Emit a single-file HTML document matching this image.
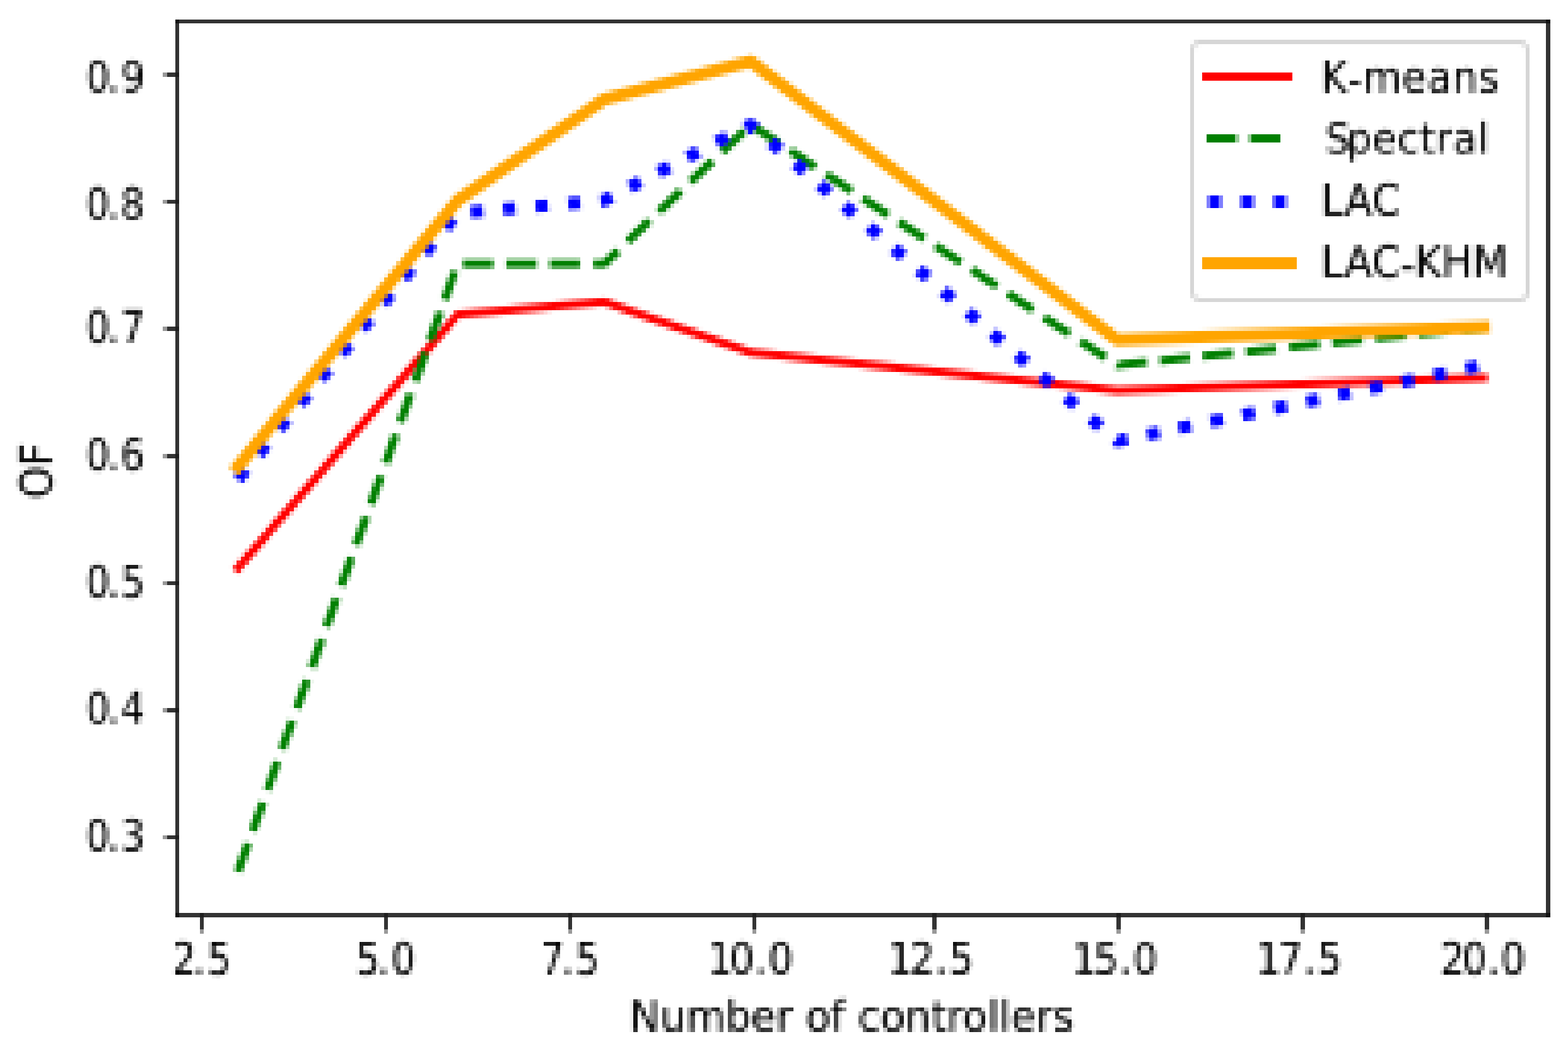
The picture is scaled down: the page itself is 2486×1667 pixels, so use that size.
<!DOCTYPE html>
<html lang="en">
<head>
<meta charset="utf-8">
<title>OF vs. number of controllers</title>
<style>
html,body{margin:0;padding:0;background:#fff;}
body{width:2486px;height:1667px;overflow:hidden;}
figure{margin:0;}
svg{display:block;}
.px{shape-rendering:crispEdges;stroke:none;}
text{font-family:"DejaVu Sans","Liberation Sans",sans-serif;font-size:65px;fill:#00f;stroke:#00f;stroke-width:0.2px;}
.scr{mix-blend-mode:screen;}
</style>
</head>
<body>
<main>
<figure>
<svg width="2486" height="1667" viewBox="0 0 2486 1667" role="img" aria-label="Line chart of OF against number of controllers for K-means, Spectral, LAC and LAC-KHM">
<defs>
<filter id="raster" filterUnits="userSpaceOnUse" x="0" y="0" width="2486" height="1667" color-interpolation-filters="sRGB">
<feColorMatrix in="SourceGraphic" type="matrix" values="0 0 0 0 0  0 0 0 0 0  0 0 0 0 0  0 0 1 0 0" result="ink"/>
<feConvolveMatrix in="ink" order="7 1" kernelMatrix=".75 1 1 1 1 1 .75" divisor="6.5" edgeMode="none" preserveAlpha="false" result="bx"/>
<feConvolveMatrix in="bx" order="1 7" kernelMatrix=".75 1 1 1 1 1 .75" divisor="6.5" edgeMode="none" preserveAlpha="false" result="b"/>
<feDisplacementMap in="b" in2="SourceGraphic" scale="16" xChannelSelector="R" yChannelSelector="G"/>
</filter>
</defs>
<rect width="2486" height="1667" fill="#fff"/>
<!-- data series, drawn in plotting order; each series is built from anti-aliased cells on the chart's native 72-dpi grid -->
<g id="series" class="px">
<g id="series-k-means" fill="#ff0000">
<path d="M953 473h6v6h-6zM875 479h78v7h-78zM959 479h20v7h-20zM803 486h72v6h-72zM979 486h19v6h-19zM725 492h78v7h-78zM998 492h19v7h-19zM719 499h6v6h-6zM1017 499h13v6h-13zM713 505h6v7h-6zM1037 505h13v7h-13zM706 512h7v6h-7zM1056 512h13v6h-13zM700 518h6v13h-6zM1076 518h13v7h-13zM1089 525h19v6h-19zM693 531h7v7h-7zM1108 531h20v7h-20zM687 538h6v6h-6zM1128 538h19v6h-19zM680 544h7v7h-7zM1147 544h20v7h-20zM674 551h6v6h-6zM1167 551h19v6h-19zM667 557h7v7h-7zM1186 557h46v7h-46zM661 564h6v13h-6zM1238 564h58v6h-58zM1296 570h65v7h-65zM654 577h7v6h-7zM1361 577h59v6h-59zM648 583h6v7h-6zM1426 583h59v7h-59zM641 590h7v6h-7zM1485 590h65v6h-65zM635 596h6v7h-6zM1550 596h58v7h-58zM2250 596h104v7h-104zM628 603h7v6h-7zM1614 603h59v6h-59zM2062 603h188v6h-188zM622 609h6v7h-6zM1673 609h65v7h-65zM1874 609h188v7h-188zM615 616h7v13h-7zM1738 616h136v6h-136zM609 629h6v6h-6zM602 635h7v7h-7zM596 642h6v6h-6zM589 648h7v7h-7zM583 655h6v6h-6zM576 661h7v7h-7zM570 668h6v13h-6zM563 681h7v6h-7zM557 687h6v7h-6zM550 694h7v6h-7zM544 700h6v7h-6zM537 707h7v6h-7zM531 713h6v14h-6zM524 727h7v6h-7zM518 733h6v7h-6zM511 740h7v6h-7zM505 746h6v7h-6zM498 753h7v6h-7zM492 759h6v7h-6zM485 766h7v13h-7zM479 779h6v6h-6zM472 785h7v7h-7zM466 792h6v6h-6zM459 798h7v7h-7zM453 805h6v6h-6zM446 811h7v7h-7zM440 818h6v13h-6zM433 831h7v6h-7zM427 837h6v7h-6zM421 844h6v6h-6zM414 850h7v7h-7zM408 857h6v6h-6zM401 863h7v13h-7zM395 876h6v7h-6zM388 883h7v6h-7zM382 889h6v7h-6zM375 896h7v6h-7z"/>
<path fill-opacity=".996" d="M1030 499h7v6h-7zM706 518h7v7h-7zM1069 518h7v7h-7zM1232 557h6v7h-6zM654 570h7v7h-7zM1420 577h6v6h-6zM1608 596h6v7h-6zM576 668h7v6h-7zM524 720h7v7h-7zM446 818h7v6h-7zM395 870h6v6h-6z"/>
<path fill-opacity=".992" d="M1232 564h6v6h-6zM1420 583h6v7h-6zM2244 596h6v7h-6zM1608 603h6v6h-6z"/>
<path fill-opacity=".988" d="M875 486h6v6h-6zM1050 505h6v7h-6zM2056 603h6v6h-6zM2250 603h7v6h-7zM1867 609h7v7h-7zM2062 609h7v7h-7zM622 616h6v6h-6zM1874 616h6v6h-6zM609 622h6v7h-6zM492 766h6v6h-6zM479 772h6v7h-6z"/>
<path fill-opacity=".984" d="M797 486h6v6h-6zM1050 512h6v6h-6z"/>
<path fill-opacity=".98" d="M953 479h6v7h-6zM725 499h7v6h-7zM693 525h7v6h-7zM563 674h7v7h-7zM433 824h7v7h-7z"/>
<path fill-opacity=".976" d="M1069 512h7v6h-7zM667 564h7v6h-7zM1296 564h7v6h-7zM1485 583h6v7h-6zM1673 603h6v6h-6zM537 713h7v7h-7zM408 863h6v7h-6z"/>
<path fill-opacity=".973" d="M1030 505h7v7h-7zM1543 596h7v7h-7zM1731 616h7v6h-7z"/>
<path fill-opacity=".969" d="M946 473h7v6h-7zM648 577h6v6h-6zM1355 577h6v6h-6zM518 727h6v6h-6zM388 876h7v7h-7z"/>
<path fill-opacity=".965" d="M713 512h6v6h-6zM583 661h6v7h-6zM453 811h6v7h-6z"/>
<path fill-opacity=".957" d="M1089 518h6v7h-6zM2237 596h7v7h-7zM2049 603h7v6h-7z"/>
<path fill-opacity=".953" d="M1011 499h6v6h-6zM2257 603h6v6h-6zM1861 609h6v7h-6zM2069 609h6v7h-6zM1880 616h7v6h-7zM602 629h7v6h-7zM472 779h7v6h-7z"/>
<path fill-opacity=".949" d="M628 609h7v7h-7zM498 759h7v7h-7z"/>
<path fill-opacity=".945" d="M1361 570h7v7h-7zM1550 590h6v6h-6z"/>
<path fill-opacity=".941" d="M803 492h7v7h-7zM1738 609h6v7h-6z"/>
<path fill-opacity=".937" d="M1108 525h7v6h-7zM687 531h6v7h-6zM1180 557h6v7h-6zM1478 590h7v6h-7zM1666 609h7v7h-7zM557 681h6v6h-6zM427 831h6v6h-6z"/>
<path fill-opacity=".933" d="M868 479h7v7h-7zM992 492h6v7h-6zM674 557h6v7h-6zM1290 570h6v7h-6zM544 707h6v6h-6zM414 857h7v6h-7z"/>
<path fill-opacity=".922" d="M2231 596h6v7h-6zM2043 603h6v6h-6zM1854 609h7v7h-7z"/>
<path fill-opacity=".918" d="M641 583h7v7h-7zM2263 603h7v6h-7zM2075 609h7v7h-7zM1887 616h6v6h-6zM511 733h7v7h-7zM382 883h6v6h-6z"/>
<path fill-opacity=".914" d="M719 505h6v7h-6zM1128 531h6v7h-6zM1160 551h7v6h-7zM1238 557h7v7h-7zM589 655h7v6h-7zM459 805h7v6h-7z"/>
<path fill-opacity=".91" d="M1426 577h7v6h-7zM1614 596h7v7h-7z"/>
<path fill-opacity=".906" d="M881 486h7v6h-7zM972 486h7v6h-7z"/>
<path fill-opacity=".902" d="M1413 583h7v7h-7zM1601 603h7v6h-7z"/>
<path fill-opacity=".898" d="M790 486h7v6h-7zM1225 564h7v6h-7zM596 635h6v7h-6zM466 785h6v7h-6z"/>
<path fill-opacity=".894" d="M959 473h7v6h-7zM635 603h6v6h-6zM505 753h6v6h-6z"/>
<path fill-opacity=".89" d="M732 499h6v6h-6z"/>
<path fill-opacity=".886" d="M1147 538h7v6h-7zM1141 544h6v7h-6zM2224 596h7v7h-7zM2036 603h7v6h-7zM1848 609h6v7h-6z"/>
<path fill-opacity=".882" d="M940 473h6v6h-6zM2270 603h6v6h-6zM2082 609h6v7h-6zM1893 616h7v6h-7zM375 902h7v7h-7z"/>
<path fill-opacity=".878" d="M680 538h7v6h-7zM1303 564h6v6h-6z"/>
<path fill-opacity=".875" d="M1491 583h7v7h-7zM1679 603h7v6h-7zM550 687h7v7h-7zM421 837h6v7h-6z"/>
<path fill-opacity=".871" d="M680 551h7v6h-7zM1725 616h6v6h-6zM550 700h7v7h-7zM421 850h6v7h-6z"/>
<path fill-opacity=".867" d="M1348 577h7v6h-7zM1537 596h6v7h-6z"/>
<path fill-opacity=".863" d="M979 479h6v7h-6z"/>
<path fill-opacity=".855" d="M810 492h6v7h-6zM1167 544h6v7h-6z"/>
<path fill-opacity=".851" d="M1121 538h7v6h-7zM635 590h6v6h-6zM2218 596h6v7h-6zM2030 603h6v6h-6zM2276 603h7v6h-7zM1842 609h6v7h-6zM505 740h6v6h-6zM375 889h7v7h-7z"/>
<path fill-opacity=".847" d="M862 479h6v7h-6zM2088 609h7v7h-7zM1900 616h6v6h-6zM466 798h6v7h-6z"/>
<path fill-opacity=".843" d="M1368 570h6v7h-6zM596 648h6v7h-6z"/>
<path fill-opacity=".839" d="M1556 590h6v6h-6zM1744 609h7v7h-7z"/>
<path fill-opacity=".835" d="M1660 609h6v7h-6z"/>
<path fill-opacity=".831" d="M1283 570h7v7h-7zM1472 590h6v6h-6z"/>
<path fill-opacity=".827" d="M998 486h6v6h-6z"/>
<path fill-opacity=".824" d="M1186 551h7v6h-7zM589 642h7v6h-7zM459 792h7v6h-7z"/>
<path fill-opacity=".82" d="M888 486h6v6h-6zM2211 596h7v7h-7zM511 746h7v7h-7zM382 896h6v6h-6z"/>
<path fill-opacity=".816" d="M1102 531h6v7h-6zM641 596h7v7h-7zM2023 603h7v6h-7zM2283 603h6v6h-6zM1835 609h7v7h-7zM2095 609h6v7h-6zM1906 616h7v6h-7z"/>
<path fill-opacity=".812" d="M784 486h6v6h-6z"/>
<path fill-opacity=".808" d="M1245 557h6v7h-6zM1433 577h6v6h-6z"/>
<path fill-opacity=".804" d="M738 499h7v6h-7zM1621 596h6v7h-6z"/>
<path fill-opacity=".8" d="M1595 603h6v6h-6z"/>
<path fill-opacity=".796" d="M933 473h7v6h-7zM674 544h6v7h-6zM1219 564h6v6h-6zM1407 583h6v7h-6zM544 694h6v6h-6z"/>
<path fill-opacity=".792" d="M1017 492h7v7h-7zM414 844h7v6h-7z"/>
<path fill-opacity=".788" d="M557 694h6v6h-6zM427 844h6v6h-6z"/>
<path fill-opacity=".784" d="M687 544h6v7h-6zM2205 596h6v7h-6z"/>
<path fill-opacity=".78" d="M1082 525h7v6h-7zM2017 603h6v6h-6zM2289 603h7v6h-7zM1829 609h6v7h-6zM2101 609h7v7h-7zM1913 616h6v6h-6z"/>
<path fill-opacity=".773" d="M1309 564h7v6h-7zM1498 583h6v7h-6z"/>
<path fill-opacity=".769" d="M816 492h7v7h-7zM1686 603h6v6h-6z"/>
<path fill-opacity=".765" d="M628 596h7v7h-7zM1530 596h7v7h-7zM1718 616h7v6h-7zM498 746h7v7h-7z"/>
<path fill-opacity=".761" d="M855 479h7v7h-7zM1342 577h6v6h-6zM369 896h6v6h-6z"/>
<path fill-opacity=".757" d="M1037 499h6v6h-6zM472 792h7v6h-7z"/>
<path fill-opacity=".753" d="M719 492h6v7h-6zM602 642h7v6h-7z"/>
<path fill-opacity=".749" d="M2198 596h7v7h-7zM2010 603h7v6h-7z"/>
<path fill-opacity=".745" d="M1063 518h6v7h-6zM2296 603h6v6h-6zM1822 609h7v7h-7zM2108 609h6v7h-6zM1919 616h7v6h-7z"/>
<path fill-opacity=".737" d="M1374 570h7v7h-7zM1562 590h7v6h-7zM1751 609h6v7h-6z"/>
<path fill-opacity=".733" d="M894 486h7v6h-7z"/>
<path fill-opacity=".729" d="M713 499h6v6h-6zM1465 590h7v6h-7zM1653 609h7v7h-7zM583 648h6v7h-6zM453 798h6v7h-6z"/>
<path fill-opacity=".725" d="M777 486h7v6h-7zM1277 570h6v7h-6z"/>
<path fill-opacity=".722" d="M1056 505h7v7h-7zM648 590h6v6h-6zM518 740h6v6h-6zM388 889h7v7h-7z"/>
<path fill-opacity=".718" d="M745 499h6v6h-6z"/>
<path fill-opacity=".714" d="M2192 596h6v7h-6zM2004 603h6v6h-6zM1816 609h6v7h-6z"/>
<path fill-opacity=".71" d="M927 473h6v6h-6zM1043 512h7v6h-7zM2302 603h7v6h-7zM2114 609h7v7h-7zM1926 616h6v6h-6z"/>
<path fill-opacity=".706" d="M1251 557h7v7h-7z"/>
<path fill-opacity=".702" d="M1439 577h7v6h-7zM1627 596h7v7h-7z"/>
<path fill-opacity=".694" d="M667 551h7v6h-7zM1400 583h7v7h-7zM1588 603h7v6h-7zM537 700h7v7h-7zM408 850h6v7h-6z"/>
<path fill-opacity=".69" d="M1212 564h7v6h-7z"/>
<path fill-opacity=".686" d="M1076 512h6v6h-6zM433 837h7v7h-7z"/>
<path fill-opacity=".682" d="M823 492h6v7h-6zM693 538h7v6h-7zM563 687h7v7h-7z"/>
<path fill-opacity=".678" d="M2185 596h7v7h-7zM1997 603h7v6h-7zM1809 609h7v7h-7z"/>
<path fill-opacity=".675" d="M849 479h6v7h-6zM1024 505h6v7h-6zM2309 603h6v6h-6zM2121 609h6v7h-6zM1932 616h7v6h-7z"/>
<path fill-opacity=".671" d="M1316 564h6v6h-6z"/>
<path fill-opacity=".667" d="M1504 583h7v7h-7zM1692 603h7v6h-7z"/>
<path fill-opacity=".663" d="M2354 596h7v7h-7zM1712 616h6v6h-6z"/>
<path fill-opacity=".659" d="M1335 577h7v6h-7zM1524 596h6v7h-6z"/>
<path fill-opacity=".655" d="M622 603h6v6h-6zM492 753h6v6h-6z"/>
<path fill-opacity=".651" d="M1095 518h7v7h-7z"/>
<path fill-opacity=".647" d="M901 486h6v6h-6zM609 635h6v7h-6zM479 785h6v7h-6z"/>
<path fill-opacity=".643" d="M2179 596h6v7h-6zM1991 603h6v6h-6zM2315 603h7v6h-7zM1803 609h6v7h-6zM2127 609h6v7h-6zM1939 616h6v6h-6z"/>
<path fill-opacity=".639" d="M771 486h6v6h-6zM1004 499h7v6h-7z"/>
<path fill-opacity=".635" d="M1193 551h6v6h-6zM1381 570h6v7h-6z"/>
<path fill-opacity=".631" d="M751 499h7v6h-7zM1569 590h6v6h-6zM1757 609h7v7h-7z"/>
<path fill-opacity=".627" d="M1647 609h6v7h-6z"/>
<path fill-opacity=".624" d="M920 473h7v6h-7zM1271 570h6v7h-6zM1459 590h6v6h-6z"/>
<path fill-opacity=".616" d="M706 505h7v7h-7zM1115 525h6v6h-6zM576 655h7v6h-7z"/>
<path fill-opacity=".612" d="M1173 557h7v7h-7zM2172 596h7v7h-7zM446 805h7v6h-7z"/>
<path fill-opacity=".608" d="M1984 603h7v6h-7zM2322 603h6v6h-6zM1796 609h7v7h-7zM2133 609h7v7h-7zM1945 616h7v6h-7zM524 733h7v7h-7zM395 883h6v6h-6z"/>
<path fill-opacity=".604" d="M985 492h7v7h-7zM654 583h7v7h-7z"/>
<path fill-opacity=".6" d="M1258 557h6v7h-6zM1446 577h6v6h-6z"/>
<path fill-opacity=".596" d="M829 492h7v7h-7zM1634 596h6v7h-6z"/>
<path fill-opacity=".592" d="M1582 603h6v6h-6z"/>
<path fill-opacity=".588" d="M842 479h7v7h-7zM1206 564h6v6h-6zM1394 583h6v7h-6z"/>
<path fill-opacity=".58" d="M1134 531h7v7h-7z"/>
<path fill-opacity=".576" d="M1154 551h6v6h-6zM2166 596h6v7h-6z"/>
<path fill-opacity=".573" d="M661 557h6v7h-6zM1978 603h6v6h-6zM2328 603h7v6h-7zM1790 609h6v7h-6zM2140 609h6v7h-6zM1952 616h6v6h-6zM531 707h6v6h-6z"/>
<path fill-opacity=".569" d="M966 486h6v6h-6zM401 857h7v6h-7z"/>
<path fill-opacity=".565" d="M1322 564h7v6h-7zM1511 583h6v7h-6zM440 831h6v6h-6z"/>
<path fill-opacity=".561" d="M907 486h7v6h-7zM700 531h6v7h-6zM1699 603h6v6h-6zM570 681h6v6h-6z"/>
<path fill-opacity=".557" d="M1517 596h7v7h-7zM1705 616h7v6h-7z"/>
<path fill-opacity=".553" d="M966 473h6v6h-6zM764 486h7v6h-7zM1329 577h6v6h-6z"/>
<path fill-opacity=".545" d="M758 499h6v6h-6zM1154 538h6v6h-6z"/>
<path fill-opacity=".541" d="M1134 544h7v7h-7zM2348 590h6v6h-6zM2159 596h7v7h-7zM1971 603h7v6h-7z"/>
<path fill-opacity=".537" d="M914 473h6v6h-6zM2335 603h6v6h-6zM1783 609h7v7h-7zM2146 609h7v7h-7zM1958 616h7v6h-7zM1770 622h7v7h-7z"/>
<path fill-opacity=".533" d="M1199 551h7v6h-7z"/>
<path fill-opacity=".529" d="M1387 570h7v7h-7zM1575 590h7v6h-7zM615 609h7v7h-7zM1764 609h6v7h-6z"/>
<path fill-opacity=".525" d="M485 759h7v7h-7z"/>
<path fill-opacity=".522" d="M1452 590h7v6h-7zM1640 609h7v7h-7zM485 779h7v6h-7z"/>
<path fill-opacity=".518" d="M985 479h7v7h-7zM1264 570h7v7h-7zM615 629h7v6h-7z"/>
<path fill-opacity=".51" d="M836 492h6v7h-6zM1173 544h7v7h-7z"/>
<path fill-opacity=".506" d="M2341 590h7v6h-7zM2153 596h6v7h-6zM1965 603h6v6h-6zM1777 609h6v7h-6z"/>
<path fill-opacity=".502" d="M836 479h6v7h-6zM1115 538h6v6h-6zM2341 603h7v6h-7zM2153 609h6v7h-6zM1965 616h6v6h-6zM1777 622h6v7h-6z"/>
<path fill-opacity=".498" d="M1264 557h7v7h-7z"/>
<path fill-opacity=".494" d="M1452 577h7v6h-7zM1640 596h7v7h-7z"/>
<path fill-opacity=".49" d="M1764 622h6v7h-6z"/>
<path fill-opacity=".486" d="M700 512h6v6h-6zM1387 583h7v7h-7zM1575 603h7v6h-7z"/>
<path fill-opacity=".482" d="M1004 486h7v6h-7zM1199 564h7v6h-7zM570 661h6v7h-6zM440 811h6v7h-6z"/>
<path fill-opacity=".478" d="M401 876h7v7h-7z"/>
<path fill-opacity=".475" d="M914 486h6v6h-6zM661 577h6v6h-6zM531 727h6v6h-6z"/>
<path fill-opacity=".471" d="M2335 590h6v6h-6zM2146 596h7v7h-7zM1958 603h7v6h-7zM1770 609h7v7h-7z"/>
<path fill-opacity=".467" d="M758 486h6v6h-6zM1095 531h7v7h-7zM2348 603h6v6h-6zM2159 609h7v7h-7zM1971 616h7v6h-7zM1783 622h7v7h-7z"/>
<path fill-opacity=".463" d="M1329 564h6v6h-6z"/>
<path fill-opacity=".459" d="M764 499h7v6h-7zM1517 583h7v7h-7zM1705 603h7v6h-7z"/>
<path fill-opacity=".455" d="M1699 616h6v6h-6z"/>
<path fill-opacity=".451" d="M907 473h7v6h-7zM1322 577h7v6h-7zM1511 596h6v7h-6z"/>
<path fill-opacity=".447" d="M1024 492h6v7h-6z"/>
<path fill-opacity=".443" d="M654 564h7v6h-7z"/>
<path fill-opacity=".439" d="M2328 590h7v6h-7zM524 713h7v7h-7zM395 863h6v7h-6z"/>
<path fill-opacity=".435" d="M2140 596h6v7h-6zM1952 603h6v6h-6zM2166 609h6v7h-6zM1978 616h6v6h-6zM1790 622h6v7h-6z"/>
<path fill-opacity=".431" d="M706 525h7v6h-7zM1076 525h6v6h-6zM576 674h7v7h-7zM446 824h7v7h-7z"/>
<path fill-opacity=".427" d="M1206 551h6v6h-6zM1394 570h6v7h-6zM369 902h6v7h-6z"/>
<path fill-opacity=".424" d="M842 492h7v7h-7zM1582 590h6v6h-6z"/>
<path fill-opacity=".42" d="M1634 609h6v7h-6z"/>
<path fill-opacity=".416" d="M829 479h7v7h-7zM1258 570h6v7h-6zM1446 590h6v6h-6z"/>
<path fill-opacity=".412" d="M1043 499h7v6h-7z"/>
<path fill-opacity=".404" d="M2322 590h6v6h-6zM2133 596h7v7h-7z"/>
<path fill-opacity=".4" d="M1945 603h7v6h-7zM2172 609h7v7h-7zM609 616h6v6h-6zM1984 616h7v6h-7zM1796 622h7v7h-7zM479 766h6v6h-6z"/>
<path fill-opacity=".396" d="M1056 518h7v7h-7z"/>
<path fill-opacity=".392" d="M1271 557h6v7h-6zM1459 577h6v6h-6zM492 772h6v7h-6z"/>
<path fill-opacity=".388" d="M920 486h7v6h-7zM1647 596h6v7h-6zM622 622h6v7h-6z"/>
<path fill-opacity=".384" d="M1569 603h6v6h-6zM1757 622h7v7h-7z"/>
<path fill-opacity=".38" d="M751 486h7v6h-7zM1193 564h6v6h-6zM1381 583h6v7h-6z"/>
<path fill-opacity=".376" d="M1063 505h6v7h-6z"/>
<path fill-opacity=".373" d="M771 499h6v6h-6z"/>
<path fill-opacity=".369" d="M2315 590h7v6h-7zM2127 596h6v7h-6z"/>
<path fill-opacity=".365" d="M901 473h6v6h-6zM1939 603h6v6h-6zM2179 609h6v7h-6zM1991 616h6v6h-6zM1803 622h6v7h-6z"/>
<path fill-opacity=".361" d="M1037 512h6v6h-6zM693 518h7v7h-7zM2354 590h7v6h-7z"/>
<path fill-opacity=".357" d="M1335 564h7v6h-7zM1524 583h6v7h-6zM563 668h7v6h-7zM433 818h7v6h-7z"/>
<path fill-opacity=".353" d="M1712 603h6v6h-6zM408 870h6v6h-6z"/>
<path fill-opacity=".349" d="M667 570h7v7h-7zM1504 596h7v7h-7zM1692 616h7v6h-7zM537 720h7v7h-7z"/>
<path fill-opacity=".345" d="M1316 577h6v6h-6z"/>
<path fill-opacity=".341" d="M1082 512h7v6h-7z"/>
<path fill-opacity=".337" d="M849 492h6v7h-6z"/>
<path fill-opacity=".333" d="M2309 590h6v6h-6zM2121 596h6v7h-6zM1932 603h7v6h-7z"/>
<path fill-opacity=".329" d="M823 479h6v7h-6zM1017 505h7v7h-7zM2185 609h7v7h-7zM1997 616h7v6h-7zM1809 622h7v7h-7z"/>
<path fill-opacity=".325" d="M1212 551h7v6h-7z"/>
<path fill-opacity=".322" d="M648 570h6v7h-6zM1400 570h7v7h-7zM1588 590h7v6h-7zM518 720h6v7h-6z"/>
<path fill-opacity=".318" d="M388 870h7v6h-7z"/>
<path fill-opacity=".314" d="M1439 590h7v6h-7zM1627 609h7v7h-7z"/>
<path fill-opacity=".31" d="M713 518h6v7h-6zM1251 570h7v7h-7zM583 668h6v6h-6zM453 818h6v6h-6z"/>
<path fill-opacity=".306" d="M1102 518h6v7h-6z"/>
<path fill-opacity=".302" d="M927 486h6v6h-6zM2354 603h7v6h-7z"/>
<path fill-opacity=".298" d="M2302 590h7v6h-7zM2114 596h7v7h-7zM1926 603h6v6h-6z"/>
<path fill-opacity=".294" d="M745 486h6v6h-6zM998 499h6v6h-6zM2192 609h6v7h-6zM2004 616h6v6h-6zM1816 622h6v7h-6z"/>
<path fill-opacity=".29" d="M1277 557h6v7h-6z"/>
<path fill-opacity=".286" d="M777 499h7v6h-7zM1465 577h7v6h-7zM1653 596h7v7h-7zM602 622h7v7h-7z"/>
<path fill-opacity=".282" d="M1751 622h6v7h-6zM472 772h7v7h-7z"/>
<path fill-opacity=".278" d="M894 473h7v6h-7zM1374 583h7v7h-7zM1562 603h7v6h-7zM498 766h7v6h-7z"/>
<path fill-opacity=".275" d="M628 616h7v6h-7z"/>
<path fill-opacity=".271" d="M1121 525h7v6h-7z"/>
<path fill-opacity=".263" d="M1167 557h6v7h-6zM2296 590h6v6h-6zM2108 596h6v7h-6zM1919 603h7v6h-7z"/>
<path fill-opacity=".259" d="M979 492h6v7h-6zM2198 609h7v7h-7zM2010 616h7v6h-7zM1822 622h7v7h-7z"/>
<path fill-opacity=".255" d="M1186 564h7v6h-7zM1342 564h6v6h-6z"/>
<path fill-opacity=".251" d="M855 492h7v7h-7zM687 525h6v6h-6zM1530 583h7v7h-7zM1718 603h7v6h-7zM557 674h6v7h-6z"/>
<path fill-opacity=".247" d="M1686 616h6v6h-6zM427 824h6v7h-6z"/>
<path fill-opacity=".243" d="M816 479h7v7h-7zM1309 577h7v6h-7zM1498 596h6v7h-6zM544 713h6v7h-6zM414 863h7v7h-7z"/>
<path fill-opacity=".239" d="M674 564h6v6h-6z"/>
<path fill-opacity=".235" d="M1141 531h6v7h-6z"/>
<path fill-opacity=".231" d="M2289 590h7v6h-7z"/>
<path fill-opacity=".227" d="M1147 551h7v6h-7zM2101 596h7v7h-7zM1913 603h6v6h-6zM2205 609h6v7h-6zM2017 616h6v6h-6zM1829 622h6v7h-6z"/>
<path fill-opacity=".224" d="M959 486h7v6h-7z"/>
<path fill-opacity=".22" d="M1219 551h6v6h-6zM1407 570h6v7h-6zM641 577h7v6h-7z"/>
<path fill-opacity=".216" d="M933 486h7v6h-7zM1595 590h6v6h-6zM511 727h7v6h-7zM382 876h6v7h-6z"/>
<path fill-opacity=".212" d="M1621 609h6v7h-6zM589 661h7v7h-7zM459 811h7v7h-7z"/>
<path fill-opacity=".208" d="M972 473h7v6h-7zM738 486h7v6h-7zM719 512h6v6h-6zM1245 570h6v7h-6zM1433 590h6v6h-6z"/>
<path fill-opacity=".2" d="M784 499h6v6h-6zM1160 538h7v6h-7z"/>
<path fill-opacity=".196" d="M2283 590h6v6h-6zM2095 596h6v7h-6z"/>
<path fill-opacity=".192" d="M888 473h6v6h-6zM1128 544h6v7h-6zM1906 603h7v6h-7zM2211 609h7v7h-7zM2023 616h7v6h-7zM1835 622h7v7h-7z"/>
<path fill-opacity=".188" d="M596 629h6v6h-6zM466 779h6v6h-6z"/>
<path fill-opacity=".184" d="M1283 557h7v7h-7zM1472 577h6v6h-6z"/>
<path fill-opacity=".18" d="M1660 596h6v7h-6zM635 609h6v7h-6zM505 759h6v7h-6z"/>
<path fill-opacity=".176" d="M1556 603h6v6h-6zM1744 622h7v7h-7z"/>
<path fill-opacity=".173" d="M992 479h6v7h-6zM1368 583h6v7h-6z"/>
<path fill-opacity=".165" d="M862 492h6v7h-6z"/>
<path fill-opacity=".161" d="M680 531h7v7h-7zM1108 538h7v6h-7zM1180 544h6v7h-6zM2276 590h7v6h-7zM2088 596h7v7h-7zM550 681h7v6h-7zM421 831h6v6h-6z"/>
<path fill-opacity=".157" d="M810 479h6v7h-6zM1900 603h6v6h-6zM2218 609h6v7h-6zM2030 616h6v6h-6zM1842 622h6v7h-6zM421 857h6v6h-6z"/>
<path fill-opacity=".153" d="M680 557h7v7h-7zM550 707h7v6h-7z"/>
<path fill-opacity=".149" d="M1348 564h7v6h-7zM1537 583h6v7h-6z"/>
<path fill-opacity=".145" d="M1725 603h6v6h-6z"/>
<path fill-opacity=".141" d="M1491 596h7v7h-7zM1679 616h7v6h-7z"/>
<path fill-opacity=".137" d="M1011 486h6v6h-6zM1303 577h6v6h-6zM635 583h6v7h-6zM505 733h6v7h-6zM375 883h7v6h-7z"/>
<path fill-opacity=".129" d="M940 486h6v6h-6zM725 505h7v7h-7zM1089 531h6v7h-6zM596 655h6v6h-6zM466 805h6v6h-6z"/>
<path fill-opacity=".125" d="M2270 590h6v6h-6zM2082 596h6v7h-6zM1893 603h7v6h-7z"/>
<path fill-opacity=".122" d="M732 486h6v6h-6zM2224 609h7v7h-7zM2036 616h7v6h-7zM1848 622h6v7h-6z"/>
<path fill-opacity=".118" d="M1225 551h7v6h-7z"/>
<path fill-opacity=".114" d="M790 499h7v6h-7zM1413 570h7v7h-7zM1601 590h7v6h-7zM589 635h7v7h-7zM459 785h7v7h-7z"/>
<path fill-opacity=".11" d="M1030 492h7v7h-7zM511 753h7v6h-7zM382 902h6v7h-6z"/>
<path fill-opacity=".106" d="M881 473h7v6h-7zM1426 590h7v6h-7zM641 603h7v6h-7zM1614 609h7v7h-7z"/>
<path fill-opacity=".102" d="M1238 570h7v7h-7z"/>
<path fill-opacity=".098" d="M1069 525h7v6h-7z"/>
<path fill-opacity=".094" d="M674 538h6v6h-6z"/>
<path fill-opacity=".09" d="M2263 590h7v6h-7zM2075 596h7v7h-7zM1887 603h6v6h-6zM544 687h6v7h-6zM414 837h7v7h-7zM427 850h6v7h-6z"/>
<path fill-opacity=".086" d="M687 551h6v6h-6zM2231 609h6v7h-6zM2043 616h6v6h-6zM1854 622h7v7h-7zM557 700h6v7h-6z"/>
<path fill-opacity=".082" d="M1050 499h6v6h-6zM1290 557h6v7h-6z"/>
<path fill-opacity=".078" d="M868 492h7v7h-7zM1478 577h7v6h-7zM1666 596h7v7h-7z"/>
<path fill-opacity=".075" d="M1050 518h6v7h-6zM628 590h7v6h-7zM1738 622h6v7h-6zM498 740h7v6h-7z"/>
<path fill-opacity=".071" d="M803 479h7v7h-7zM1361 583h7v7h-7zM1550 603h6v6h-6zM472 798h7v7h-7zM369 889h6v7h-6z"/>
<path fill-opacity=".067" d="M602 648h7v7h-7z"/>
<path fill-opacity=".063" d="M1069 505h7v7h-7z"/>
<path fill-opacity=".059" d="M713 492h6v7h-6zM583 642h6v6h-6z"/>
<path fill-opacity=".055" d="M1030 512h7v6h-7zM2257 590h6v6h-6zM2069 596h6v7h-6zM1880 603h7v6h-7zM518 746h6v7h-6zM453 792h6v6h-6zM388 896h7v6h-7z"/>
<path fill-opacity=".051" d="M648 596h6v7h-6zM2237 609h7v7h-7zM2049 616h7v6h-7zM1861 622h6v7h-6z"/>
<path fill-opacity=".047" d="M953 466h6v7h-6zM1355 564h6v6h-6z"/>
<path fill-opacity=".043" d="M946 486h7v6h-7zM667 544h7v7h-7zM1543 583h7v7h-7zM1731 603h7v6h-7zM1673 616h6v6h-6zM537 694h7v6h-7zM408 844h6v6h-6zM375 909h7v6h-7z"/>
<path fill-opacity=".039" d="M1089 512h6v6h-6zM693 544h7v7h-7zM1296 577h7v6h-7zM1485 596h6v7h-6zM563 694h7v6h-7zM433 844h7v6h-7z"/>
<path fill-opacity=".035" d="M725 486h7v6h-7zM1011 505h6v7h-6z"/>
<path fill-opacity=".031" d="M622 596h6v7h-6zM492 746h6v7h-6z"/>
<path fill-opacity=".027" d="M797 499h6v6h-6zM1108 518h7v7h-7zM609 642h6v6h-6zM479 792h6v6h-6z"/>
<path fill-opacity=".024" d="M875 473h6v6h-6zM992 499h6v6h-6zM1180 564h6v6h-6zM2250 590h7v6h-7z"/>
<path fill-opacity=".02" d="M706 499h7v6h-7zM1232 551h6v6h-6zM1420 570h6v7h-6zM654 590h7v6h-7zM1608 590h6v6h-6zM2062 596h7v7h-7zM1874 603h6v6h-6zM2244 609h6v7h-6zM2056 616h6v6h-6zM1867 622h7v7h-7zM576 648h7v7h-7zM524 740h7v6h-7zM446 798h7v7h-7zM395 889h6v7h-6z"/>
<path fill-opacity=".016" d="M1128 525h6v6h-6zM1160 557h7v7h-7zM1232 570h6v7h-6zM1420 590h6v6h-6zM1608 609h6v7h-6zM362 896h7v6h-7z"/>
<path fill-opacity=".012" d="M972 492h7v7h-7zM700 538h6v6h-6zM661 551h6v6h-6zM570 687h6v7h-6zM531 700h6v7h-6zM440 837h6v7h-6zM401 850h7v7h-7z"/>
<path fill-opacity=".008" d="M959 466h7v7h-7zM875 492h6v7h-6zM1147 531h7v7h-7zM1141 551h6v6h-6zM615 603h7v6h-7zM485 753h7v6h-7z"/>
<path fill-opacity=".004" d="M946 466h7v7h-7zM979 473h6v6h-6zM797 479h6v7h-6zM953 486h6v6h-6zM700 505h6v7h-6zM1167 538h6v6h-6zM1121 544h7v7h-7zM654 557h7v7h-7zM1296 557h7v7h-7zM1485 577h6v6h-6zM661 583h6v7h-6zM1355 583h6v7h-6zM2244 590h6v6h-6zM1673 596h6v7h-6zM1543 603h7v6h-7zM1731 622h7v7h-7zM615 635h7v7h-7zM570 655h6v6h-6zM524 707h7v6h-7zM531 733h6v7h-6zM485 785h7v7h-7zM440 805h6v6h-6zM401 883h7v6h-7z"/>
</g>
<g id="series-spectral" fill="#008000">
<path d="M1199 200h7v6h-7zM1206 206h6v7h-6zM1167 213h6v6h-6zM1212 213h13v6h-13zM1160 219h7v7h-7zM1225 219h7v7h-7zM1154 226h6v6h-6zM1147 232h7v7h-7zM1258 239h6v6h-6zM1264 245h7v7h-7zM1271 252h12v6h-12zM1121 258h7v7h-7zM1283 258h7v7h-7zM1115 265h6v6h-6zM1108 271h7v7h-7zM1102 278h6v6h-6zM1309 278h13v6h-13zM1322 284h7v7h-7zM1329 291h13v6h-13zM1342 297h6v7h-6zM1069 304h7v6h-7zM1063 310h6v7h-6zM1056 317h7v6h-7zM1374 317h7v6h-7zM1050 323h6v7h-6zM1381 323h13v7h-13zM1394 330h6v6h-6zM1400 336h7v7h-7zM1017 356h7v6h-7zM1433 356h6v6h-6zM1011 362h6v7h-6zM1439 362h13v7h-13zM1004 369h7v6h-7zM1452 369h7v6h-7zM998 375h6v7h-6zM1485 388h6v7h-6zM1491 395h7v6h-7zM972 401h7v7h-7zM1498 401h13v7h-13zM959 408h13v6h-13zM1511 408h6v6h-6zM738 414h39v7h-39zM803 414h46v7h-46zM875 414h39v7h-39zM946 414h20v7h-20zM1543 427h7v7h-7zM1550 434h6v6h-6zM713 440h6v13h-6zM1562 440h7v7h-7zM1569 447h6v6h-6zM706 453h7v20h-7zM1601 466h7v7h-7zM1608 473h13v6h-13zM1621 479h6v7h-6zM1627 486h7v6h-7zM693 499h7v6h-7zM1660 505h6v7h-6zM687 512h6v13h-6zM1666 512h13v6h-13zM1679 518h7v7h-7zM2322 518h26v7h-26zM680 525h7v13h-7zM1686 525h6v6h-6zM2250 525h46v6h-46zM2185 531h39v7h-39zM2114 538h45v6h-45zM1718 544h7v7h-7zM2049 544h39v7h-39zM1731 551h7v6h-7zM1984 551h39v6h-39zM1738 557h6v7h-6zM1919 557h33v7h-33zM1978 557h6v7h-6zM667 564h7v13h-7zM1854 564h26v6h-26zM1913 564h6v6h-6zM1796 570h20v7h-20zM1842 570h12v7h-12zM1777 577h19v6h-19zM661 583h6v13h-6zM654 596h7v7h-7zM648 629h6v6h-6zM641 635h7v13h-7zM635 655h6v13h-6zM622 694h6v13h-6zM615 707h7v13h-7zM609 727h6v6h-6zM596 759h6v20h-6zM589 779h7v19h-7zM576 824h7v7h-7zM570 831h6v19h-6zM563 850h7v13h-7zM550 889h7v13h-7zM544 902h6v20h-6zM537 922h7v6h-7zM524 961h7v13h-7zM518 974h6v19h-6zM505 1019h6v7h-6zM498 1032h7v13h-7zM492 1045h6v13h-6zM479 1084h6v13h-6zM472 1104h7v13h-7zM459 1149h7v7h-7zM453 1156h6v13h-6zM446 1175h7v13h-7zM433 1208h7v19h-7zM427 1227h6v20h-6zM408 1279h6v20h-6zM401 1299h7v19h-7zM388 1338h7v13h-7zM382 1351h6v19h-6zM375 1370h7v7h-7z"/>
<path fill-opacity=".996" d="M713 434h6v6h-6zM1556 434h6v6h-6zM1725 551h6v6h-6zM1744 557h7v7h-7zM615 720h7v7h-7zM453 1169h6v6h-6z"/>
<path fill-opacity=".992" d="M966 401h6v7h-6zM641 648h7v7h-7zM479 1097h6v7h-6z"/>
<path fill-opacity=".988" d="M1095 278h7v6h-7zM1556 440h6v7h-6zM1575 447h7v6h-7zM687 505h6v7h-6zM1725 544h6v7h-6zM1744 564h7v6h-7zM1854 570h7v7h-7zM667 577h7v6h-7zM524 954h7v7h-7zM505 1026h6v6h-6z"/>
<path fill-opacity=".984" d="M1329 284h6v7h-6zM1368 317h6v6h-6zM1024 349h6v7h-6zM1426 349h7v7h-7zM693 505h7v7h-7zM1978 551h6v6h-6zM1790 570h6v7h-6zM661 577h6v6h-6zM531 954h6v7h-6zM498 1026h7v6h-7z"/>
<path fill-opacity=".98" d="M1069 310h7v7h-7zM1517 408h7v6h-7zM635 648h6v7h-6zM472 1097h7v7h-7z"/>
<path fill-opacity=".976" d="M1173 206h7v7h-7zM1102 271h6v7h-6zM1387 330h7v6h-7zM719 434h6v6h-6z"/>
<path fill-opacity=".973" d="M1199 206h7v7h-7zM1498 395h6v6h-6zM609 720h6v7h-6zM446 1169h7v6h-7z"/>
<path fill-opacity=".969" d="M1063 317h6v6h-6zM972 395h7v6h-7zM1686 518h6v7h-6zM421 1240h6v7h-6z"/>
<path fill-opacity=".965" d="M1108 265h7v6h-7zM1095 284h7v7h-7z"/>
<path fill-opacity=".961" d="M1219 219h6v7h-6zM1076 304h6v6h-6zM2289 518h7v7h-7zM1919 564h7v6h-7zM583 792h6v6h-6zM505 1013h6v6h-6z"/>
<path fill-opacity=".957" d="M1043 330h7v6h-7zM1614 479h7v7h-7zM1666 505h7v7h-7zM1913 557h6v7h-6zM550 883h7v6h-7zM472 1117h7v6h-7zM459 1143h7v6h-7zM375 1377h7v6h-7z"/>
<path fill-opacity=".953" d="M1271 245h6v7h-6zM1459 375h6v7h-6zM1880 564h7v6h-7z"/>
<path fill-opacity=".949" d="M1115 258h6v7h-6zM1056 323h7v7h-7zM1426 356h7v6h-7zM1459 369h6v6h-6zM1770 577h7v6h-7zM661 596h6v7h-6zM498 1045h7v7h-7zM421 1247h6v6h-6zM414 1273h7v6h-7z"/>
<path fill-opacity=".945" d="M1251 239h7v6h-7zM524 974h7v6h-7z"/>
<path fill-opacity=".941" d="M687 525h6v6h-6z"/>
<path fill-opacity=".937" d="M1446 369h6v6h-6zM641 629h7v6h-7zM466 1117h6v6h-6z"/>
<path fill-opacity=".933" d="M1050 330h6v6h-6zM1439 356h7v6h-7zM713 453h6v7h-6zM550 902h7v7h-7zM479 1078h6v6h-6zM388 1351h7v6h-7z"/>
<path fill-opacity=".929" d="M1258 245h6v7h-6zM1627 479h7v7h-7zM1796 577h7v6h-7zM615 700h7v7h-7z"/>
<path fill-opacity=".925" d="M914 414h6v7h-6zM1984 557h7v7h-7zM576 831h7v6h-7zM453 1149h6v7h-6zM414 1279h7v7h-7z"/>
<path fill-opacity=".922" d="M1848 564h6v6h-6z"/>
<path fill-opacity=".918" d="M1173 213h7v6h-7zM998 369h6v6h-6zM589 772h7v7h-7zM427 1221h6v6h-6z"/>
<path fill-opacity=".914" d="M1277 258h6v7h-6zM1653 505h7v7h-7zM602 759h7v7h-7z"/>
<path fill-opacity=".91" d="M1608 466h6v7h-6zM1673 518h6v7h-6z"/>
<path fill-opacity=".906" d="M1212 206h7v7h-7zM1121 252h7v6h-7zM563 844h7v6h-7zM401 1292h7v7h-7z"/>
<path fill-opacity=".902" d="M1485 395h6v6h-6z"/>
<path fill-opacity=".898" d="M1400 330h7v6h-7zM700 466h6v7h-6z"/>
<path fill-opacity=".894" d="M1167 219h6v7h-6zM1004 362h7v7h-7zM1634 486h6v6h-6zM1861 570h6v7h-6zM537 915h7v7h-7zM375 1364h7v6h-7z"/>
<path fill-opacity=".89" d="M2049 551h7v6h-7z"/>
<path fill-opacity=".886" d="M1783 570h7v7h-7z"/>
<path fill-opacity=".882" d="M1232 219h6v7h-6zM1504 408h7v6h-7zM940 414h6v7h-6z"/>
<path fill-opacity=".878" d="M1381 317h6v6h-6zM992 375h6v7h-6z"/>
<path fill-opacity=".875" d="M1316 284h6v7h-6z"/>
<path fill-opacity=".871" d="M1160 226h7v6h-7zM1569 440h6v7h-6zM382 1370h6v7h-6z"/>
<path fill-opacity=".867" d="M1011 356h6v6h-6zM1712 544h6v7h-6zM544 922h6v6h-6z"/>
<path fill-opacity=".859" d="M1368 310h6v7h-6zM622 687h6v7h-6z"/>
<path fill-opacity=".855" d="M1335 297h7v7h-7zM2283 518h6v7h-6zM2114 544h7v7h-7zM1926 564h6v6h-6zM570 850h6v7h-6zM408 1299h6v6h-6z"/>
<path fill-opacity=".851" d="M1550 427h6v7h-6zM1595 466h6v7h-6z"/>
<path fill-opacity=".847" d="M1731 557h7v7h-7zM576 818h7v6h-7z"/>
<path fill-opacity=".843" d="M1154 232h6v7h-6zM1738 551h6v6h-6zM596 779h6v6h-6zM433 1227h7v7h-7z"/>
<path fill-opacity=".839" d="M1017 349h7v7h-7zM1906 564h7v6h-7z"/>
<path fill-opacity=".835" d="M1342 291h6v6h-6zM1543 434h7v6h-7zM2043 544h6v7h-6zM531 948h6v6h-6z"/>
<path fill-opacity=".831" d="M1024 356h6v6h-6zM570 824h6v7h-6zM408 1273h6v6h-6z"/>
<path fill-opacity=".827" d="M622 707h6v6h-6zM459 1156h7v6h-7z"/>
<path fill-opacity=".824" d="M1147 226h7v6h-7zM1991 557h6v7h-6zM1803 577h6v6h-6zM485 1078h7v6h-7z"/>
<path fill-opacity=".82" d="M706 447h7v6h-7zM2218 525h6v6h-6zM1718 538h7v6h-7zM1842 564h6v6h-6z"/>
<path fill-opacity=".816" d="M1562 447h7v6h-7zM596 753h6v6h-6zM544 896h6v6h-6zM382 1344h6v7h-6z"/>
<path fill-opacity=".812" d="M1322 278h7v6h-7zM667 557h7v7h-7zM648 635h6v7h-6zM511 987h7v6h-7zM485 1084h7v7h-7z"/>
<path fill-opacity=".808" d="M1374 323h7v7h-7z"/>
<path fill-opacity=".804" d="M1141 232h6v7h-6zM680 518h7v7h-7zM518 967h6v7h-6z"/>
<path fill-opacity=".8" d="M1511 401h6v7h-6z"/>
<path fill-opacity=".796" d="M1017 362h7v7h-7zM674 564h6v6h-6z"/>
<path fill-opacity=".792" d="M1154 219h6v7h-6zM1517 414h7v7h-7zM1712 538h6v6h-6zM1906 557h7v7h-7zM654 590h7v6h-7z"/>
<path fill-opacity=".788" d="M2341 512h7v6h-7zM1867 570h7v7h-7zM492 1039h6v6h-6z"/>
<path fill-opacity=".784" d="M1290 258h6v7h-6zM2153 531h6v7h-6zM2056 551h6v6h-6z"/>
<path fill-opacity=".78" d="M1777 570h6v7h-6z"/>
<path fill-opacity=".776" d="M1193 200h6v6h-6zM1147 239h7v6h-7zM1394 336h6v7h-6z"/>
<path fill-opacity=".773" d="M1206 213h6v6h-6zM1491 388h7v7h-7zM466 1110h6v7h-6z"/>
<path fill-opacity=".769" d="M628 661h7v7h-7z"/>
<path fill-opacity=".765" d="M1679 512h7v6h-7z"/>
<path fill-opacity=".761" d="M1011 369h6v6h-6zM395 1312h6v6h-6z"/>
<path fill-opacity=".757" d="M1160 213h7v6h-7zM1601 473h7v6h-7z"/>
<path fill-opacity=".753" d="M1283 252h7v6h-7zM2276 518h7v7h-7zM2121 544h6v7h-6zM1932 564h7v6h-7zM427 1247h6v6h-6z"/>
<path fill-opacity=".741" d="M1225 226h7v6h-7zM615 727h7v6h-7zM453 1175h6v7h-6z"/>
<path fill-opacity=".733" d="M1660 499h6v6h-6z"/>
<path fill-opacity=".729" d="M1621 486h6v6h-6zM2179 531h6v7h-6z"/>
<path fill-opacity=".725" d="M1264 239h7v6h-7zM1004 375h7v7h-7zM641 655h7v6h-7zM479 1104h6v6h-6z"/>
<path fill-opacity=".722" d="M777 414h7v7h-7zM1809 577h7v6h-7zM440 1208h6v6h-6z"/>
<path fill-opacity=".718" d="M1167 206h6v7h-6zM1433 362h6v7h-6zM2211 525h7v6h-7zM2224 531h7v7h-7zM2185 538h7v6h-7zM2043 551h6v6h-6zM1997 557h7v7h-7z"/>
<path fill-opacity=".714" d="M1452 362h7v7h-7zM687 499h6v6h-6zM524 948h7v6h-7z"/>
<path fill-opacity=".71" d="M667 583h7v7h-7zM505 1032h6v7h-6z"/>
<path fill-opacity=".702" d="M2348 518h6v7h-6zM661 570h6v7h-6z"/>
<path fill-opacity=".698" d="M693 492h7v7h-7zM531 961h6v6h-6zM498 1019h7v7h-7z"/>
<path fill-opacity=".694" d="M1043 323h7v7h-7zM693 512h7v6h-7z"/>
<path fill-opacity=".69" d="M1692 525h7v6h-7z"/>
<path fill-opacity=".686" d="M1452 375h7v7h-7zM1874 570h6v7h-6zM635 642h6v6h-6z"/>
<path fill-opacity=".682" d="M1433 349h6v7h-6zM732 414h6v7h-6zM719 440h6v7h-6zM2335 512h6v6h-6zM2062 551h7v6h-7zM648 622h6v7h-6zM472 1091h7v6h-7z"/>
<path fill-opacity=".678" d="M2146 531h7v7h-7zM2250 531h7v7h-7zM557 889h6v7h-6z"/>
<path fill-opacity=".675" d="M1264 252h7v6h-7zM1537 427h6v7h-6zM602 753h7v6h-7z"/>
<path fill-opacity=".671" d="M1621 473h6v6h-6zM609 713h6v7h-6zM446 1162h7v7h-7z"/>
<path fill-opacity=".667" d="M1128 258h6v7h-6z"/>
<path fill-opacity=".663" d="M738 421h39v6h-39zM803 421h46v6h-46zM875 421h39v6h-39zM946 421h7v6h-7zM1660 512h6v6h-6z"/>
<path fill-opacity=".659" d="M1225 213h7v6h-7zM1121 265h7v6h-7zM953 421h6v6h-6zM583 785h6v7h-6z"/>
<path fill-opacity=".655" d="M421 1234h6v6h-6z"/>
<path fill-opacity=".651" d="M1050 317h6v6h-6z"/>
<path fill-opacity=".647" d="M2270 518h6v7h-6zM2082 538h6v6h-6zM2127 544h6v7h-6zM1939 564h6v6h-6z"/>
<path fill-opacity=".643" d="M998 382h6v6h-6z"/>
<path fill-opacity=".639" d="M395 1305h6v7h-6z"/>
<path fill-opacity=".635" d="M1601 460h7v6h-7zM557 883h6v6h-6z"/>
<path fill-opacity=".631" d="M1283 265h7v6h-7z"/>
<path fill-opacity=".627" d="M1679 525h7v6h-7z"/>
<path fill-opacity=".624" d="M1206 200h6v6h-6zM2315 518h7v7h-7zM498 1052h7v6h-7z"/>
<path fill-opacity=".62" d="M1309 271h7v7h-7zM713 427h6v7h-6z"/>
<path fill-opacity=".616" d="M1115 271h6v7h-6zM1491 401h7v7h-7zM2004 557h6v7h-6z"/>
<path fill-opacity=".612" d="M1394 323h6v7h-6zM914 421h6v6h-6zM2205 525h6v6h-6zM2192 538h6v6h-6zM524 980h7v7h-7z"/>
<path fill-opacity=".608" d="M1056 310h7v7h-7zM687 531h6v7h-6zM2088 544h7v7h-7z"/>
<path fill-opacity=".604" d="M557 857h6v6h-6z"/>
<path fill-opacity=".596" d="M440 1182h6v6h-6zM388 1357h7v7h-7z"/>
<path fill-opacity=".592" d="M713 460h6v6h-6zM550 909h7v6h-7z"/>
<path fill-opacity=".588" d="M2017 544h6v7h-6z"/>
<path fill-opacity=".584" d="M1348 297h7v7h-7zM1511 414h6v7h-6zM940 421h6v6h-6zM615 694h7v6h-7z"/>
<path fill-opacity=".58" d="M1374 310h7v7h-7zM2328 512h7v6h-7zM1880 570h7v7h-7zM576 837h7v7h-7zM453 1143h6v6h-6zM414 1286h7v6h-7z"/>
<path fill-opacity=".576" d="M2140 531h6v7h-6zM2257 531h6v7h-6zM2069 551h6v6h-6z"/>
<path fill-opacity=".573" d="M1322 291h7v6h-7zM641 622h7v7h-7z"/>
<path fill-opacity=".569" d="M1562 434h7v6h-7zM589 766h7v6h-7zM427 1214h6v7h-6zM440 1214h6v7h-6z"/>
<path fill-opacity=".565" d="M1108 278h7v6h-7zM602 766h7v6h-7z"/>
<path fill-opacity=".561" d="M1718 551h7v6h-7z"/>
<path fill-opacity=".557" d="M1063 304h6v6h-6zM706 473h7v6h-7zM2224 525h7v6h-7z"/>
<path fill-opacity=".553" d="M563 837h7v7h-7zM401 1286h7v6h-7z"/>
<path fill-opacity=".549" d="M628 694h7v6h-7z"/>
<path fill-opacity=".545" d="M2263 518h7v7h-7zM2133 544h7v7h-7zM1945 564h7v6h-7zM395 1338h6v6h-6z"/>
<path fill-opacity=".541" d="M700 460h6v6h-6zM1653 499h7v6h-7zM2322 525h6v6h-6zM2075 538h7v6h-7z"/>
<path fill-opacity=".537" d="M537 909h7v6h-7zM375 1357h7v7h-7z"/>
<path fill-opacity=".529" d="M1738 564h6v6h-6z"/>
<path fill-opacity=".525" d="M979 401h6v7h-6zM1575 453h7v7h-7zM674 531h6v7h-6zM1731 544h7v7h-7zM511 980h7v7h-7z"/>
<path fill-opacity=".522" d="M719 427h6v7h-6zM2348 512h6v6h-6z"/>
<path fill-opacity=".518" d="M1751 557h6v7h-6z"/>
<path fill-opacity=".514" d="M1102 284h6v7h-6zM1550 440h6v7h-6z"/>
<path fill-opacity=".51" d="M1335 284h7v7h-7zM1543 421h7v6h-7zM2198 525h7v6h-7zM2179 538h6v6h-6zM2198 538h7v6h-7zM674 557h6v7h-6zM2010 557h7v7h-7zM382 1377h6v6h-6z"/>
<path fill-opacity=".506" d="M953 408h6v6h-6zM2010 544h7v7h-7z"/>
<path fill-opacity=".502" d="M1952 557h6v7h-6zM511 1013h7v6h-7z"/>
<path fill-opacity=".498" d="M1069 297h7v7h-7z"/>
<path fill-opacity=".494" d="M408 1305h6v7h-6z"/>
<path fill-opacity=".49" d="M1342 304h6v6h-6zM972 408h7v6h-7zM570 857h6v6h-6z"/>
<path fill-opacity=".482" d="M1316 271h6v7h-6zM868 414h7v7h-7zM1569 453h6v7h-6z"/>
<path fill-opacity=".478" d="M777 421h7v6h-7zM596 785h6v7h-6zM433 1234h7v6h-7z"/>
<path fill-opacity=".475" d="M1381 330h6v6h-6zM2322 512h6v6h-6zM2075 551h7v6h-7z"/>
<path fill-opacity=".471" d="M2133 531h7v7h-7zM2263 531h7v7h-7zM1945 551h7v6h-7z"/>
<path fill-opacity=".467" d="M1504 395h7v6h-7zM635 668h6v6h-6zM570 818h6v6h-6zM459 1162h7v7h-7z"/>
<path fill-opacity=".463" d="M1193 206h6v7h-6zM622 713h6v7h-6z"/>
<path fill-opacity=".459" d="M1692 518h7v7h-7z"/>
<path fill-opacity=".455" d="M706 440h7v7h-7zM680 538h7v6h-7z"/>
<path fill-opacity=".451" d="M732 421h6v6h-6zM544 889h6v7h-6zM382 1338h6v6h-6z"/>
<path fill-opacity=".447" d="M1232 226h6v6h-6zM648 642h6v6h-6zM485 1091h7v6h-7z"/>
<path fill-opacity=".439" d="M966 414h6v7h-6zM680 512h7v6h-7zM2257 518h6v7h-6zM2328 525h7v6h-7zM2069 538h6v6h-6zM2140 544h6v7h-6zM518 961h6v6h-6z"/>
<path fill-opacity=".435" d="M674 570h6v7h-6zM511 1019h7v7h-7z"/>
<path fill-opacity=".431" d="M1212 219h7v7h-7z"/>
<path fill-opacity=".427" d="M1751 564h6v6h-6zM1770 570h7v7h-7zM654 583h7v7h-7zM628 687h7v7h-7z"/>
<path fill-opacity=".424" d="M1478 388h7v7h-7zM1673 505h6v7h-6zM492 1032h6v7h-6z"/>
<path fill-opacity=".42" d="M1608 479h6v7h-6z"/>
<path fill-opacity=".416" d="M700 499h6v6h-6z"/>
<path fill-opacity=".412" d="M1277 245h6v7h-6z"/>
<path fill-opacity=".408" d="M2192 525h6v6h-6zM2017 557h6v7h-6zM628 655h7v6h-7zM485 1052h7v6h-7zM466 1104h6v6h-6z"/>
<path fill-opacity=".404" d="M2205 538h6v6h-6z"/>
<path fill-opacity=".4" d="M2004 544h6v7h-6z"/>
<path fill-opacity=".396" d="M1816 570h6v7h-6zM661 603h6v6h-6zM440 1175h6v7h-6z"/>
<path fill-opacity=".392" d="M1835 570h7v7h-7zM369 1377h6v6h-6z"/>
<path fill-opacity=".384" d="M1627 492h7v7h-7zM602 727h7v6h-7z"/>
<path fill-opacity=".38" d="M1258 232h6v7h-6zM959 401h7v7h-7zM453 1182h6v6h-6z"/>
<path fill-opacity=".376" d="M2088 538h7v6h-7zM1880 557h7v7h-7z"/>
<path fill-opacity=".373" d="M1439 369h7v6h-7zM589 798h7v7h-7z"/>
<path fill-opacity=".369" d="M1446 356h6v6h-6zM2127 531h6v7h-6zM2270 531h6v7h-6zM1939 551h6v6h-6zM2082 551h6v6h-6z"/>
<path fill-opacity=".361" d="M1251 245h7v7h-7zM641 661h7v7h-7zM479 1110h6v7h-6z"/>
<path fill-opacity=".357" d="M1251 232h7v7h-7zM1634 479h6v7h-6z"/>
<path fill-opacity=".353" d="M1971 551h7v6h-7zM1835 564h7v6h-7zM466 1143h6v6h-6z"/>
<path fill-opacity=".349" d="M1089 278h6v6h-6zM1485 382h6v6h-6zM505 1039h6v6h-6z"/>
<path fill-opacity=".345" d="M667 590h7v6h-7z"/>
<path fill-opacity=".341" d="M738 408h39v6h-39zM803 408h46v6h-46zM875 408h39v6h-39zM946 408h7v6h-7zM661 564h6v6h-6z"/>
<path fill-opacity=".337" d="M966 395h6v6h-6zM687 492h6v7h-6zM2250 518h7v7h-7zM2146 544h7v7h-7zM498 1013h7v6h-7z"/>
<path fill-opacity=".333" d="M2315 525h7v6h-7zM2335 525h6v6h-6zM2062 538h7v6h-7zM1874 557h6v7h-6zM1770 583h7v7h-7zM531 967h6v7h-6z"/>
<path fill-opacity=".329" d="M1271 258h6v7h-6zM693 518h7v7h-7z"/>
<path fill-opacity=".325" d="M1407 336h6v7h-6zM959 421h7v6h-7zM1614 466h7v7h-7z"/>
<path fill-opacity=".322" d="M1076 310h6v7h-6zM1420 356h6v6h-6zM849 414h6v7h-6zM868 421h7v6h-7zM635 635h6v7h-6zM583 818h6v6h-6zM472 1084h7v7h-7zM395 1344h6v7h-6z"/>
<path fill-opacity=".318" d="M1095 271h7v7h-7zM979 395h6v6h-6zM914 408h6v6h-6zM719 447h6v6h-6zM1666 518h7v7h-7zM557 896h6v6h-6z"/>
<path fill-opacity=".314" d="M1219 206h6v7h-6zM1076 297h6v7h-6z"/>
<path fill-opacity=".31" d="M1816 577h6v6h-6z"/>
<path fill-opacity=".306" d="M1400 343h7v6h-7zM609 707h6v6h-6zM583 824h6v7h-6zM563 863h7v7h-7zM446 1156h7v6h-7z"/>
<path fill-opacity=".302" d="M940 408h6v6h-6zM2185 525h7v6h-7zM2211 538h7v6h-7zM518 993h6v7h-6z"/>
<path fill-opacity=".298" d="M1478 395h7v6h-7zM1997 544h7v7h-7z"/>
<path fill-opacity=".294" d="M1809 564h7v6h-7zM609 733h6v7h-6zM583 779h6v6h-6z"/>
<path fill-opacity=".29" d="M1128 252h6v6h-6zM1465 369h7v6h-7zM421 1227h6v7h-6z"/>
<path fill-opacity=".286" d="M1024 343h6v6h-6zM1595 460h6v6h-6zM1686 531h6v7h-6zM1971 557h7v7h-7z"/>
<path fill-opacity=".282" d="M1199 193h7v7h-7zM1069 317h7v6h-7zM1361 317h7v6h-7zM1634 492h6v7h-6zM2108 538h6v6h-6z"/>
<path fill-opacity=".278" d="M1407 330h6v6h-6zM654 603h7v6h-7zM557 850h6v7h-6z"/>
<path fill-opacity=".275" d="M1102 265h6v6h-6zM1030 349h7v7h-7zM1498 408h6v6h-6zM395 1299h6v6h-6z"/>
<path fill-opacity=".267" d="M1180 206h6v7h-6zM1309 284h7v7h-7zM1387 317h7v6h-7zM700 473h6v6h-6zM2315 512h7v6h-7zM2296 525h6v6h-6zM1952 564h6v6h-6z"/>
<path fill-opacity=".263" d="M1575 440h7v7h-7zM2121 531h6v7h-6zM2276 531h7v7h-7zM1932 551h7v6h-7zM369 1370h6v7h-6z"/>
<path fill-opacity=".259" d="M1141 239h6v6h-6zM700 492h6v7h-6z"/>
<path fill-opacity=".251" d="M544 928h6v7h-6z"/>
<path fill-opacity=".247" d="M1043 336h7v7h-7zM777 408h7v6h-7zM615 733h7v7h-7zM524 987h7v6h-7z"/>
<path fill-opacity=".243" d="M1063 323h6v7h-6z"/>
<path fill-opacity=".239" d="M1108 258h7v7h-7zM1089 284h6v7h-6zM1329 297h6v7h-6z"/>
<path fill-opacity=".235" d="M732 408h6v6h-6zM1777 583h6v7h-6zM414 1247h7v6h-7zM388 1364h7v6h-7z"/>
<path fill-opacity=".231" d="M992 382h6v6h-6zM1524 408h6v6h-6zM1556 427h6v7h-6zM2341 525h7v6h-7zM2056 538h6v6h-6zM2153 544h6v7h-6zM1867 557h7v7h-7zM550 915h7v7h-7z"/>
<path fill-opacity=".227" d="M713 466h6v7h-6zM1952 551h6v6h-6zM1725 557h6v7h-6z"/>
<path fill-opacity=".224" d="M1744 551h7v6h-7z"/>
<path fill-opacity=".22" d="M1173 200h7v6h-7zM615 687h7v7h-7z"/>
<path fill-opacity=".216" d="M1348 291h7v6h-7zM849 421h6v6h-6zM1537 434h6v6h-6zM576 844h7v6h-7zM414 1292h7v7h-7z"/>
<path fill-opacity=".212" d="M531 922h6v6h-6zM472 1123h7v7h-7z"/>
<path fill-opacity=".208" d="M1056 330h7v6h-7z"/>
<path fill-opacity=".204" d="M1115 252h6v6h-6zM1290 265h6v6h-6zM687 538h6v6h-6zM589 759h7v7h-7zM427 1208h6v6h-6zM440 1221h6v6h-6z"/>
<path fill-opacity=".2" d="M1725 538h6v6h-6zM1842 577h6v6h-6zM602 772h7v7h-7z"/>
<path fill-opacity=".196" d="M2218 538h6v6h-6zM537 948h7v6h-7z"/>
<path fill-opacity=".192" d="M1556 447h6v6h-6zM1991 544h6v7h-6zM2088 551h7v6h-7zM1803 564h6v6h-6zM563 831h7v6h-7z"/>
<path fill-opacity=".188" d="M1180 213h6v6h-6zM1329 278h6v6h-6zM992 369h6v6h-6zM466 1149h6v7h-6zM421 1273h6v6h-6zM401 1279h7v7h-7z"/>
<path fill-opacity=".184" d="M1303 278h6v6h-6zM1368 323h6v7h-6zM1420 349h6v7h-6zM628 700h7v7h-7z"/>
<path fill-opacity=".18" d="M700 453h6v7h-6zM654 622h7v7h-7z"/>
<path fill-opacity=".176" d="M1037 330h6v6h-6zM1050 336h6v7h-6zM1517 401h7v7h-7zM2244 525h6v6h-6zM537 902h7v7h-7zM375 1351h7v6h-7z"/>
<path fill-opacity=".173" d="M1744 570h7v7h-7zM654 629h7v6h-7z"/>
<path fill-opacity=".169" d="M2108 544h6v7h-6z"/>
<path fill-opacity=".165" d="M1426 343h7v6h-7zM868 408h7v6h-7zM2296 518h6v7h-6zM674 525h6v6h-6zM2179 525h6v6h-6zM511 974h7v6h-7z"/>
<path fill-opacity=".161" d="M1387 336h7v7h-7zM2114 531h7v7h-7zM2283 531h6v7h-6zM2159 538h7v6h-7zM1926 551h6v6h-6zM388 1331h7v7h-7z"/>
<path fill-opacity=".157" d="M1193 193h6v7h-6zM1173 219h7v7h-7zM998 362h6v7h-6zM1498 388h6v7h-6zM446 1188h7v7h-7zM408 1266h6v7h-6z"/>
<path fill-opacity=".153" d="M1199 213h7v6h-7zM648 596h6v7h-6zM433 1201h7v7h-7z"/>
<path fill-opacity=".149" d="M1686 512h6v6h-6zM485 1045h7v7h-7z"/>
<path fill-opacity=".145" d="M1595 473h6v6h-6zM492 1058h6v7h-6z"/>
<path fill-opacity=".141" d="M1290 252h6v6h-6zM498 1058h7v7h-7z"/>
<path fill-opacity=".133" d="M1219 226h6v6h-6zM1783 583h7v7h-7zM537 928h7v7h-7zM408 1312h6v6h-6zM401 1318h7v7h-7z"/>
<path fill-opacity=".129" d="M1167 226h6v6h-6zM1004 356h7v6h-7zM1459 382h6v6h-6zM427 1253h6v7h-6z"/>
<path fill-opacity=".125" d="M1095 291h7v6h-7zM1582 447h6v6h-6zM1614 486h7v6h-7zM1666 499h7v6h-7zM2049 538h7v6h-7zM1705 544h7v7h-7zM1861 557h6v7h-6zM583 798h6v7h-6z"/>
<path fill-opacity=".122" d="M1271 239h6v6h-6zM596 792h6v6h-6zM433 1240h7v7h-7z"/>
<path fill-opacity=".118" d="M1426 362h7v7h-7zM1465 375h7v7h-7zM1816 564h6v6h-6zM1906 570h7v7h-7zM1764 577h6v6h-6z"/>
<path fill-opacity=".114" d="M1459 362h6v7h-6zM1764 583h6v7h-6zM628 668h7v6h-7z"/>
<path fill-opacity=".11" d="M849 408h6v6h-6zM2348 525h6v6h-6zM622 720h6v7h-6zM570 863h6v7h-6zM459 1169h7v6h-7z"/>
<path fill-opacity=".106" d="M1160 232h7v7h-7z"/>
<path fill-opacity=".102" d="M1011 349h6v7h-6zM706 434h7v6h-7zM1692 531h7v7h-7zM1712 531h6v7h-6zM674 538h6v6h-6zM544 883h6v6h-6z"/>
<path fill-opacity=".098" d="M1030 356h7v6h-7zM1446 375h6v7h-6zM1537 421h6v6h-6zM1848 577h6v6h-6zM648 648h6v7h-6zM479 1071h6v7h-6zM485 1097h7v7h-7z"/>
<path fill-opacity=".094" d="M1439 349h7v7h-7zM972 388h7v7h-7z"/>
<path fill-opacity=".09" d="M1141 226h6v6h-6zM1258 252h6v6h-6zM1627 473h7v6h-7zM680 505h7v7h-7zM1984 544h7v7h-7zM1796 564h7v6h-7zM1835 577h7v6h-7zM518 954h6v7h-6z"/>
<path fill-opacity=".086" d="M1082 304h7v6h-7zM1653 512h7v6h-7zM674 577h6v6h-6zM511 1026h7v6h-7z"/>
<path fill-opacity=".082" d="M1232 213h6v6h-6zM1154 239h6v6h-6zM1245 239h6v6h-6zM1017 343h7v6h-7zM2224 538h7v6h-7zM654 577h7v6h-7zM609 753h6v6h-6zM492 1026h6v6h-6zM453 1136h6v7h-6z"/>
<path fill-opacity=".078" d="M797 414h6v7h-6zM725 427h7v7h-7zM700 505h6v7h-6zM537 954h7v7h-7z"/>
<path fill-opacity=".075" d="M1277 265h6v6h-6zM1024 362h6v7h-6zM628 648h7v7h-7zM382 1331h6v7h-6z"/>
<path fill-opacity=".071" d="M1147 219h7v7h-7zM1608 460h6v6h-6zM1673 525h6v6h-6zM466 1097h6v7h-6z"/>
<path fill-opacity=".067" d="M1212 200h7v6h-7zM1485 401h6v7h-6zM725 434h7v6h-7zM2244 518h6v7h-6zM459 1117h7v6h-7z"/>
<path fill-opacity=".063" d="M1400 323h7v7h-7zM2244 531h6v7h-6zM602 720h7v7h-7zM492 1078h6v6h-6zM440 1169h6v6h-6zM382 1383h6v7h-6z"/>
<path fill-opacity=".059" d="M2159 531h7v7h-7zM1913 570h6v7h-6z"/>
<path fill-opacity=".055" d="M1154 213h6v6h-6zM1017 369h7v6h-7zM797 421h6v6h-6zM2289 531h7v7h-7zM1919 551h7v6h-7zM2023 551h7v6h-7zM414 1240h7v7h-7z"/>
<path fill-opacity=".051" d="M1348 304h7v6h-7zM1504 414h7v7h-7zM1647 505h6v7h-6zM524 941h7v7h-7zM505 1006h6v7h-6z"/>
<path fill-opacity=".047" d="M1316 291h6v6h-6zM1381 310h6v7h-6zM1640 486h7v6h-7zM453 1188h6v7h-6z"/>
<path fill-opacity=".043" d="M1368 304h6v6h-6zM1361 310h7v7h-7zM1569 434h6v6h-6zM1712 551h6v6h-6zM2023 557h7v7h-7zM641 668h7v6h-7zM479 1117h6v6h-6zM459 1136h7v7h-7zM375 1383h7v7h-7z"/>
<path fill-opacity=".039" d="M1160 206h7v7h-7zM1121 245h7v7h-7zM1011 375h6v7h-6zM2159 544h7v7h-7zM667 596h7v7h-7zM576 792h7v6h-7zM505 1045h6v7h-6zM421 1253h6v7h-6zM414 1266h7v7h-7z"/>
<path fill-opacity=".035" d="M1335 304h7v6h-7zM1550 421h6v6h-6zM661 557h6v7h-6zM550 876h7v7h-7z"/>
<path fill-opacity=".031" d="M1037 323h6v7h-6zM693 525h7v6h-7zM2108 531h6v7h-6zM1738 544h6v7h-6zM1731 564h7v6h-7zM1978 564h6v6h-6zM1790 583h6v7h-6zM635 629h6v6h-6zM531 974h6v6h-6zM466 1123h6v7h-6z"/>
<path fill-opacity=".027" d="M1238 219h7v7h-7zM1342 284h6v7h-6zM1004 382h7v6h-7zM797 408h6v6h-6zM1517 421h7v6h-7zM1543 440h7v7h-7zM719 453h6v7h-6zM2043 538h6v6h-6zM1854 557h7v7h-7zM557 902h6v7h-6zM511 993h7v7h-7zM472 1078h7v6h-7zM395 1351h6v6h-6z"/>
<path fill-opacity=".024" d="M1167 200h6v6h-6zM985 375h7v7h-7zM1718 531h7v7h-7zM1971 564h7v6h-7zM609 700h6v7h-6zM583 831h6v6h-6zM557 863h6v7h-6zM498 1006h7v7h-7zM446 1149h7v7h-7zM421 1279h6v7h-6z"/>
<path fill-opacity=".02" d="M1128 265h6v6h-6zM1322 271h7v7h-7zM1043 317h7v6h-7zM1374 330h7v6h-7zM1562 453h7v7h-7zM1653 492h7v7h-7zM602 733h7v7h-7zM583 772h6v7h-6zM570 811h6v7h-6zM421 1221h6v6h-6z"/>
<path fill-opacity=".016" d="M1511 395h6v6h-6zM1524 414h6v7h-6zM1705 538h7v6h-7zM1887 570h6v7h-6zM648 603h6v6h-6zM609 759h6v7h-6zM557 844h6v6h-6zM395 1292h6v7h-6z"/>
<path fill-opacity=".012" d="M1186 200h7v13h-7zM1206 219h6v7h-6zM1121 271h7v7h-7zM1050 310h6v7h-6zM1394 343h6v6h-6zM1491 382h7v6h-7zM693 466h7v7h-7zM680 557h7v7h-7zM1854 577h7v6h-7zM596 746h6v7h-6zM531 915h6v7h-6zM369 1364h6v6h-6z"/>
<path fill-opacity=".008" d="M1134 232h7v7h-7zM1232 232h6v7h-6zM1283 245h7v7h-7zM1115 278h6v6h-6zM1478 382h7v6h-7zM1588 466h7v7h-7zM693 473h7v6h-7zM1601 479h7v7h-7zM1679 505h7v7h-7zM1699 518h6v7h-6zM1978 544h6v7h-6zM1790 564h6v6h-6zM1751 570h6v7h-6zM524 993h7v7h-7z"/>
<path fill-opacity=".004" d="M1225 232h7v7h-7zM1264 232h7v7h-7zM1147 245h7v7h-7zM1245 245h6v7h-6zM1296 258h7v7h-7zM1309 265h7v6h-7zM1108 284h7v7h-7zM1063 297h6v7h-6zM1056 304h7v6h-7zM1433 343h6v6h-6zM1452 356h7v6h-7zM1433 369h6v6h-6zM1452 382h7v6h-7zM979 408h6v6h-6zM713 473h6v6h-6zM1640 479h7v7h-7zM1621 492h6v7h-6zM1660 492h6v7h-6zM2289 512h13v6h-13zM1699 525h6v6h-6zM2296 531h6v7h-6zM1913 551h6v6h-6zM2043 557h6v7h-6zM1919 570h7v7h-7zM641 616h7v6h-7zM615 681h13v6h-13zM628 707h7v6h-7zM589 753h7v6h-7zM602 779h7v6h-7zM576 811h7v7h-7zM563 824h7v7h-7zM576 850h7v7h-7zM563 883h7v6h-7zM550 922h7v6h-7zM531 941h6v7h-6zM466 1156h6v6h-6zM427 1201h6v7h-6zM440 1227h6v7h-6zM401 1273h7v6h-7zM414 1299h7v6h-7zM388 1312h7v6h-7zM388 1370h7v7h-7z"/>
</g>
<g id="series-lac" fill="#0000ff">
<path d="M1186 193h13v7h-13zM1186 200h7v6h-7zM1141 213h6v6h-6zM1141 219h13v7h-13zM1225 226h13v6h-13zM1225 232h7v7h-7zM1089 239h13v6h-13zM1095 245h7v7h-7zM1264 258h7v13h-7zM1043 265h13v6h-13zM1050 271h6v7h-6zM1004 284h7v7h-7zM998 291h19v6h-19zM1303 291h6v6h-6zM1303 297h13v7h-13zM953 310h13v13h-13zM901 317h13v6h-13zM803 323h13v13h-13zM855 323h13v7h-13zM907 323h13v7h-13zM1342 323h6v7h-6zM751 330h13v13h-13zM855 330h7v6h-7zM1342 330h13v6h-13zM706 349h13v13h-13zM1381 362h13v7h-13zM1381 369h6v6h-6zM674 388h13v13h-13zM1420 395h13v6h-13zM1420 401h6v7h-6zM641 427h13v13h-13zM1459 427h6v7h-6zM1459 434h13v6h-13zM1498 460h6v6h-6zM609 466h6v7h-6zM1498 466h13v7h-13zM609 473h13v6h-13zM1537 492h6v7h-6zM1537 499h13v6h-13zM576 505h7v7h-7zM576 512h13v6h-13zM1575 531h13v7h-13zM1575 538h7v6h-7zM544 544h6v7h-6zM537 551h20v6h-20zM1614 564h13v6h-13zM1614 570h7v7h-7zM2328 577h13v13h-13zM511 583h7v7h-7zM2283 583h6v7h-6zM505 590h19v6h-19zM2276 590h13v6h-13zM511 596h7v7h-7zM1653 596h13v13h-13zM2224 596h13v13h-13zM2276 596h7v7h-7zM2172 609h13v7h-13zM2127 616h6v6h-6zM2179 616h13v6h-13zM2127 622h13v7h-13zM472 629h20v6h-20zM1692 629h7v6h-7zM2075 629h13v13h-13zM479 635h6v7h-6zM1692 635h13v7h-13zM2023 642h13v13h-13zM1971 648h13v13h-13zM1919 661h13v7h-13zM440 668h13v6h-13zM1731 668h13v6h-13zM1880 668h7v6h-7zM1926 668h13v6h-13zM446 674h7v7h-7zM1874 674h13v7h-13zM1822 681h13v13h-13zM1777 694h6v6h-6zM1770 700h13v7h-13zM408 707h13v6h-13zM414 713h7v7h-7zM382 746h6v7h-6zM375 753h13v6h-13z"/>
<path fill-opacity=".996" d="M1102 245h6v7h-6zM1271 265h6v6h-6zM1465 427h7v7h-7zM1874 681h6v6h-6z"/>
<path fill-opacity=".992" d="M1180 193h6v7h-6zM1335 330h7v6h-7zM1342 336h6v7h-6zM544 557h6v7h-6zM479 622h6v7h-6zM1731 661h7v7h-7zM453 668h6v6h-6zM375 746h7v7h-7z"/>
<path fill-opacity=".988" d="M570 512h6v6h-6zM1621 570h6v7h-6zM1699 629h6v6h-6zM1874 668h6v6h-6z"/>
<path fill-opacity=".984" d="M1381 356h6v6h-6zM2133 616h7v6h-7z"/>
<path fill-opacity=".98" d="M1296 297h7v7h-7zM862 317h6v6h-6zM2283 596h6v7h-6z"/>
<path fill-opacity=".976" d="M1056 265h7v6h-7z"/>
<path fill-opacity=".973" d="M1050 258h6v7h-6zM855 317h7v6h-7zM1426 401h7v7h-7zM2030 635h6v7h-6zM1932 661h7v7h-7z"/>
<path fill-opacity=".969" d="M1141 226h6v6h-6zM1271 258h6v7h-6zM901 323h6v7h-6zM615 466h7v7h-7zM408 713h6v7h-6z"/>
<path fill-opacity=".965" d="M1186 206h7v7h-7zM914 317h6v6h-6zM862 330h6v6h-6zM1530 499h7v6h-7zM1575 525h7v6h-7zM2127 629h6v6h-6z"/>
<path fill-opacity=".957" d="M966 317h6v6h-6zM1537 505h6v7h-6z"/>
<path fill-opacity=".953" d="M1504 460h7v6h-7z"/>
<path fill-opacity=".949" d="M1134 219h7v7h-7zM1232 232h6v7h-6zM849 323h6v7h-6z"/>
<path fill-opacity=".945" d="M1491 466h7v7h-7zM1770 694h7v6h-7z"/>
<path fill-opacity=".941" d="M1303 304h6v6h-6zM1374 362h7v7h-7zM446 661h7v7h-7z"/>
<path fill-opacity=".937" d="M576 518h7v7h-7zM2172 616h7v6h-7zM421 707h6v6h-6z"/>
<path fill-opacity=".933" d="M602 473h7v6h-7zM1738 661h6v7h-6z"/>
<path fill-opacity=".929" d="M797 323h6v7h-6zM1582 538h6v6h-6z"/>
<path fill-opacity=".925" d="M2185 609h7v7h-7z"/>
<path fill-opacity=".922" d="M1225 219h7v7h-7zM1258 265h6v6h-6zM1777 687h6v7h-6z"/>
<path fill-opacity=".918" d="M1102 239h6v6h-6zM1420 388h6v7h-6z"/>
<path fill-opacity=".914" d="M1569 531h6v7h-6zM1725 668h6v6h-6z"/>
<path fill-opacity=".91" d="M1731 674h7v7h-7z"/>
<path fill-opacity=".902" d="M998 284h6v7h-6zM1309 291h7v6h-7zM1984 655h7v6h-7z"/>
<path fill-opacity=".898" d="M1004 297h7v7h-7zM1387 369h7v6h-7z"/>
<path fill-opacity=".894" d="M583 505h6v7h-6z"/>
<path fill-opacity=".89" d="M1219 226h6v6h-6zM1614 557h7v7h-7zM1971 661h7v7h-7zM440 674h6v7h-6z"/>
<path fill-opacity=".886" d="M849 317h6v6h-6z"/>
<path fill-opacity=".882" d="M1089 245h6v7h-6zM2121 616h6v6h-6zM1686 635h6v7h-6z"/>
<path fill-opacity=".878" d="M1498 473h6v6h-6zM1919 668h7v6h-7z"/>
<path fill-opacity=".875" d="M1543 492h7v7h-7z"/>
<path fill-opacity=".871" d="M1738 674h6v7h-6zM1764 700h6v7h-6z"/>
<path fill-opacity=".863" d="M1193 200h6v6h-6zM849 330h6v6h-6zM706 343h7v6h-7z"/>
<path fill-opacity=".859" d="M1452 434h7v6h-7zM2276 583h7v7h-7zM2224 609h7v7h-7z"/>
<path fill-opacity=".851" d="M1264 271h7v7h-7zM2121 622h6v7h-6zM414 700h7v7h-7z"/>
<path fill-opacity=".847" d="M1413 395h7v6h-7zM382 759h6v7h-6z"/>
<path fill-opacity=".843" d="M797 330h6v6h-6zM674 382h6v6h-6zM609 479h6v7h-6zM1880 681h7v6h-7zM388 746h7v7h-7z"/>
<path fill-opacity=".839" d="M1147 213h7v6h-7zM635 434h6v6h-6zM2237 603h7v6h-7z"/>
<path fill-opacity=".831" d="M1543 505h7v7h-7z"/>
<path fill-opacity=".827" d="M1219 232h6v7h-6zM959 304h7v6h-7zM2322 577h6v6h-6z"/>
<path fill-opacity=".824" d="M1783 700h7v7h-7z"/>
<path fill-opacity=".82" d="M745 330h6v6h-6z"/>
<path fill-opacity=".808" d="M1608 564h6v6h-6zM1692 642h7v6h-7z"/>
<path fill-opacity=".8" d="M1134 213h7v6h-7zM966 310h6v7h-6z"/>
<path fill-opacity=".796" d="M1348 323h7v7h-7z"/>
<path fill-opacity=".792" d="M641 421h7v6h-7z"/>
<path fill-opacity=".788" d="M1056 271h7v7h-7zM719 349h6v7h-6zM1867 674h7v7h-7z"/>
<path fill-opacity=".784" d="M1043 271h7v7h-7zM1348 336h7v7h-7zM550 544h7v7h-7zM2023 635h7v7h-7zM1867 668h7v6h-7z"/>
<path fill-opacity=".78" d="M1647 603h6v6h-6z"/>
<path fill-opacity=".776" d="M1264 252h7v6h-7zM1459 421h6v6h-6zM472 635h7v7h-7z"/>
<path fill-opacity=".773" d="M1258 258h6v7h-6zM388 753h7v6h-7z"/>
<path fill-opacity=".769" d="M1459 440h6v7h-6zM2133 629h7v6h-7z"/>
<path fill-opacity=".765" d="M1653 590h7v6h-7zM2069 629h6v6h-6z"/>
<path fill-opacity=".757" d="M1582 525h6v6h-6zM1744 668h7v6h-7zM414 720h7v7h-7z"/>
<path fill-opacity=".753" d="M2179 603h6v6h-6z"/>
<path fill-opacity=".749" d="M421 713h6v7h-6z"/>
<path fill-opacity=".745" d="M953 323h6v7h-6zM700 349h6v7h-6zM1699 642h6v6h-6z"/>
<path fill-opacity=".741" d="M1186 187h7v6h-7zM1413 401h7v7h-7z"/>
<path fill-opacity=".737" d="M803 336h7v7h-7zM1978 661h6v7h-6z"/>
<path fill-opacity=".733" d="M745 336h6v7h-6z"/>
<path fill-opacity=".722" d="M667 388h7v7h-7zM453 674h6v7h-6z"/>
<path fill-opacity=".718" d="M1452 427h7v7h-7zM2335 570h6v7h-6zM382 740h6v6h-6z"/>
<path fill-opacity=".71" d="M1225 239h7v6h-7zM713 343h6v6h-6zM641 440h7v7h-7zM2036 648h7v7h-7z"/>
<path fill-opacity=".706" d="M1588 531h7v7h-7zM1822 694h7v6h-7z"/>
<path fill-opacity=".702" d="M1095 232h7v7h-7zM667 395h7v6h-7zM609 460h6v6h-6z"/>
<path fill-opacity=".698" d="M485 635h7v7h-7zM1816 681h6v6h-6z"/>
<path fill-opacity=".694" d="M635 427h6v7h-6zM1984 648h7v7h-7z"/>
<path fill-opacity=".69" d="M1504 473h7v6h-7z"/>
<path fill-opacity=".682" d="M1095 252h7v6h-7zM1011 284h6v7h-6z"/>
<path fill-opacity=".678" d="M758 323h6v7h-6zM1926 655h13v6h-13z"/>
<path fill-opacity=".675" d="M1627 564h7v6h-7z"/>
<path fill-opacity=".671" d="M1550 499h6v6h-6zM1653 609h7v7h-7zM1783 694h7v6h-7z"/>
<path fill-opacity=".667" d="M998 297h6v7h-6zM602 466h7v7h-7zM518 596h6v7h-6zM2185 603h7v6h-7z"/>
<path fill-opacity=".663" d="M1180 200h6v6h-6zM907 310h7v7h-7zM687 388h6v7h-6zM1647 596h6v7h-6zM2231 609h6v7h-6z"/>
<path fill-opacity=".659" d="M914 310h6v7h-6zM1387 356h7v6h-7z"/>
<path fill-opacity=".647" d="M810 336h6v7h-6zM2082 622h6v7h-6z"/>
<path fill-opacity=".643" d="M2121 629h6v6h-6z"/>
<path fill-opacity=".639" d="M570 505h6v7h-6zM550 557h7v7h-7z"/>
<path fill-opacity=".635" d="M1608 570h6v7h-6zM446 681h7v6h-7z"/>
<path fill-opacity=".631" d="M2237 596h7v7h-7zM2075 642h7v6h-7z"/>
<path fill-opacity=".627" d="M1309 304h7v6h-7zM518 583h6v7h-6zM1705 635h7v7h-7z"/>
<path fill-opacity=".62" d="M797 336h6v7h-6zM505 596h6v7h-6z"/>
<path fill-opacity=".616" d="M1420 408h6v6h-6zM2322 583h6v7h-6z"/>
<path fill-opacity=".612" d="M1296 291h7v6h-7z"/>
<path fill-opacity=".608" d="M537 544h7v7h-7zM1621 557h6v7h-6z"/>
<path fill-opacity=".604" d="M1394 362h6v7h-6zM583 518h6v7h-6zM2036 642h7v6h-7z"/>
<path fill-opacity=".6" d="M2289 596h7v7h-7z"/>
<path fill-opacity=".592" d="M576 499h7v6h-7z"/>
<path fill-opacity=".588" d="M751 323h7v7h-7z"/>
<path fill-opacity=".584" d="M1374 369h7v6h-7zM1660 609h6v7h-6z"/>
<path fill-opacity=".58" d="M1355 330h6v6h-6zM1498 453h6v7h-6zM1867 681h7v6h-7zM1835 687h7v7h-7z"/>
<path fill-opacity=".576" d="M1303 284h6v7h-6zM901 310h6v7h-6zM505 583h6v7h-6z"/>
<path fill-opacity=".573" d="M615 479h7v7h-7zM1829 674h6v7h-6z"/>
<path fill-opacity=".565" d="M1056 258h7v7h-7zM1666 596h7v7h-7zM1692 622h7v7h-7z"/>
<path fill-opacity=".561" d="M1043 258h7v7h-7zM2328 590h7v6h-7z"/>
<path fill-opacity=".557" d="M1511 466h6v7h-6zM2069 635h6v7h-6z"/>
<path fill-opacity=".553" d="M1433 395h6v6h-6z"/>
<path fill-opacity=".545" d="M1147 226h7v6h-7zM1491 460h7v6h-7zM2172 603h7v6h-7zM472 622h7v7h-7z"/>
<path fill-opacity=".541" d="M648 440h6v7h-6zM2289 590h7v6h-7z"/>
<path fill-opacity=".537" d="M674 401h6v7h-6z"/>
<path fill-opacity=".533" d="M680 382h7v6h-7z"/>
<path fill-opacity=".529" d="M700 356h6v6h-6zM2270 590h6v6h-6zM1984 661h7v7h-7z"/>
<path fill-opacity=".525" d="M959 323h7v7h-7zM1770 687h7v7h-7z"/>
<path fill-opacity=".518" d="M2088 635h7v7h-7z"/>
<path fill-opacity=".514" d="M1465 440h7v7h-7zM2328 570h7v7h-7zM440 661h6v7h-6z"/>
<path fill-opacity=".51" d="M680 401h7v7h-7zM479 642h6v6h-6z"/>
<path fill-opacity=".506" d="M1134 226h7v6h-7zM654 427h7v7h-7z"/>
<path fill-opacity=".498" d="M1829 694h6v6h-6z"/>
<path fill-opacity=".494" d="M1199 193h7v7h-7zM1614 577h7v6h-7z"/>
<path fill-opacity=".49" d="M1816 687h6v7h-6z"/>
<path fill-opacity=".486" d="M1426 388h7v7h-7z"/>
<path fill-opacity=".482" d="M408 700h6v7h-6z"/>
<path fill-opacity=".478" d="M1316 297h6v7h-6z"/>
<path fill-opacity=".475" d="M544 538h6v6h-6zM1686 629h6v6h-6zM369 753h6v6h-6z"/>
<path fill-opacity=".471" d="M2270 583h6v7h-6zM1919 655h7v6h-7z"/>
<path fill-opacity=".467" d="M2017 642h6v6h-6z"/>
<path fill-opacity=".463" d="M1193 187h6v6h-6zM1783 687h7v7h-7z"/>
<path fill-opacity=".459" d="M713 362h6v7h-6zM1569 538h6v6h-6z"/>
<path fill-opacity=".455" d="M1004 278h7v6h-7zM2341 583h7v7h-7z"/>
<path fill-opacity=".447" d="M1271 271h6v7h-6zM745 323h6v7h-6zM2237 609h7v7h-7zM485 622h7v7h-7zM375 740h7v6h-7z"/>
<path fill-opacity=".443" d="M1102 232h6v7h-6zM1666 603h7v6h-7z"/>
<path fill-opacity=".439" d="M2218 596h6v7h-6zM2075 622h7v7h-7z"/>
<path fill-opacity=".435" d="M1238 226h7v6h-7zM1381 375h6v7h-6zM1472 427h6v7h-6zM537 557h7v7h-7zM1660 590h6v6h-6z"/>
<path fill-opacity=".427" d="M1180 187h6v6h-6zM1335 323h7v7h-7zM589 512h7v6h-7zM557 551h6v6h-6z"/>
<path fill-opacity=".424" d="M751 343h7v6h-7zM2082 642h6v6h-6z"/>
<path fill-opacity=".412" d="M1011 297h6v7h-6z"/>
<path fill-opacity=".408" d="M1335 336h7v7h-7zM2231 590h6v6h-6z"/>
<path fill-opacity=".404" d="M622 473h6v6h-6z"/>
<path fill-opacity=".4" d="M1919 674h7v7h-7z"/>
<path fill-opacity=".396" d="M901 330h6v6h-6zM1621 577h6v6h-6zM1705 629h7v6h-7zM2036 635h7v7h-7z"/>
<path fill-opacity=".392" d="M524 590h7v6h-7zM2172 622h7v7h-7zM1926 674h6v7h-6z"/>
<path fill-opacity=".384" d="M1089 252h6v6h-6zM2017 635h6v7h-6z"/>
<path fill-opacity=".38" d="M1342 317h6v6h-6zM1537 486h6v6h-6z"/>
<path fill-opacity=".376" d="M1472 434h6v6h-6z"/>
<path fill-opacity=".373" d="M654 434h7v6h-7zM511 603h7v6h-7zM1835 681h7v6h-7z"/>
<path fill-opacity=".369" d="M1731 655h7v6h-7z"/>
<path fill-opacity=".365" d="M1154 219h6v7h-6zM1232 219h6v7h-6zM953 304h6v6h-6zM810 317h6v6h-6zM1965 648h6v7h-6zM1822 674h7v7h-7z"/>
<path fill-opacity=".361" d="M706 362h7v7h-7zM1530 492h7v7h-7z"/>
<path fill-opacity=".357" d="M648 421h6v6h-6z"/>
<path fill-opacity=".353" d="M907 330h7v6h-7z"/>
<path fill-opacity=".349" d="M2335 590h6v6h-6zM466 629h6v6h-6z"/>
<path fill-opacity=".345" d="M622 466h6v7h-6zM511 577h7v6h-7zM433 668h7v6h-7zM375 759h7v7h-7z"/>
<path fill-opacity=".341" d="M687 395h6v6h-6z"/>
<path fill-opacity=".337" d="M758 343h6v6h-6zM1770 707h7v6h-7z"/>
<path fill-opacity=".333" d="M745 343h6v6h-6zM1426 408h7v6h-7zM2289 583h7v7h-7zM1978 642h6v6h-6z"/>
<path fill-opacity=".329" d="M1277 258h6v7h-6zM1575 544h7v7h-7zM492 629h6v6h-6zM401 713h7v7h-7z"/>
<path fill-opacity=".325" d="M498 590h7v6h-7z"/>
<path fill-opacity=".322" d="M2270 596h6v7h-6zM2179 622h6v7h-6z"/>
<path fill-opacity=".318" d="M1141 206h6v7h-6zM1108 245h7v7h-7zM1277 265h6v6h-6zM1465 421h7v6h-7zM401 707h7v6h-7z"/>
<path fill-opacity=".314" d="M719 356h6v6h-6zM1887 681h6v6h-6z"/>
<path fill-opacity=".31" d="M2088 629h7v6h-7z"/>
<path fill-opacity=".306" d="M1050 278h6v6h-6zM2322 590h6v6h-6z"/>
<path fill-opacity=".302" d="M1725 661h6v7h-6z"/>
<path fill-opacity=".298" d="M1037 265h6v6h-6zM1530 505h7v7h-7z"/>
<path fill-opacity=".294" d="M2322 570h6v7h-6z"/>
<path fill-opacity=".29" d="M992 284h6v7h-6zM369 746h6v7h-6z"/>
<path fill-opacity=".286" d="M1082 239h7v6h-7zM1511 460h6v6h-6zM2069 642h6v6h-6zM2023 655h7v6h-7z"/>
<path fill-opacity=".282" d="M966 304h6v6h-6zM764 336h7v7h-7zM1887 674h6v7h-6z"/>
<path fill-opacity=".278" d="M803 317h7v6h-7zM453 661h6v7h-6z"/>
<path fill-opacity=".275" d="M1232 239h6v6h-6zM1627 570h7v7h-7zM1699 622h6v7h-6z"/>
<path fill-opacity=".271" d="M1147 206h7v7h-7zM1342 343h6v6h-6zM570 518h6v7h-6z"/>
<path fill-opacity=".267" d="M914 330h6v6h-6zM531 551h6v6h-6z"/>
<path fill-opacity=".263" d="M1374 356h7v6h-7zM1984 642h7v6h-7z"/>
<path fill-opacity=".259" d="M2237 590h7v6h-7zM2017 648h6v7h-6z"/>
<path fill-opacity=".255" d="M1296 304h7v6h-7z"/>
<path fill-opacity=".251" d="M2133 609h7v7h-7zM1816 694h6v6h-6z"/>
<path fill-opacity=".247" d="M2341 577h7v6h-7zM459 668h7v6h-7z"/>
<path fill-opacity=".243" d="M1744 661h7v7h-7z"/>
<path fill-opacity=".239" d="M1582 544h6v7h-6zM544 564h6v6h-6zM2140 629h6v6h-6z"/>
<path fill-opacity=".231" d="M2218 603h6v6h-6z"/>
<path fill-opacity=".227" d="M1835 694h7v6h-7z"/>
<path fill-opacity=".224" d="M1271 252h6v6h-6zM1043 278h7v6h-7zM1433 401h6v7h-6z"/>
<path fill-opacity=".22" d="M2140 622h6v7h-6z"/>
<path fill-opacity=".216" d="M1575 518h7v7h-7zM479 616h6v6h-6z"/>
<path fill-opacity=".212" d="M1569 525h6v6h-6zM2276 603h7v6h-7zM2069 622h6v7h-6z"/>
<path fill-opacity=".208" d="M615 460h7v6h-7zM1880 661h7v7h-7zM1764 707h6v6h-6z"/>
<path fill-opacity=".204" d="M1381 349h6v7h-6zM1725 674h6v7h-6zM408 720h6v7h-6z"/>
<path fill-opacity=".2" d="M1017 291h7v6h-7zM589 505h7v7h-7zM2224 590h7v6h-7z"/>
<path fill-opacity=".196" d="M1316 291h6v6h-6zM764 330h7v6h-7zM563 512h7v6h-7zM1537 512h6v6h-6zM433 674h7v7h-7z"/>
<path fill-opacity=".192" d="M1387 375h7v7h-7zM1939 668h6v6h-6z"/>
<path fill-opacity=".188" d="M1089 232h6v7h-6zM992 291h6v6h-6zM797 317h6v6h-6zM1504 453h7v7h-7z"/>
<path fill-opacity=".184" d="M1932 674h7v7h-7z"/>
<path fill-opacity=".18" d="M1219 219h6v7h-6z"/>
<path fill-opacity=".176" d="M1193 206h6v7h-6zM1238 232h7v7h-7zM1102 252h6v6h-6zM1063 271h6v7h-6zM1290 297h6v7h-6zM427 707h6v6h-6z"/>
<path fill-opacity=".173" d="M816 330h7v6h-7z"/>
<path fill-opacity=".169" d="M1011 278h6v6h-6zM1491 473h7v6h-7zM1965 655h6v6h-6zM1764 694h6v6h-6z"/>
<path fill-opacity=".165" d="M1128 213h6v6h-6zM1251 265h7v6h-7zM2088 642h7v6h-7z"/>
<path fill-opacity=".161" d="M946 310h7v7h-7zM972 317h7v6h-7zM1329 330h6v6h-6zM1550 492h6v7h-6z"/>
<path fill-opacity=".153" d="M1173 193h7v7h-7zM1738 655h6v6h-6zM1738 681h6v6h-6zM1777 707h6v6h-6z"/>
<path fill-opacity=".149" d="M421 700h6v7h-6z"/>
<path fill-opacity=".145" d="M816 336h7v7h-7zM602 479h7v7h-7zM1588 538h7v6h-7zM2166 609h6v7h-6z"/>
<path fill-opacity=".141" d="M1258 271h6v7h-6zM1303 310h6v7h-6zM1816 674h6v7h-6z"/>
<path fill-opacity=".137" d="M1180 206h6v7h-6zM868 330h7v6h-7zM1413 388h7v7h-7zM596 473h6v6h-6zM1835 674h7v7h-7z"/>
<path fill-opacity=".133" d="M1368 362h6v7h-6zM576 525h7v6h-7z"/>
<path fill-opacity=".129" d="M2192 616h6v6h-6z"/>
<path fill-opacity=".125" d="M1971 642h7v6h-7z"/>
<path fill-opacity=".122" d="M1543 512h7v6h-7zM1731 681h7v6h-7z"/>
<path fill-opacity=".118" d="M2166 603h6v6h-6zM446 655h7v6h-7z"/>
<path fill-opacity=".114" d="M1212 232h7v7h-7zM1063 265h6v6h-6zM1309 284h7v7h-7z"/>
<path fill-opacity=".11" d="M1050 252h6v6h-6zM1394 369h6v6h-6zM2185 622h7v7h-7zM395 746h6v7h-6z"/>
<path fill-opacity=".106" d="M1485 466h6v7h-6zM2341 590h7v6h-7z"/>
<path fill-opacity=".102" d="M1212 226h7v6h-7zM1141 232h6v7h-6zM706 336h7v7h-7zM849 336h6v7h-6zM1446 434h6v6h-6zM1608 557h6v7h-6zM1686 642h6v6h-6z"/>
<path fill-opacity=".098" d="M764 343h7v6h-7zM583 499h6v6h-6zM2088 622h7v7h-7z"/>
<path fill-opacity=".094" d="M1355 323h6v7h-6zM557 544h6v7h-6zM2127 609h6v7h-6zM440 681h6v6h-6z"/>
<path fill-opacity=".09" d="M1037 258h6v7h-6zM1498 479h6v7h-6zM1543 486h7v6h-7zM1524 499h6v6h-6zM466 635h6v7h-6zM1867 687h7v7h-7zM388 759h7v7h-7z"/>
<path fill-opacity=".086" d="M998 304h6v6h-6zM764 323h7v7h-7zM816 323h7v7h-7zM1348 343h7v6h-7zM628 434h7v6h-7zM1614 551h7v6h-7zM1744 674h7v7h-7z"/>
<path fill-opacity=".082" d="M966 323h6v7h-6zM2030 655h6v6h-6zM1913 661h6v7h-6zM1887 668h6v6h-6z"/>
<path fill-opacity=".078" d="M1199 200h7v6h-7zM1154 226h6v6h-6zM1056 252h7v6h-7zM1258 252h6v6h-6zM1452 440h7v7h-7zM1562 531h7v7h-7z"/>
<path fill-opacity=".075" d="M1128 219h6v7h-6zM946 317h7v6h-7zM700 343h6v6h-6zM1913 655h6v6h-6zM421 720h6v7h-6z"/>
<path fill-opacity=".071" d="M1407 395h6v6h-6zM1588 525h7v6h-7zM2121 635h6v7h-6z"/>
<path fill-opacity=".067" d="M868 323h7v7h-7zM1420 382h6v6h-6zM2283 577h6v6h-6z"/>
<path fill-opacity=".063" d="M894 310h7v7h-7zM667 382h7v6h-7zM1407 401h6v7h-6zM2270 603h6v6h-6zM1699 648h6v7h-6zM453 681h6v6h-6z"/>
<path fill-opacity=".059" d="M1219 239h6v6h-6zM635 440h6v7h-6zM1550 505h6v7h-6zM388 740h7v6h-7z"/>
<path fill-opacity=".055" d="M1134 232h7v7h-7zM719 343h6v6h-6zM1452 421h7v6h-7zM609 486h6v6h-6zM1640 603h7v6h-7zM1874 687h6v7h-6z"/>
<path fill-opacity=".051" d="M1225 213h7v6h-7zM862 310h6v7h-6zM894 317h7v6h-7zM635 421h6v6h-6zM2341 570h7v7h-7zM485 642h7v6h-7zM414 694h7v6h-7z"/>
<path fill-opacity=".047" d="M1108 239h7v6h-7zM1264 278h7v6h-7zM946 304h7v6h-7zM920 323h7v7h-7zM674 375h6v7h-6zM1601 564h7v6h-7zM1679 635h7v7h-7zM1692 648h7v7h-7zM2017 655h6v6h-6z"/>
<path fill-opacity=".043" d="M1348 317h7v6h-7zM855 336h7v7h-7zM661 395h6v6h-6zM602 460h7v6h-7zM1504 479h7v7h-7z"/>
<path fill-opacity=".039" d="M998 278h6v6h-6zM2289 577h7v6h-7zM518 603h6v6h-6zM2218 609h6v7h-6zM1718 668h7v6h-7z"/>
<path fill-opacity=".035" d="M1004 304h7v6h-7zM1355 336h6v7h-6zM1647 609h6v7h-6zM2036 629h7v6h-7zM1874 661h6v7h-6z"/>
<path fill-opacity=".031" d="M1251 258h7v7h-7zM1394 356h6v6h-6zM570 499h6v6h-6zM550 538h7v6h-7zM550 564h7v6h-7zM1647 590h6v6h-6zM2283 603h6v6h-6zM2114 616h7v6h-7zM2140 616h6v6h-6zM1757 700h7v7h-7z"/>
<path fill-opacity=".027" d="M1173 187h7v6h-7zM1082 245h7v7h-7zM1459 447h6v6h-6zM1582 518h6v7h-6zM1601 570h7v7h-7zM524 583h7v7h-7zM498 596h7v7h-7zM472 642h7v6h-7zM395 753h6v6h-6z"/>
<path fill-opacity=".024" d="M1017 297h7v7h-7zM1309 310h7v7h-7zM842 317h7v6h-7zM920 330h7v6h-7zM1413 408h7v6h-7zM583 525h6v6h-6zM537 538h7v6h-7zM2218 590h6v6h-6zM2030 629h6v6h-6zM1705 642h7v6h-7zM1939 661h6v7h-6z"/>
<path fill-opacity=".02" d="M1296 284h7v7h-7zM693 349h7v7h-7zM1627 557h7v7h-7zM505 577h6v6h-6zM1991 661h6v7h-6zM1783 681h7v6h-7zM427 713h6v7h-6zM382 766h6v6h-6z"/>
<path fill-opacity=".016" d="M1368 369h6v6h-6zM661 388h6v7h-6zM1446 427h6v7h-6zM615 486h7v6h-7zM2127 635h6v7h-6zM459 674h7v7h-7zM1939 674h6v7h-6z"/>
<path fill-opacity=".012" d="M1154 213h6v6h-6zM816 317h7v6h-7zM713 336h6v7h-6zM687 382h6v6h-6zM667 401h7v7h-7zM641 447h13v6h-13zM1511 473h6v6h-6zM1653 583h7v7h-7zM472 616h7v6h-7zM1660 616h6v6h-6zM1965 661h6v7h-6zM382 733h6v7h-6z"/>
<path fill-opacity=".008" d="M1199 187h7v6h-7zM959 297h7v7h-7zM946 323h7v7h-7zM725 349h7v7h-7zM1387 349h7v7h-7zM693 356h7v6h-7zM641 414h7v7h-7zM628 427h7v7h-7zM1491 453h7v7h-7zM524 596h7v7h-7zM1640 596h7v7h-7zM1653 616h7v6h-7zM492 635h6v7h-6zM440 655h6v6h-6zM1764 687h6v7h-6zM1783 707h7v6h-7z"/>
<path fill-opacity=".004" d="M1134 206h7v7h-7zM1102 226h6v6h-6zM1225 245h7v7h-7zM1264 245h7v7h-7zM1089 258h6v7h-6zM1037 271h6v7h-6zM1056 278h7v6h-7zM1271 278h6v6h-6zM1290 291h6v6h-6zM966 297h6v7h-6zM1316 304h6v6h-6zM855 310h7v7h-7zM972 310h7v7h-7zM868 317h7v6h-7zM920 317h7v6h-7zM894 323h7v7h-7zM1374 375h7v7h-7zM1433 388h6v7h-6zM680 408h7v6h-7zM1459 414h6v7h-6zM1465 447h7v6h-7zM596 466h6v7h-6zM563 505h7v7h-7zM589 518h7v7h-7zM1562 538h7v6h-7zM531 544h6v7h-6zM1621 551h6v6h-6zM531 557h6v7h-6zM557 557h6v7h-6zM518 577h6v6h-6zM1608 577h6v6h-6zM505 603h6v6h-6zM1666 609h7v7h-7zM2192 609h6v7h-6zM2244 609h6v7h-6zM2166 616h6v6h-6zM492 622h6v7h-6zM1686 622h6v7h-6zM2192 622h6v7h-6zM1712 635h6v7h-6zM1965 642h6v6h-6zM1751 668h6v6h-6zM1861 668h6v6h-6zM1971 668h7v6h-7zM1777 681h6v6h-6zM408 694h6v6h-6zM414 727h7v6h-7zM375 733h7v7h-7z"/>
</g>
<g id="series-lac-khm" fill="#ffa500">
<path d="M1186 89h7v7h-7zM1160 96h39v6h-39zM1134 102h52v7h-52zM1193 102h19v7h-19zM1108 109h52v6h-52zM1199 109h20v6h-20zM1082 115h52v7h-52zM1206 115h19v7h-19zM1056 122h52v6h-52zM1219 122h19v6h-19zM1037 128h45v7h-45zM1225 128h20v7h-20zM1011 135h45v6h-45zM1232 135h19v6h-19zM985 141h45v7h-45zM1245 141h19v7h-19zM959 148h52v6h-52zM1251 148h20v6h-20zM946 154h39v7h-39zM1258 154h19v7h-19zM940 161h19v6h-19zM1271 161h19v6h-19zM927 167h19v7h-19zM1277 167h19v7h-19zM920 174h20v6h-20zM1283 174h20v6h-20zM907 180h26v7h-26zM1296 180h20v7h-20zM901 187h19v6h-19zM1303 187h19v6h-19zM894 193h20v7h-20zM1309 193h20v7h-20zM881 200h20v6h-20zM1322 200h13v6h-13zM875 206h19v7h-19zM1329 206h19v7h-19zM862 213h19v6h-19zM1335 213h20v6h-20zM855 219h20v7h-20zM1348 219h13v7h-13zM842 226h20v6h-20zM1355 226h19v6h-19zM836 232h19v7h-19zM1361 232h20v7h-20zM823 239h26v6h-26zM1368 239h19v6h-19zM816 245h20v7h-20zM1381 245h19v7h-19zM810 252h19v6h-19zM1387 252h20v6h-20zM797 258h19v7h-19zM1394 258h19v7h-19zM790 265h20v6h-20zM1407 265h19v6h-19zM777 271h20v7h-20zM1413 271h20v7h-20zM771 278h19v6h-19zM1420 278h19v6h-19zM758 284h19v7h-19zM1433 284h19v7h-19zM751 291h20v6h-20zM1439 291h20v6h-20zM738 297h26v7h-26zM1446 297h19v7h-19zM732 304h19v6h-19zM1459 304h19v6h-19zM725 310h20v7h-20zM1465 310h20v7h-20zM719 317h13v6h-13zM1472 317h19v6h-19zM713 323h12v7h-12zM1485 323h19v7h-19zM706 330h13v6h-13zM1491 330h20v6h-20zM700 336h13v7h-13zM1498 336h19v7h-19zM693 343h20v6h-20zM1511 343h13v6h-13zM687 349h19v7h-19zM1517 349h20v7h-20zM687 356h13v6h-13zM1524 356h19v6h-19zM680 362h13v7h-13zM1537 362h13v7h-13zM674 369h13v6h-13zM1543 369h19v6h-19zM667 375h13v7h-13zM1550 375h19v7h-19zM661 382h19v6h-19zM1556 382h19v6h-19zM661 388h13v7h-13zM1569 388h19v7h-19zM654 395h13v6h-13zM1575 395h20v6h-20zM648 401h13v7h-13zM1582 401h19v7h-19zM641 408h13v6h-13zM1595 408h19v6h-19zM635 414h13v7h-13zM1601 414h20v7h-20zM628 421h20v6h-20zM1608 421h19v6h-19zM628 427h13v7h-13zM1621 427h19v7h-19zM622 434h13v6h-13zM1627 434h20v6h-20zM615 440h13v7h-13zM1634 440h19v7h-19zM609 447h13v6h-13zM1647 447h19v6h-19zM602 453h20v7h-20zM1653 453h20v7h-20zM596 460h19v6h-19zM1660 460h19v6h-19zM596 466h13v7h-13zM1673 466h19v7h-19zM589 473h13v6h-13zM1679 473h20v6h-20zM583 479h13v7h-13zM1686 479h19v7h-19zM576 486h13v6h-13zM1699 486h13v6h-13zM570 492h19v7h-19zM1705 492h20v7h-20zM563 499h20v6h-20zM1712 499h19v6h-19zM563 505h13v7h-13zM1718 505h20v7h-20zM557 512h13v6h-13zM1731 512h20v6h-20zM2276 512h85v6h-85zM550 518h13v7h-13zM1738 518h19v7h-19zM2088 518h273v7h-273zM544 525h13v6h-13zM1744 525h20v6h-20zM1900 525h376v6h-376zM537 531h20v7h-20zM1757 531h331v7h-331zM531 538h19v6h-19zM1764 538h136v6h-136zM531 544h13v7h-13zM524 551h13v6h-13zM518 557h13v7h-13zM511 564h13v6h-13zM505 570h19v7h-19zM498 577h20v6h-20zM498 583h13v7h-13zM492 590h13v6h-13zM485 596h13v7h-13zM479 603h13v6h-13zM472 609h20v7h-20zM472 616h13v6h-13zM466 622h13v7h-13zM459 629h13v6h-13zM453 635h13v7h-13zM446 642h20v6h-20zM440 648h19v7h-19zM440 655h13v6h-13zM433 661h13v7h-13zM427 668h13v6h-13zM421 674h12v7h-12zM414 681h19v6h-19zM408 687h19v7h-19zM408 694h13v6h-13zM401 700h13v7h-13zM395 707h13v6h-13zM388 713h13v7h-13zM382 720h19v7h-19zM375 727h20v6h-20zM375 733h13v7h-13zM369 740h13v6h-13z"/>
<path fill-opacity=".996" d="M1030 128h7v7h-7zM946 167h7v7h-7zM1335 200h7v6h-7zM1342 219h6v7h-6zM803 252h7v6h-7zM719 310h6v7h-6zM1524 343h6v6h-6zM1530 362h7v7h-7zM654 388h7v7h-7zM648 414h6v7h-6zM1712 486h6v6h-6zM1900 538h6v6h-6zM492 603h6v6h-6z"/>
<path fill-opacity=".992" d="M888 193h6v7h-6zM1361 219h7v7h-7zM862 226h6v6h-6zM1504 343h7v6h-7zM680 375h7v7h-7zM622 427h6v7h-6zM1692 486h7v6h-7zM2276 525h7v6h-7zM2088 531h7v7h-7zM466 616h6v6h-6z"/>
<path fill-opacity=".988" d="M1199 96h7v6h-7zM1004 135h7v6h-7zM1030 141h7v7h-7zM1316 200h6v6h-6zM1550 362h6v7h-6zM1738 505h6v7h-6zM524 564h7v6h-7zM433 655h7v6h-7z"/>
<path fill-opacity=".984" d="M1387 239h7v6h-7zM777 284h7v7h-7zM1478 323h7v7h-7zM713 336h6v7h-6zM589 466h7v7h-7zM1666 466h7v7h-7zM2270 512h6v6h-6zM2082 518h6v7h-6zM557 525h6v6h-6zM1893 525h7v6h-7z"/>
<path fill-opacity=".98" d="M1180 89h6v7h-6zM1290 180h6v7h-6zM784 265h6v6h-6zM1575 382h7v6h-7zM401 694h7v6h-7zM401 713h7v7h-7z"/>
<path fill-opacity=".976" d="M1225 115h7v7h-7zM1640 447h7v6h-7zM557 505h6v7h-6zM1764 525h6v6h-6z"/>
<path fill-opacity=".973" d="M1186 102h7v7h-7zM1056 135h7v6h-7zM979 141h6v7h-6zM868 206h7v7h-7zM881 213h7v6h-7zM1413 258h7v7h-7zM1452 304h7v6h-7zM713 317h6v6h-6zM1601 401h7v7h-7zM589 486h7v6h-7zM369 733h6v7h-6z"/>
<path fill-opacity=".969" d="M1251 135h7v6h-7zM1264 161h7v6h-7zM524 544h7v7h-7zM433 674h7v7h-7z"/>
<path fill-opacity=".965" d="M1154 96h6v6h-6zM797 271h6v7h-6zM1439 278h7v6h-7zM680 356h7v6h-7zM1614 427h7v7h-7zM622 447h6v6h-6z"/>
<path fill-opacity=".961" d="M1426 284h7v7h-7zM1627 421h7v6h-7zM1906 538h7v6h-7zM466 635h6v7h-6z"/>
<path fill-opacity=".957" d="M1238 141h7v7h-7zM764 278h7v6h-7zM2283 525h6v6h-6zM2095 531h6v7h-6zM492 583h6v7h-6z"/>
<path fill-opacity=".953" d="M1082 128h7v7h-7zM1277 154h6v7h-6zM648 395h6v6h-6zM654 408h7v6h-7zM1588 408h7v6h-7z"/>
<path fill-opacity=".949" d="M901 200h6v6h-6zM1400 265h7v6h-7zM1465 297h7v7h-7zM2263 512h7v6h-7zM2075 518h7v7h-7zM1887 525h6v6h-6zM498 596h7v7h-7z"/>
<path fill-opacity=".945" d="M1212 122h7v6h-7zM849 219h6v7h-6zM1653 440h7v7h-7zM1751 531h6v7h-6zM459 622h7v7h-7z"/>
<path fill-opacity=".941" d="M1128 102h6v7h-6zM1303 174h6v6h-6zM687 369h6v6h-6zM615 434h7v6h-7z"/>
<path fill-opacity=".937" d="M816 258h7v7h-7zM1491 317h7v6h-7zM1562 388h7v7h-7zM531 557h6v7h-6z"/>
<path fill-opacity=".933" d="M933 161h7v6h-7zM1374 245h7v7h-7zM427 661h6v7h-6z"/>
<path fill-opacity=".929" d="M953 148h6v6h-6zM719 330h6v6h-6zM1679 460h7v6h-7zM583 473h6v6h-6zM1725 512h6v6h-6z"/>
<path fill-opacity=".925" d="M1108 122h7v6h-7zM1329 193h6v7h-6zM745 291h6v6h-6zM563 518h7v7h-7zM2101 531h7v7h-7zM1913 538h6v6h-6z"/>
<path fill-opacity=".922" d="M732 317h6v6h-6zM1517 336h7v7h-7zM1537 369h6v6h-6zM2289 525h7v6h-7zM395 700h6v7h-6z"/>
<path fill-opacity=".918" d="M920 187h7v6h-7zM1348 226h7v6h-7zM408 707h6v6h-6z"/>
<path fill-opacity=".914" d="M1102 109h6v6h-6zM829 232h7v7h-7zM1705 479h7v7h-7zM550 512h7v6h-7zM2257 512h6v6h-6zM2069 518h6v7h-6zM1880 525h7v6h-7z"/>
<path fill-opacity=".91" d="M1355 213h6v6h-6zM596 479h6v7h-6zM1699 492h6v7h-6z"/>
<path fill-opacity=".906" d="M706 323h7v7h-7zM1511 349h6v7h-6z"/>
<path fill-opacity=".902" d="M836 245h6v7h-6zM1543 356h7v6h-7zM440 668h6v6h-6zM375 746h7v7h-7z"/>
<path fill-opacity=".898" d="M1134 115h7v7h-7zM959 161h7v6h-7zM914 174h6v6h-6zM1322 206h7v7h-7zM518 551h6v6h-6z"/>
<path fill-opacity=".894" d="M1193 89h6v7h-6zM628 440h7v7h-7zM1673 473h6v6h-6zM1731 499h7v6h-7z"/>
<path fill-opacity=".89" d="M725 304h7v6h-7zM674 362h6v7h-6zM2296 525h6v6h-6zM2108 531h6v7h-6zM1919 538h7v6h-7z"/>
<path fill-opacity=".886" d="M1381 232h6v7h-6zM751 304h7v6h-7zM1485 330h6v6h-6zM472 629h7v6h-7z"/>
<path fill-opacity=".882" d="M1076 115h6v7h-6zM1569 375h6v7h-6zM485 590h7v6h-7z"/>
<path fill-opacity=".878" d="M940 174h6v6h-6zM1296 187h7v6h-7zM661 401h6v7h-6zM2250 512h7v6h-7zM2062 518h7v7h-7zM1874 525h6v6h-6z"/>
<path fill-opacity=".875" d="M1219 109h6v6h-6zM810 245h6v7h-6zM641 401h7v7h-7zM1757 518h7v7h-7z"/>
<path fill-opacity=".871" d="M1647 453h6v7h-6z"/>
<path fill-opacity=".867" d="M1407 252h6v6h-6zM505 590h6v6h-6z"/>
<path fill-opacity=".863" d="M1160 109h7v6h-7zM1459 310h6v7h-6zM453 629h6v6h-6z"/>
<path fill-opacity=".859" d="M855 232h7v7h-7zM693 362h7v7h-7zM1595 395h6v6h-6z"/>
<path fill-opacity=".855" d="M1271 167h6v7h-6zM894 187h7v6h-7zM609 440h6v7h-6zM2302 525h7v6h-7zM2114 531h7v7h-7zM1926 538h6v6h-6z"/>
<path fill-opacity=".851" d="M1245 128h6v7h-6zM537 551h7v6h-7z"/>
<path fill-opacity=".847" d="M1050 122h6v6h-6zM985 154h7v7h-7zM1621 434h6v6h-6zM421 668h6v6h-6z"/>
<path fill-opacity=".843" d="M1433 271h6v7h-6zM2244 512h6v6h-6zM2056 518h6v7h-6zM1867 525h7v6h-7z"/>
<path fill-opacity=".839" d="M771 291h6v6h-6zM1433 291h6v6h-6zM725 323h7v7h-7zM382 740h6v6h-6z"/>
<path fill-opacity=".835" d="M1621 414h6v7h-6zM576 479h7v7h-7z"/>
<path fill-opacity=".831" d="M1245 148h6v6h-6z"/>
<path fill-opacity=".827" d="M1271 148h6v6h-6zM790 258h7v7h-7zM570 512h6v6h-6z"/>
<path fill-opacity=".824" d="M1595 414h6v7h-6zM388 707h7v6h-7z"/>
<path fill-opacity=".82" d="M1459 291h6v6h-6zM2309 525h6v6h-6zM2121 531h6v7h-6zM1932 538h7v6h-7zM414 700h7v7h-7z"/>
<path fill-opacity=".816" d="M1407 271h6v7h-6zM544 518h6v7h-6z"/>
<path fill-opacity=".812" d="M1024 128h6v7h-6zM1011 148h6v6h-6zM875 219h6v7h-6zM1647 434h6v6h-6zM2237 512h7v6h-7zM2049 518h7v7h-7z"/>
<path fill-opacity=".808" d="M1219 128h6v7h-6zM602 473h7v6h-7zM1861 525h6v6h-6zM1757 538h7v6h-7z"/>
<path fill-opacity=".804" d="M1296 167h7v7h-7zM875 200h6v6h-6zM700 330h6v6h-6z"/>
<path fill-opacity=".8" d="M1569 395h6v6h-6z"/>
<path fill-opacity=".796" d="M446 661h7v7h-7z"/>
<path fill-opacity=".792" d="M1381 252h6v6h-6zM1485 310h6v7h-6zM511 557h7v7h-7z"/>
<path fill-opacity=".788" d="M790 278h7v6h-7zM635 434h6v6h-6zM1939 538h6v6h-6z"/>
<path fill-opacity=".784" d="M1673 453h6v7h-6zM2315 525h7v6h-7zM2127 531h6v7h-6z"/>
<path fill-opacity=".78" d="M1193 109h6v6h-6zM667 369h7v6h-7zM1731 518h7v7h-7z"/>
<path fill-opacity=".776" d="M998 135h6v6h-6zM1037 141h6v7h-6zM1322 187h7v6h-7zM2231 512h6v6h-6zM2043 518h6v7h-6zM1854 525h7v6h-7zM479 622h6v7h-6z"/>
<path fill-opacity=".773" d="M771 271h6v7h-6zM1543 375h7v7h-7z"/>
<path fill-opacity=".769" d="M479 596h6v7h-6z"/>
<path fill-opacity=".765" d="M1511 330h6v6h-6z"/>
<path fill-opacity=".761" d="M1173 89h7v7h-7zM1355 232h6v7h-6zM667 395h7v6h-7z"/>
<path fill-opacity=".757" d="M635 408h6v6h-6zM1699 473h6v6h-6z"/>
<path fill-opacity=".753" d="M894 206h7v7h-7zM1705 499h7v6h-7zM1945 538h7v6h-7z"/>
<path fill-opacity=".749" d="M855 213h7v6h-7zM2322 525h6v6h-6zM2133 531h7v7h-7zM511 583h7v7h-7z"/>
<path fill-opacity=".745" d="M1348 206h7v7h-7zM446 635h7v7h-7z"/>
<path fill-opacity=".741" d="M1063 135h6v6h-6zM972 141h7v7h-7zM1517 356h7v6h-7zM2224 512h7v6h-7zM2036 518h7v7h-7zM1848 525h6v6h-6z"/>
<path fill-opacity=".737" d="M1537 349h6v7h-6zM700 356h6v6h-6z"/>
<path fill-opacity=".733" d="M1329 213h6v6h-6zM602 447h7v6h-7z"/>
<path fill-opacity=".725" d="M1147 96h7v6h-7zM810 265h6v6h-6zM1725 492h6v7h-6zM544 544h6v7h-6z"/>
<path fill-opacity=".722" d="M940 154h6v7h-6zM1679 479h7v7h-7zM414 674h7v7h-7z"/>
<path fill-opacity=".718" d="M2140 531h6v7h-6zM1952 538h6v6h-6z"/>
<path fill-opacity=".714" d="M1374 226h7v6h-7zM2328 525h7v6h-7zM388 733h7v7h-7z"/>
<path fill-opacity=".71" d="M751 284h7v7h-7zM1491 336h7v7h-7z"/>
<path fill-opacity=".706" d="M1089 128h6v7h-6zM570 486h6v6h-6zM2218 512h6v6h-6zM2030 518h6v7h-6zM1842 525h6v6h-6z"/>
<path fill-opacity=".702" d="M1303 193h6v7h-6zM1562 369h7v6h-7z"/>
<path fill-opacity=".698" d="M576 505h7v7h-7z"/>
<path fill-opacity=".694" d="M1212 102h7v7h-7zM1751 512h6v6h-6zM382 713h6v7h-6z"/>
<path fill-opacity=".69" d="M1121 102h7v7h-7zM914 193h6v7h-6zM1653 460h7v6h-7z"/>
<path fill-opacity=".686" d="M421 694h6v6h-6z"/>
<path fill-opacity=".682" d="M836 226h6v6h-6zM1400 245h7v7h-7zM2335 525h6v6h-6zM2146 531h7v7h-7zM1958 538h7v6h-7z"/>
<path fill-opacity=".678" d="M1465 317h7v6h-7zM537 525h7v6h-7zM1770 544h7v7h-7z"/>
<path fill-opacity=".671" d="M1115 122h6v6h-6zM1588 388h7v7h-7zM609 466h6v7h-6zM2211 512h7v6h-7zM2023 518h7v7h-7zM1835 525h7v6h-7z"/>
<path fill-opacity=".667" d="M1277 174h6v6h-6zM693 336h7v7h-7z"/>
<path fill-opacity=".663" d="M829 252h7v6h-7z"/>
<path fill-opacity=".659" d="M1238 122h7v6h-7z"/>
<path fill-opacity=".655" d="M1095 109h7v6h-7zM920 167h7v7h-7zM1627 440h7v7h-7zM453 655h6v6h-6z"/>
<path fill-opacity=".651" d="M505 564h6v6h-6z"/>
<path fill-opacity=".647" d="M1426 265h7v6h-7zM2341 525h7v6h-7zM2153 531h6v7h-6zM1965 538h6v6h-6zM1777 544h6v7h-6z"/>
<path fill-opacity=".643" d="M732 297h6v7h-6zM1439 297h7v7h-7zM641 427h7v7h-7z"/>
<path fill-opacity=".635" d="M1141 115h6v7h-6zM661 375h6v7h-6zM1614 408h7v6h-7zM2205 512h6v6h-6zM2017 518h6v7h-6zM1829 525h6v6h-6z"/>
<path fill-opacity=".631" d="M1251 154h7v7h-7zM745 310h6v7h-6z"/>
<path fill-opacity=".627" d="M485 616h7v6h-7z"/>
<path fill-opacity=".624" d="M1264 141h7v7h-7zM966 161h6v6h-6z"/>
<path fill-opacity=".62" d="M1069 115h7v7h-7zM1601 421h7v6h-7zM472 603h7v6h-7z"/>
<path fill-opacity=".616" d="M933 180h7v7h-7zM816 239h7v6h-7zM1783 544h7v7h-7z"/>
<path fill-opacity=".612" d="M1452 284h7v7h-7zM674 388h6v7h-6zM2348 525h6v6h-6zM2159 531h7v7h-7zM1971 538h7v6h-7z"/>
<path fill-opacity=".608" d="M1413 278h7v6h-7zM628 414h7v7h-7z"/>
<path fill-opacity=".604" d="M2198 512h7v6h-7zM2010 518h7v7h-7z"/>
<path fill-opacity=".6" d="M1167 109h6v6h-6zM1640 427h7v7h-7zM1822 525h7v6h-7z"/>
<path fill-opacity=".596" d="M518 577h6v6h-6z"/>
<path fill-opacity=".592" d="M1225 135h7v6h-7z"/>
<path fill-opacity=".588" d="M992 154h6v7h-6zM1290 161h6v6h-6zM849 239h6v6h-6zM440 642h6v6h-6z"/>
<path fill-opacity=".584" d="M1043 122h7v6h-7zM901 180h6v7h-6z"/>
<path fill-opacity=".58" d="M706 349h7v7h-7zM1575 401h7v7h-7zM1790 544h6v7h-6z"/>
<path fill-opacity=".576" d="M1478 304h7v6h-7zM2354 525h7v6h-7zM2166 531h6v7h-6zM1978 538h6v6h-6z"/>
<path fill-opacity=".573" d="M596 453h6v7h-6z"/>
<path fill-opacity=".569" d="M1387 258h7v7h-7zM2192 512h6v6h-6zM2004 518h6v7h-6zM1816 525h6v6h-6z"/>
<path fill-opacity=".565" d="M1666 447h7v6h-7zM550 538h7v6h-7z"/>
<path fill-opacity=".561" d="M764 297h7v7h-7z"/>
<path fill-opacity=".557" d="M1199 115h7v7h-7zM1738 525h6v6h-6zM408 681h6v6h-6z"/>
<path fill-opacity=".553" d="M1017 148h7v6h-7zM1316 180h6v7h-6z"/>
<path fill-opacity=".549" d="M1017 128h7v7h-7zM395 727h6v6h-6z"/>
<path fill-opacity=".545" d="M953 167h6v7h-6zM797 252h6v6h-6zM1550 382h6v6h-6zM1984 538h7v6h-7zM1796 544h7v7h-7z"/>
<path fill-opacity=".541" d="M563 492h7v7h-7zM2172 531h7v7h-7z"/>
<path fill-opacity=".537" d="M1504 323h7v7h-7z"/>
<path fill-opacity=".533" d="M1361 239h7v6h-7zM583 499h6v6h-6zM2185 512h7v6h-7zM1997 518h7v7h-7zM1809 525h7v6h-7z"/>
<path fill-opacity=".525" d="M1692 466h7v7h-7zM375 720h7v7h-7z"/>
<path fill-opacity=".522" d="M1712 505h6v7h-6z"/>
<path fill-opacity=".518" d="M1043 141h7v7h-7zM868 226h7v6h-7zM427 687h6v7h-6z"/>
<path fill-opacity=".514" d="M992 135h6v6h-6zM881 193h7v7h-7zM1342 200h6v6h-6z"/>
<path fill-opacity=".51" d="M1524 362h6v7h-6zM531 531h6v7h-6zM2179 531h6v7h-6zM1991 538h6v6h-6zM1803 544h6v7h-6z"/>
<path fill-opacity=".502" d="M1167 89h6v7h-6zM1530 343h7v6h-7zM615 460h7v6h-7z"/>
<path fill-opacity=".498" d="M1335 219h7v7h-7zM2179 512h6v6h-6zM1991 518h6v7h-6zM1803 525h6v6h-6z"/>
<path fill-opacity=".494" d="M687 343h6v6h-6z"/>
<path fill-opacity=".49" d="M784 284h6v7h-6zM1718 486h7v6h-7z"/>
<path fill-opacity=".486" d="M1686 486h6v6h-6zM459 648h7v7h-7z"/>
<path fill-opacity=".482" d="M1069 135h7v6h-7z"/>
<path fill-opacity=".478" d="M966 141h6v7h-6zM1368 219h6v7h-6zM1770 525h7v6h-7zM498 570h7v7h-7zM362 740h7v6h-7z"/>
<path fill-opacity=".475" d="M777 265h7v6h-7zM1498 343h6v6h-6zM2185 531h7v7h-7zM1997 538h7v6h-7zM1809 544h7v7h-7z"/>
<path fill-opacity=".471" d="M648 421h6v6h-6z"/>
<path fill-opacity=".467" d="M1141 96h6v6h-6zM1556 362h6v7h-6z"/>
<path fill-opacity=".463" d="M654 382h7v6h-7zM2172 512h7v6h-7zM1984 518h7v7h-7zM1796 525h7v6h-7zM1764 544h6v7h-6z"/>
<path fill-opacity=".459" d="M1309 200h7v6h-7z"/>
<path fill-opacity=".455" d="M1206 96h6v6h-6zM1744 505h7v7h-7zM492 609h6v7h-6z"/>
<path fill-opacity=".447" d="M1095 128h7v7h-7zM888 213h6v6h-6zM1660 466h6v7h-6zM466 609h6v7h-6z"/>
<path fill-opacity=".443" d="M862 206h6v7h-6zM1394 239h6v6h-6z"/>
<path fill-opacity=".439" d="M680 382h7v6h-7zM2192 531h6v7h-6zM2004 538h6v6h-6zM1816 544h6v7h-6z"/>
<path fill-opacity=".435" d="M1472 323h6v7h-6z"/>
<path fill-opacity=".431" d="M1115 102h6v7h-6zM1582 382h6v6h-6zM622 421h6v6h-6zM2354 505h7v7h-7zM2166 512h6v6h-6z"/>
<path fill-opacity=".427" d="M1978 518h6v7h-6zM1790 525h6v6h-6z"/>
<path fill-opacity=".424" d="M1283 180h7v7h-7zM524 570h7v7h-7z"/>
<path fill-opacity=".42" d="M1232 115h6v7h-6zM803 271h7v7h-7z"/>
<path fill-opacity=".416" d="M433 648h7v7h-7z"/>
<path fill-opacity=".412" d="M1121 122h7v6h-7zM946 148h7v6h-7zM1634 447h6v6h-6z"/>
<path fill-opacity=".408" d="M1420 258h6v7h-6zM713 343h6v6h-6zM1822 544h7v7h-7z"/>
<path fill-opacity=".404" d="M589 460h7v6h-7zM2198 531h7v7h-7zM2010 538h7v6h-7z"/>
<path fill-opacity=".4" d="M758 278h6v6h-6zM1446 304h6v6h-6z"/>
<path fill-opacity=".396" d="M1089 109h6v6h-6zM1608 401h6v7h-6zM2348 505h6v7h-6zM2159 512h7v6h-7zM1971 518h7v7h-7zM1783 525h7v6h-7z"/>
<path fill-opacity=".392" d="M557 531h6v7h-6z"/>
<path fill-opacity=".388" d="M1258 161h6v6h-6zM401 687h7v7h-7z"/>
<path fill-opacity=".38" d="M1258 135h6v6h-6zM1608 427h6v7h-6z"/>
<path fill-opacity=".376" d="M1147 115h7v7h-7zM907 200h7v6h-7zM401 720h7v7h-7zM369 746h6v7h-6z"/>
<path fill-opacity=".373" d="M842 219h7v7h-7zM1446 278h6v6h-6zM557 499h6v6h-6zM1829 544h6v7h-6z"/>
<path fill-opacity=".369" d="M1420 284h6v7h-6zM2205 531h6v7h-6zM2017 538h6v6h-6z"/>
<path fill-opacity=".365" d="M972 161h7v6h-7zM589 492h7v7h-7z"/>
<path fill-opacity=".361" d="M1063 115h6v7h-6zM1634 421h6v6h-6zM2341 505h7v7h-7zM2153 512h6v6h-6zM1965 518h6v7h-6zM1777 525h6v6h-6z"/>
<path fill-opacity=".357" d="M369 727h6v6h-6z"/>
<path fill-opacity=".353" d="M1232 141h6v7h-6zM713 310h6v7h-6z"/>
<path fill-opacity=".349" d="M823 258h6v7h-6zM433 681h7v6h-7z"/>
<path fill-opacity=".345" d="M1283 154h7v7h-7zM927 161h6v6h-6z"/>
<path fill-opacity=".341" d="M1173 109h7v6h-7zM1582 408h6v6h-6zM524 538h7v6h-7z"/>
<path fill-opacity=".337" d="M2023 538h7v6h-7zM1835 544h7v7h-7z"/>
<path fill-opacity=".333" d="M1472 297h6v7h-6zM622 453h6v7h-6zM2211 531h7v7h-7z"/>
<path fill-opacity=".329" d="M1394 265h6v6h-6zM738 291h7v6h-7zM680 349h7v7h-7z"/>
<path fill-opacity=".325" d="M1037 122h6v6h-6zM998 154h6v7h-6zM1660 440h6v7h-6zM2335 505h6v7h-6zM2146 512h7v6h-7zM1958 518h7v7h-7z"/>
<path fill-opacity=".322" d="M738 317h7v6h-7zM466 642h6v6h-6z"/>
<path fill-opacity=".318" d="M1206 122h6v6h-6zM1744 531h7v7h-7zM492 577h6v6h-6z"/>
<path fill-opacity=".314" d="M1309 174h7v6h-7z"/>
<path fill-opacity=".31" d="M927 187h6v6h-6zM1556 388h6v7h-6z"/>
<path fill-opacity=".306" d="M823 232h6v7h-6zM654 414h7v7h-7z"/>
<path fill-opacity=".302" d="M1498 317h6v6h-6zM648 388h6v7h-6zM2218 531h6v7h-6zM2030 538h6v6h-6zM1842 544h6v7h-6z"/>
<path fill-opacity=".298" d="M1368 245h6v7h-6z"/>
<path fill-opacity=".294" d="M1024 148h6v6h-6zM1686 460h6v6h-6zM498 603h7v6h-7z"/>
<path fill-opacity=".29" d="M1011 128h6v7h-6zM2328 505h7v7h-7zM2140 512h6v6h-6zM1952 518h6v7h-6zM459 616h7v6h-7z"/>
<path fill-opacity=".286" d="M1718 512h7v6h-7z"/>
<path fill-opacity=".282" d="M1335 193h7v7h-7zM842 245h7v7h-7zM687 375h6v7h-6z"/>
<path fill-opacity=".278" d="M907 174h7v6h-7zM1530 369h7v6h-7z"/>
<path fill-opacity=".275" d="M615 427h7v7h-7z"/>
<path fill-opacity=".271" d="M1524 336h6v7h-6zM531 564h6v6h-6z"/>
<path fill-opacity=".267" d="M1342 226h6v6h-6zM719 304h6v6h-6zM2224 531h7v7h-7zM2036 538h7v6h-7zM1848 544h6v7h-6z"/>
<path fill-opacity=".263" d="M1712 479h6v7h-6zM427 655h6v6h-6z"/>
<path fill-opacity=".259" d="M1050 141h6v7h-6zM1692 492h7v7h-7z"/>
<path fill-opacity=".255" d="M985 135h7v6h-7zM758 304h6v6h-6zM719 336h6v7h-6zM2322 505h6v7h-6zM2133 512h7v6h-7zM1945 518h7v7h-7z"/>
<path fill-opacity=".251" d="M1361 213h7v6h-7zM583 466h6v7h-6z"/>
<path fill-opacity=".247" d="M946 174h7v6h-7zM1504 349h7v7h-7z"/>
<path fill-opacity=".243" d="M1160 89h7v7h-7zM803 245h7v7h-7zM1550 356h6v6h-6zM563 525h7v6h-7z"/>
<path fill-opacity=".239" d="M395 694h6v6h-6z"/>
<path fill-opacity=".235" d="M1199 89h7v7h-7zM1316 206h6v7h-6z"/>
<path fill-opacity=".231" d="M1666 473h7v6h-7zM1738 499h6v6h-6zM2231 531h6v7h-6zM2043 538h6v6h-6zM1854 544h7v7h-7zM408 713h6v7h-6z"/>
<path fill-opacity=".227" d="M550 505h7v7h-7z"/>
<path fill-opacity=".224" d="M1076 135h6v6h-6zM862 232h6v7h-6zM1387 232h7v7h-7zM2315 505h7v7h-7zM2127 512h6v6h-6z"/>
<path fill-opacity=".22" d="M959 141h7v7h-7zM888 187h6v6h-6zM1478 330h7v6h-7zM596 486h6v6h-6zM1939 518h6v7h-6z"/>
<path fill-opacity=".216" d="M706 317h7v6h-7zM1575 375h7v7h-7zM362 733h7v7h-7z"/>
<path fill-opacity=".212" d="M440 674h6v7h-6z"/>
<path fill-opacity=".208" d="M1186 83h7v6h-7zM1134 96h7v6h-7zM1290 187h6v6h-6z"/>
<path fill-opacity=".204" d="M1225 109h7v6h-7zM1764 518h6v7h-6zM518 544h6v7h-6z"/>
<path fill-opacity=".2" d="M777 291h7v6h-7zM628 447h7v6h-7zM1640 453h7v7h-7zM1861 544h6v7h-6z"/>
<path fill-opacity=".196" d="M1413 252h7v6h-7zM2237 531h7v7h-7zM2049 538h7v6h-7z"/>
<path fill-opacity=".192" d="M1452 310h7v7h-7zM674 356h6v6h-6z"/>
<path fill-opacity=".188" d="M1102 128h6v7h-6zM784 258h6v7h-6zM1601 395h7v6h-7zM2309 505h6v7h-6zM2121 512h6v6h-6zM1932 518h7v7h-7zM472 635h7v7h-7z"/>
<path fill-opacity=".184" d="M1264 167h7v7h-7zM485 583h7v7h-7z"/>
<path fill-opacity=".18" d="M1251 128h7v7h-7z"/>
<path fill-opacity=".176" d="M661 408h6v6h-6zM1614 434h7v6h-7z"/>
<path fill-opacity=".173" d="M1108 102h7v7h-7zM881 219h7v7h-7zM1439 271h7v7h-7zM641 395h7v6h-7zM2361 518h6v7h-6z"/>
<path fill-opacity=".169" d="M1426 291h7v6h-7zM505 596h6v7h-6z"/>
<path fill-opacity=".165" d="M868 200h7v6h-7zM1627 414h7v7h-7zM1867 544h7v7h-7zM453 622h6v7h-6z"/>
<path fill-opacity=".161" d="M1238 148h7v6h-7zM2244 531h6v7h-6zM2056 538h6v6h-6z"/>
<path fill-opacity=".157" d="M1277 148h6v6h-6zM693 369h7v6h-7z"/>
<path fill-opacity=".153" d="M1128 122h6v6h-6zM1588 414h7v7h-7zM609 434h6v6h-6zM2302 505h7v7h-7zM2114 512h7v6h-7zM1926 518h6v7h-6z"/>
<path fill-opacity=".149" d="M797 278h6v6h-6zM1465 291h7v6h-7zM537 557h7v7h-7z"/>
<path fill-opacity=".145" d="M1400 271h7v7h-7zM421 661h6v7h-6z"/>
<path fill-opacity=".141" d="M725 330h7v6h-7zM1653 434h7v6h-7zM382 746h6v7h-6z"/>
<path fill-opacity=".137" d="M1082 109h7v6h-7zM1212 128h7v7h-7zM764 271h7v7h-7zM2361 512h6v6h-6zM1751 538h6v6h-6z"/>
<path fill-opacity=".133" d="M1303 167h6v7h-6zM576 473h7v6h-7z"/>
<path fill-opacity=".129" d="M1562 395h7v6h-7zM570 518h6v7h-6zM2062 538h7v6h-7zM1874 544h6v7h-6z"/>
<path fill-opacity=".125" d="M901 206h6v7h-6zM1374 252h7v6h-7zM1491 310h7v7h-7zM2250 531h7v7h-7zM388 700h7v7h-7z"/>
<path fill-opacity=".122" d="M1154 115h6v7h-6zM849 213h6v6h-6zM414 707h7v6h-7z"/>
<path fill-opacity=".118" d="M1186 109h7v6h-7zM1679 453h7v7h-7zM2296 505h6v7h-6zM544 512h6v6h-6zM2108 512h6v6h-6zM1725 518h6v7h-6zM1919 518h7v7h-7z"/>
<path fill-opacity=".114" d="M1329 187h6v6h-6zM602 479h7v7h-7z"/>
<path fill-opacity=".11" d="M700 323h6v7h-6zM1537 375h6v7h-6zM2361 525h6v6h-6z"/>
<path fill-opacity=".106" d="M1056 115h7v7h-7zM933 154h7v7h-7zM979 161h6v6h-6zM816 265h7v6h-7zM1517 330h7v6h-7zM446 668h7v6h-7z"/>
<path fill-opacity=".102" d="M1348 232h7v7h-7zM1705 473h7v6h-7zM511 551h7v6h-7z"/>
<path fill-opacity=".098" d="M745 284h6v7h-6zM635 440h6v7h-6zM1699 499h6v6h-6z"/>
<path fill-opacity=".094" d="M1355 206h6v7h-6zM732 323h6v7h-6zM667 362h7v7h-7zM2257 531h6v7h-6zM2069 538h6v6h-6zM1880 544h7v7h-7z"/>
<path fill-opacity=".09" d="M1180 109h6v6h-6zM1543 349h7v7h-7zM1511 356h6v6h-6zM479 629h6v6h-6z"/>
<path fill-opacity=".086" d="M920 193h7v7h-7zM1322 213h7v6h-7zM479 590h6v6h-6z"/>
<path fill-opacity=".082" d="M829 226h7v6h-7zM635 401h6v7h-6zM667 401h7v7h-7zM1673 479h6v7h-6zM1731 492h7v7h-7zM2289 505h7v7h-7zM2101 512h7v6h-7zM1913 518h6v7h-6z"/>
<path fill-opacity=".078" d="M1004 154h7v7h-7z"/>
<path fill-opacity=".075" d="M1030 122h7v6h-7zM1381 226h6v6h-6zM836 252h6v6h-6zM1485 336h6v7h-6zM511 590h7v6h-7zM446 629h7v6h-7z"/>
<path fill-opacity=".071" d="M914 167h6v7h-6zM1296 193h7v7h-7zM700 362h6v7h-6zM1569 369h6v6h-6z"/>
<path fill-opacity=".067" d="M1219 102h6v7h-6zM602 440h7v7h-7zM1647 460h6v6h-6zM1757 512h7v6h-7z"/>
<path fill-opacity=".063" d="M1407 245h6v7h-6zM725 297h7v7h-7zM544 551h6v6h-6zM414 668h7v6h-7z"/>
<path fill-opacity=".059" d="M751 310h7v7h-7zM1459 317h6v6h-6zM1595 388h6v7h-6zM2263 531h7v7h-7zM2075 538h7v6h-7zM1887 544h6v7h-6zM388 740h7v6h-7z"/>
<path fill-opacity=".055" d="M1271 174h6v6h-6zM940 180h6v7h-6zM810 239h6v6h-6zM570 479h6v7h-6z"/>
<path fill-opacity=".051" d="M1245 122h6v6h-6zM1004 128h7v7h-7zM1030 148h7v6h-7zM1621 440h6v7h-6zM2361 505h6v7h-6zM576 512h7v6h-7zM382 707h6v6h-6z"/>
<path fill-opacity=".047" d="M1433 265h6v6h-6zM1433 297h6v7h-6zM2283 505h6v7h-6zM2095 512h6v6h-6zM537 518h7v7h-7zM1906 518h7v7h-7zM421 700h6v7h-6z"/>
<path fill-opacity=".043" d="M1180 83h6v6h-6zM1193 83h6v6h-6zM1245 154h6v7h-6zM894 180h7v7h-7zM855 239h7v6h-7zM1621 408h6v6h-6zM609 473h6v6h-6z"/>
<path fill-opacity=".039" d="M1271 141h6v7h-6zM693 330h7v6h-7zM1595 421h6v6h-6zM375 753h7v6h-7z"/>
<path fill-opacity=".035" d="M1407 278h6v6h-6zM1459 284h6v7h-6zM771 297h6v7h-6zM505 557h6v7h-6zM453 661h6v7h-6z"/>
<path fill-opacity=".031" d="M979 135h6v6h-6zM1219 135h6v6h-6zM1056 141h7v7h-7zM1296 161h7v6h-7zM959 167h7v7h-7zM790 252h7v6h-7zM661 369h6v6h-6zM1647 427h6v7h-6zM641 434h7v6h-7zM1757 544h7v7h-7z"/>
<path fill-opacity=".027" d="M1154 89h6v7h-6zM1485 304h6v6h-6zM1569 401h6v7h-6zM472 596h7v7h-7zM485 622h7v7h-7z"/>
<path fill-opacity=".024" d="M1193 115h6v7h-6zM875 193h6v7h-6zM875 226h6v6h-6zM1381 258h6v7h-6zM674 395h6v6h-6zM628 408h7v6h-7zM1673 447h6v6h-6zM1731 525h7v6h-7zM2270 531h6v7h-6zM2082 538h6v6h-6zM1893 544h7v7h-7z"/>
<path fill-opacity=".02" d="M1082 135h7v6h-7zM1322 180h7v7h-7zM1511 323h6v7h-6zM706 356h7v6h-7zM1543 382h7v6h-7zM518 583h6v7h-6zM440 635h6v7h-6z"/>
<path fill-opacity=".016" d="M953 141h6v7h-6zM1355 239h6v6h-6zM790 284h7v7h-7zM596 447h6v6h-6zM1699 466h6v7h-6zM1705 505h7v7h-7zM2276 505h7v7h-7zM2088 512h7v6h-7zM550 544h7v7h-7zM408 674h6v7h-6z"/>
<path fill-opacity=".012" d="M1128 96h6v6h-6zM1348 200h7v6h-7zM1329 219h6v7h-6zM771 265h6v6h-6zM1537 343h6v6h-6zM1517 362h7v7h-7zM563 486h7v6h-7zM583 505h6v7h-6zM1900 518h6v7h-6zM395 733h6v7h-6z"/>
<path fill-opacity=".008" d="M1108 128h7v7h-7zM1303 200h6v6h-6zM855 206h7v7h-7zM894 213h7v6h-7zM1374 219h7v7h-7zM1491 343h7v6h-7zM1562 362h7v7h-7zM615 466h7v7h-7zM1679 486h7v6h-7zM1725 486h6v6h-6zM531 525h6v6h-6zM427 694h6v6h-6zM375 713h7v7h-7z"/>
<path fill-opacity=".004" d="M1212 96h7v6h-7zM1102 102h6v7h-6zM1076 109h6v6h-6zM1238 115h7v7h-7zM1134 122h7v6h-7zM940 148h6v6h-6zM1251 161h7v6h-7zM1277 180h6v7h-6zM914 200h6v6h-6zM836 219h6v7h-6zM1400 239h7v6h-7zM1426 258h7v7h-7zM810 271h6v7h-6zM751 278h7v6h-7zM1439 304h7v6h-7zM1465 323h7v7h-7zM687 336h6v7h-6zM654 375h7v7h-7zM1588 382h7v6h-7zM680 388h7v7h-7zM1614 401h7v7h-7zM622 414h6v7h-6zM648 427h6v7h-6zM1627 447h7v6h-7zM1653 466h7v7h-7zM1751 505h6v7h-6zM2276 531h7v7h-7zM2088 538h7v6h-7zM1900 544h6v7h-6zM498 564h7v6h-7zM524 577h7v6h-7zM466 603h6v6h-6zM492 616h6v6h-6zM459 655h7v6h-7z"/>
</g>
</g>
<!-- axes frame and tick marks -->
<g id="axes" class="px">
<g fill="#000000">
<path fill-opacity=".922" d="M278 31h6v6h-6zM2451 31h7v6h-7zM278 1448h6v7h-6zM2451 1448h7v7h-7z"/>
<path fill-opacity=".878" d="M278 115h6v7h-6zM278 317h6v6h-6zM278 518h6v7h-6zM278 720h6v7h-6zM278 922h6v6h-6zM278 1123h6v7h-6zM278 1325h6v6h-6zM317 1448h6v7h-6zM609 1448h6v7h-6zM901 1448h6v7h-6zM1193 1448h6v7h-6zM1478 1448h7v7h-7zM1770 1448h7v7h-7zM2062 1448h7v7h-7zM2354 1448h7v7h-7z"/>
<path fill-opacity=".8" d="M284 31h2167v6h-2167zM278 37h6v78h-6zM2451 37h7v1411h-7zM265 115h13v7h-13zM278 122h6v195h-6zM265 317h13v6h-13zM278 323h6v195h-6zM265 518h13v7h-13zM278 525h6v195h-6zM265 720h13v7h-13zM278 727h6v195h-6zM265 922h13v6h-13zM278 928h6v195h-6zM265 1123h13v7h-13zM278 1130h6v195h-6zM265 1325h13v6h-13zM278 1331h6v117h-6zM284 1448h33v7h-33zM323 1448h286v7h-286zM615 1448h286v7h-286zM907 1448h286v7h-286zM1199 1448h279v7h-279zM1485 1448h285v7h-285zM1777 1448h285v7h-285zM2069 1448h285v7h-285zM2361 1448h90v7h-90zM317 1455h6v19h-6zM609 1455h6v19h-6zM901 1455h6v19h-6zM1193 1455h6v19h-6zM1478 1455h7v19h-7zM1770 1455h7v19h-7zM2062 1455h7v19h-7zM2354 1455h7v19h-7z"/>
<path fill-opacity=".4" d="M258 115h7v7h-7zM258 317h7v6h-7zM258 518h7v7h-7zM258 720h7v7h-7zM258 922h7v6h-7zM258 1123h7v7h-7zM258 1325h7v6h-7zM317 1474h6v7h-6zM609 1474h6v7h-6zM901 1474h6v7h-6zM1193 1474h6v7h-6zM1478 1474h7v7h-7zM1770 1474h7v7h-7zM2062 1474h7v7h-7zM2354 1474h7v7h-7z"/>
</g>
</g>
<!-- legend box and line samples -->
<g id="legend" class="px">
<g fill="#d0d0d0">
<path fill-opacity=".878" d="M1906 63h500v7h-500zM1887 83h6v377h-6zM2419 83h6v377h-6zM1906 473h500v6h-500z"/>
<path fill-opacity=".871" d="M1900 63h6v7h-6zM2406 63h6v7h-6zM1887 76h6v7h-6zM2419 76h6v7h-6zM1887 460h6v6h-6zM2419 460h6v6h-6zM1900 473h6v6h-6zM2406 473h6v6h-6z"/>
<path fill-opacity=".698" d="M1893 63h7v7h-7zM2412 63h7v7h-7zM1887 70h6v6h-6zM2419 70h6v6h-6zM1887 466h6v7h-6zM2419 466h6v7h-6zM1893 473h7v6h-7zM2412 473h7v6h-7z"/>
</g>
<g fill="#ffffff">
<path fill-opacity=".8" d="M1906 70h500v6h-500zM1900 76h512v7h-512zM1893 83h526v32h-526zM1893 115h13v13h-13zM2049 115h370v13h-370zM1893 128h526v85h-526zM1893 213h20v13h-20zM1965 213h13v13h-13zM2030 213h389v13h-389zM1893 226h526v84h-526zM1893 310h20v20h-20zM1939 310h26v20h-26zM1991 310h26v20h-26zM2043 310h376v20h-376zM1893 330h526v78h-526zM1893 408h13v19h-13zM2056 408h363v19h-363zM1893 427h526v33h-526zM1900 460h512v6h-512zM1906 466h500v7h-500z"/>
</g>
<g fill="#fdfdfd">
<path fill-opacity=".804" d="M1900 70h6v6h-6zM2406 70h6v6h-6zM1893 76h7v7h-7zM2412 76h7v7h-7zM1893 460h7v6h-7zM2412 460h7v6h-7zM1900 466h6v7h-6zM2406 466h6v7h-6z"/>
</g>
<g fill="#cccccc">
<path fill-opacity=".086" d="M1887 63h6v7h-6zM2419 63h6v7h-6zM1887 473h6v6h-6zM2419 473h6v6h-6z"/>
</g>
<g fill="#e8e8e8">
<path fill-opacity=".863" d="M2412 70h7v6h-7zM1893 466h7v7h-7zM2412 466h7v7h-7z"/>
<path fill-opacity=".859" d="M1893 70h7v6h-7z"/>
</g>
<g fill="#0000ff">
<path d="M1919 310h13v20h-13zM1971 310h13v20h-13zM2023 310h13v20h-13z"/>
</g>
<g fill="#008000">
<path d="M1913 213h45v13h-45zM1984 213h46v13h-46z"/>
</g>
<g fill="#8bc58b">
<path fill-opacity=".878" d="M1958 213h7v13h-7zM1978 213h6v13h-6z"/>
</g>
<g fill="#7171ff">
<path fill-opacity=".902" d="M1913 310h6v20h-6zM1932 310h7v20h-7z"/>
</g>
<g fill="#ff0000">
<path d="M1906 115h143v13h-143z"/>
</g>
<g fill="#6464ff">
<path fill-opacity=".91" d="M1965 310h6v20h-6z"/>
</g>
<g fill="#7e7eff">
<path fill-opacity=".89" d="M1984 310h7v20h-7z"/>
</g>
<g fill="#5858ff">
<path fill-opacity=".922" d="M2017 310h6v20h-6z"/>
</g>
<g fill="#8b8bff">
<path fill-opacity=".878" d="M2036 310h7v20h-7z"/>
</g>
<g fill="#ffa500">
<path d="M1906 408h150v19h-150z"/>
</g>
</g>
<!-- tick labels, axis titles and legend entries: real text in DejaVu Sans -->
<g filter="url(#raster)">
<!-- sampling grid: for every pixel column (red channel) and row (green channel) the offset to the centre of its 72-dpi cell -->
<g class="px">
<path fill="rgb(80,0,0)" d="M11 0h1v1667h-1zM24 0h1v1667h-1zM37 0h1v1667h-1zM50 0h1v1667h-1zM63 0h1v1667h-1zM76 0h1v1667h-1zM89 0h1v1667h-1zM102 0h1v1667h-1zM115 0h1v1667h-1zM128 0h1v1667h-1zM141 0h1v1667h-1zM160 0h1v1667h-1zM173 0h1v1667h-1zM186 0h1v1667h-1zM199 0h1v1667h-1zM212 0h1v1667h-1zM225 0h1v1667h-1zM238 0h1v1667h-1zM251 0h1v1667h-1zM264 0h1v1667h-1zM277 0h1v1667h-1zM290 0h1v1667h-1zM303 0h1v1667h-1zM316 0h1v1667h-1zM329 0h1v1667h-1zM342 0h1v1667h-1zM355 0h1v1667h-1zM368 0h1v1667h-1zM381 0h1v1667h-1zM394 0h1v1667h-1zM407 0h1v1667h-1zM420 0h1v1667h-1zM439 0h1v1667h-1zM452 0h1v1667h-1zM465 0h1v1667h-1zM478 0h1v1667h-1zM491 0h1v1667h-1zM504 0h1v1667h-1zM517 0h1v1667h-1zM530 0h1v1667h-1zM543 0h1v1667h-1zM556 0h1v1667h-1zM569 0h1v1667h-1zM582 0h1v1667h-1zM595 0h1v1667h-1zM608 0h1v1667h-1zM621 0h1v1667h-1zM634 0h1v1667h-1zM647 0h1v1667h-1zM660 0h1v1667h-1zM673 0h1v1667h-1zM686 0h1v1667h-1zM699 0h1v1667h-1zM712 0h1v1667h-1zM731 0h1v1667h-1zM744 0h1v1667h-1zM757 0h1v1667h-1zM770 0h1v1667h-1zM783 0h1v1667h-1zM796 0h1v1667h-1zM809 0h1v1667h-1zM822 0h1v1667h-1zM835 0h1v1667h-1zM848 0h1v1667h-1zM861 0h1v1667h-1zM874 0h1v1667h-1zM887 0h1v1667h-1zM900 0h1v1667h-1zM913 0h1v1667h-1zM926 0h1v1667h-1zM939 0h1v1667h-1zM952 0h1v1667h-1zM965 0h1v1667h-1zM978 0h1v1667h-1zM991 0h1v1667h-1zM1010 0h1v1667h-1zM1023 0h1v1667h-1zM1036 0h1v1667h-1zM1049 0h1v1667h-1zM1062 0h1v1667h-1zM1075 0h1v1667h-1zM1088 0h1v1667h-1zM1101 0h1v1667h-1zM1114 0h1v1667h-1zM1127 0h1v1667h-1zM1140 0h1v1667h-1zM1153 0h1v1667h-1zM1166 0h1v1667h-1zM1179 0h1v1667h-1zM1192 0h1v1667h-1zM1205 0h1v1667h-1zM1218 0h1v1667h-1zM1231 0h1v1667h-1zM1244 0h1v1667h-1zM1257 0h1v1667h-1zM1270 0h1v1667h-1zM1289 0h1v1667h-1zM1302 0h1v1667h-1zM1315 0h1v1667h-1zM1328 0h1v1667h-1zM1341 0h1v1667h-1zM1354 0h1v1667h-1zM1367 0h1v1667h-1zM1380 0h1v1667h-1zM1393 0h1v1667h-1zM1406 0h1v1667h-1zM1419 0h1v1667h-1zM1432 0h1v1667h-1zM1445 0h1v1667h-1zM1458 0h1v1667h-1zM1471 0h1v1667h-1zM1484 0h1v1667h-1zM1497 0h1v1667h-1zM1510 0h1v1667h-1zM1523 0h1v1667h-1zM1536 0h1v1667h-1zM1549 0h1v1667h-1zM1568 0h1v1667h-1zM1581 0h1v1667h-1zM1594 0h1v1667h-1zM1607 0h1v1667h-1zM1620 0h1v1667h-1zM1633 0h1v1667h-1zM1646 0h1v1667h-1zM1659 0h1v1667h-1zM1672 0h1v1667h-1zM1685 0h1v1667h-1zM1698 0h1v1667h-1zM1711 0h1v1667h-1zM1724 0h1v1667h-1zM1737 0h1v1667h-1zM1750 0h1v1667h-1zM1763 0h1v1667h-1zM1776 0h1v1667h-1zM1789 0h1v1667h-1zM1802 0h1v1667h-1zM1815 0h1v1667h-1zM1828 0h1v1667h-1zM1841 0h1v1667h-1zM1860 0h1v1667h-1zM1873 0h1v1667h-1zM1886 0h1v1667h-1zM1899 0h1v1667h-1zM1912 0h1v1667h-1zM1925 0h1v1667h-1zM1938 0h1v1667h-1zM1951 0h1v1667h-1zM1964 0h1v1667h-1zM1977 0h1v1667h-1zM1990 0h1v1667h-1zM2003 0h1v1667h-1zM2016 0h1v1667h-1zM2029 0h1v1667h-1zM2042 0h1v1667h-1zM2055 0h1v1667h-1zM2068 0h1v1667h-1zM2081 0h1v1667h-1zM2094 0h1v1667h-1zM2107 0h1v1667h-1zM2120 0h1v1667h-1zM2139 0h1v1667h-1zM2152 0h1v1667h-1zM2165 0h1v1667h-1zM2178 0h1v1667h-1zM2191 0h1v1667h-1zM2204 0h1v1667h-1zM2217 0h1v1667h-1zM2230 0h1v1667h-1zM2243 0h1v1667h-1zM2256 0h1v1667h-1zM2269 0h1v1667h-1zM2282 0h1v1667h-1zM2295 0h1v1667h-1zM2308 0h1v1667h-1zM2321 0h1v1667h-1zM2334 0h1v1667h-1zM2347 0h1v1667h-1zM2360 0h1v1667h-1zM2373 0h1v1667h-1zM2386 0h1v1667h-1zM2399 0h1v1667h-1zM2418 0h1v1667h-1zM2431 0h1v1667h-1zM2444 0h1v1667h-1zM2457 0h1v1667h-1zM2470 0h1v1667h-1zM2483 0h1v1667h-1z"/>
<path fill="rgb(96,0,0)" d="M4 0h1v1667h-1zM10 0h1v1667h-1zM17 0h1v1667h-1zM23 0h1v1667h-1zM30 0h1v1667h-1zM36 0h1v1667h-1zM43 0h1v1667h-1zM49 0h1v1667h-1zM56 0h1v1667h-1zM62 0h1v1667h-1zM69 0h1v1667h-1zM75 0h1v1667h-1zM82 0h1v1667h-1zM88 0h1v1667h-1zM95 0h1v1667h-1zM101 0h1v1667h-1zM108 0h1v1667h-1zM114 0h1v1667h-1zM121 0h1v1667h-1zM127 0h1v1667h-1zM134 0h1v1667h-1zM140 0h1v1667h-1zM147 0h1v1667h-1zM153 0h1v1667h-1zM159 0h1v1667h-1zM166 0h1v1667h-1zM172 0h1v1667h-1zM179 0h1v1667h-1zM185 0h1v1667h-1zM192 0h1v1667h-1zM198 0h1v1667h-1zM205 0h1v1667h-1zM211 0h1v1667h-1zM218 0h1v1667h-1zM224 0h1v1667h-1zM231 0h1v1667h-1zM237 0h1v1667h-1zM244 0h1v1667h-1zM250 0h1v1667h-1zM257 0h1v1667h-1zM263 0h1v1667h-1zM270 0h1v1667h-1zM276 0h1v1667h-1zM283 0h1v1667h-1zM289 0h1v1667h-1zM296 0h1v1667h-1zM302 0h1v1667h-1zM309 0h1v1667h-1zM315 0h1v1667h-1zM322 0h1v1667h-1zM328 0h1v1667h-1zM335 0h1v1667h-1zM341 0h1v1667h-1zM348 0h1v1667h-1zM354 0h1v1667h-1zM361 0h1v1667h-1zM367 0h1v1667h-1zM374 0h1v1667h-1zM380 0h1v1667h-1zM387 0h1v1667h-1zM393 0h1v1667h-1zM400 0h1v1667h-1zM406 0h1v1667h-1zM413 0h1v1667h-1zM419 0h1v1667h-1zM426 0h1v1667h-1zM432 0h1v1667h-1zM438 0h1v1667h-1zM445 0h1v1667h-1zM451 0h1v1667h-1zM458 0h1v1667h-1zM464 0h1v1667h-1zM471 0h1v1667h-1zM477 0h1v1667h-1zM484 0h1v1667h-1zM490 0h1v1667h-1zM497 0h1v1667h-1zM503 0h1v1667h-1zM510 0h1v1667h-1zM516 0h1v1667h-1zM523 0h1v1667h-1zM529 0h1v1667h-1zM536 0h1v1667h-1zM542 0h1v1667h-1zM549 0h1v1667h-1zM555 0h1v1667h-1zM562 0h1v1667h-1zM568 0h1v1667h-1zM575 0h1v1667h-1zM581 0h1v1667h-1zM588 0h1v1667h-1zM594 0h1v1667h-1zM601 0h1v1667h-1zM607 0h1v1667h-1zM614 0h1v1667h-1zM620 0h1v1667h-1zM627 0h1v1667h-1zM633 0h1v1667h-1zM640 0h1v1667h-1zM646 0h1v1667h-1zM653 0h1v1667h-1zM659 0h1v1667h-1zM666 0h1v1667h-1zM672 0h1v1667h-1zM679 0h1v1667h-1zM685 0h1v1667h-1zM692 0h1v1667h-1zM698 0h1v1667h-1zM705 0h1v1667h-1zM711 0h1v1667h-1zM718 0h1v1667h-1zM724 0h1v1667h-1zM730 0h1v1667h-1zM737 0h1v1667h-1zM743 0h1v1667h-1zM750 0h1v1667h-1zM756 0h1v1667h-1zM763 0h1v1667h-1zM769 0h1v1667h-1zM776 0h1v1667h-1zM782 0h1v1667h-1zM789 0h1v1667h-1zM795 0h1v1667h-1zM802 0h1v1667h-1zM808 0h1v1667h-1zM815 0h1v1667h-1zM821 0h1v1667h-1zM828 0h1v1667h-1zM834 0h1v1667h-1zM841 0h1v1667h-1zM847 0h1v1667h-1zM854 0h1v1667h-1zM860 0h1v1667h-1zM867 0h1v1667h-1zM873 0h1v1667h-1zM880 0h1v1667h-1zM886 0h1v1667h-1zM893 0h1v1667h-1zM899 0h1v1667h-1zM906 0h1v1667h-1zM912 0h1v1667h-1zM919 0h1v1667h-1zM925 0h1v1667h-1zM932 0h1v1667h-1zM938 0h1v1667h-1zM945 0h1v1667h-1zM951 0h1v1667h-1zM958 0h1v1667h-1zM964 0h1v1667h-1zM971 0h1v1667h-1zM977 0h1v1667h-1zM984 0h1v1667h-1zM990 0h1v1667h-1zM997 0h1v1667h-1zM1003 0h1v1667h-1zM1009 0h1v1667h-1zM1016 0h1v1667h-1zM1022 0h1v1667h-1zM1029 0h1v1667h-1zM1035 0h1v1667h-1zM1042 0h1v1667h-1zM1048 0h1v1667h-1zM1055 0h1v1667h-1zM1061 0h1v1667h-1zM1068 0h1v1667h-1zM1074 0h1v1667h-1zM1081 0h1v1667h-1zM1087 0h1v1667h-1zM1094 0h1v1667h-1zM1100 0h1v1667h-1zM1107 0h1v1667h-1zM1113 0h1v1667h-1zM1120 0h1v1667h-1zM1126 0h1v1667h-1zM1133 0h1v1667h-1zM1139 0h1v1667h-1zM1146 0h1v1667h-1zM1152 0h1v1667h-1zM1159 0h1v1667h-1zM1165 0h1v1667h-1zM1172 0h1v1667h-1zM1178 0h1v1667h-1zM1185 0h1v1667h-1zM1191 0h1v1667h-1zM1198 0h1v1667h-1zM1204 0h1v1667h-1zM1211 0h1v1667h-1zM1217 0h1v1667h-1zM1224 0h1v1667h-1zM1230 0h1v1667h-1zM1237 0h1v1667h-1zM1243 0h1v1667h-1zM1250 0h1v1667h-1zM1256 0h1v1667h-1zM1263 0h1v1667h-1zM1269 0h1v1667h-1zM1276 0h1v1667h-1zM1282 0h1v1667h-1zM1288 0h1v1667h-1zM1295 0h1v1667h-1zM1301 0h1v1667h-1zM1308 0h1v1667h-1zM1314 0h1v1667h-1zM1321 0h1v1667h-1zM1327 0h1v1667h-1zM1334 0h1v1667h-1zM1340 0h1v1667h-1zM1347 0h1v1667h-1zM1353 0h1v1667h-1zM1360 0h1v1667h-1zM1366 0h1v1667h-1zM1373 0h1v1667h-1zM1379 0h1v1667h-1zM1386 0h1v1667h-1zM1392 0h1v1667h-1zM1399 0h1v1667h-1zM1405 0h1v1667h-1zM1412 0h1v1667h-1zM1418 0h1v1667h-1zM1425 0h1v1667h-1zM1431 0h1v1667h-1zM1438 0h1v1667h-1zM1444 0h1v1667h-1zM1451 0h1v1667h-1zM1457 0h1v1667h-1zM1464 0h1v1667h-1zM1470 0h1v1667h-1zM1477 0h1v1667h-1zM1483 0h1v1667h-1zM1490 0h1v1667h-1zM1496 0h1v1667h-1zM1503 0h1v1667h-1zM1509 0h1v1667h-1zM1516 0h1v1667h-1zM1522 0h1v1667h-1zM1529 0h1v1667h-1zM1535 0h1v1667h-1zM1542 0h1v1667h-1zM1548 0h1v1667h-1zM1555 0h1v1667h-1zM1561 0h1v1667h-1zM1567 0h1v1667h-1zM1574 0h1v1667h-1zM1580 0h1v1667h-1zM1587 0h1v1667h-1zM1593 0h1v1667h-1zM1600 0h1v1667h-1zM1606 0h1v1667h-1zM1613 0h1v1667h-1zM1619 0h1v1667h-1zM1626 0h1v1667h-1zM1632 0h1v1667h-1zM1639 0h1v1667h-1zM1645 0h1v1667h-1zM1652 0h1v1667h-1zM1658 0h1v1667h-1zM1665 0h1v1667h-1zM1671 0h1v1667h-1zM1678 0h1v1667h-1zM1684 0h1v1667h-1zM1691 0h1v1667h-1zM1697 0h1v1667h-1zM1704 0h1v1667h-1zM1710 0h1v1667h-1zM1717 0h1v1667h-1zM1723 0h1v1667h-1zM1730 0h1v1667h-1zM1736 0h1v1667h-1zM1743 0h1v1667h-1zM1749 0h1v1667h-1zM1756 0h1v1667h-1zM1762 0h1v1667h-1zM1769 0h1v1667h-1zM1775 0h1v1667h-1zM1782 0h1v1667h-1zM1788 0h1v1667h-1zM1795 0h1v1667h-1zM1801 0h1v1667h-1zM1808 0h1v1667h-1zM1814 0h1v1667h-1zM1821 0h1v1667h-1zM1827 0h1v1667h-1zM1834 0h1v1667h-1zM1840 0h1v1667h-1zM1847 0h1v1667h-1zM1853 0h1v1667h-1zM1859 0h1v1667h-1zM1866 0h1v1667h-1zM1872 0h1v1667h-1zM1879 0h1v1667h-1zM1885 0h1v1667h-1zM1892 0h1v1667h-1zM1898 0h1v1667h-1zM1905 0h1v1667h-1zM1911 0h1v1667h-1zM1918 0h1v1667h-1zM1924 0h1v1667h-1zM1931 0h1v1667h-1zM1937 0h1v1667h-1zM1944 0h1v1667h-1zM1950 0h1v1667h-1zM1957 0h1v1667h-1zM1963 0h1v1667h-1zM1970 0h1v1667h-1zM1976 0h1v1667h-1zM1983 0h1v1667h-1zM1989 0h1v1667h-1zM1996 0h1v1667h-1zM2002 0h1v1667h-1zM2009 0h1v1667h-1zM2015 0h1v1667h-1zM2022 0h1v1667h-1zM2028 0h1v1667h-1zM2035 0h1v1667h-1zM2041 0h1v1667h-1zM2048 0h1v1667h-1zM2054 0h1v1667h-1zM2061 0h1v1667h-1zM2067 0h1v1667h-1zM2074 0h1v1667h-1zM2080 0h1v1667h-1zM2087 0h1v1667h-1zM2093 0h1v1667h-1zM2100 0h1v1667h-1zM2106 0h1v1667h-1zM2113 0h1v1667h-1zM2119 0h1v1667h-1zM2126 0h1v1667h-1zM2132 0h1v1667h-1zM2138 0h1v1667h-1zM2145 0h1v1667h-1zM2151 0h1v1667h-1zM2158 0h1v1667h-1zM2164 0h1v1667h-1zM2171 0h1v1667h-1zM2177 0h1v1667h-1zM2184 0h1v1667h-1zM2190 0h1v1667h-1zM2197 0h1v1667h-1zM2203 0h1v1667h-1zM2210 0h1v1667h-1zM2216 0h1v1667h-1zM2223 0h1v1667h-1zM2229 0h1v1667h-1zM2236 0h1v1667h-1zM2242 0h1v1667h-1zM2249 0h1v1667h-1zM2255 0h1v1667h-1zM2262 0h1v1667h-1zM2268 0h1v1667h-1zM2275 0h1v1667h-1zM2281 0h1v1667h-1zM2288 0h1v1667h-1zM2294 0h1v1667h-1zM2301 0h1v1667h-1zM2307 0h1v1667h-1zM2314 0h1v1667h-1zM2320 0h1v1667h-1zM2327 0h1v1667h-1zM2333 0h1v1667h-1zM2340 0h1v1667h-1zM2346 0h1v1667h-1zM2353 0h1v1667h-1zM2359 0h1v1667h-1zM2366 0h1v1667h-1zM2372 0h1v1667h-1zM2379 0h1v1667h-1zM2385 0h1v1667h-1zM2392 0h1v1667h-1zM2398 0h1v1667h-1zM2405 0h1v1667h-1zM2411 0h1v1667h-1zM2417 0h1v1667h-1zM2424 0h1v1667h-1zM2430 0h1v1667h-1zM2437 0h1v1667h-1zM2443 0h1v1667h-1zM2450 0h1v1667h-1zM2456 0h1v1667h-1zM2463 0h1v1667h-1zM2469 0h1v1667h-1zM2476 0h1v1667h-1zM2482 0h1v1667h-1z"/>
<path fill="rgb(112,0,0)" d="M3 0h1v1667h-1zM9 0h1v1667h-1zM16 0h1v1667h-1zM22 0h1v1667h-1zM29 0h1v1667h-1zM35 0h1v1667h-1zM42 0h1v1667h-1zM48 0h1v1667h-1zM55 0h1v1667h-1zM61 0h1v1667h-1zM68 0h1v1667h-1zM74 0h1v1667h-1zM81 0h1v1667h-1zM87 0h1v1667h-1zM94 0h1v1667h-1zM100 0h1v1667h-1zM107 0h1v1667h-1zM113 0h1v1667h-1zM120 0h1v1667h-1zM126 0h1v1667h-1zM133 0h1v1667h-1zM139 0h1v1667h-1zM146 0h1v1667h-1zM152 0h1v1667h-1zM158 0h1v1667h-1zM165 0h1v1667h-1zM171 0h1v1667h-1zM178 0h1v1667h-1zM184 0h1v1667h-1zM191 0h1v1667h-1zM197 0h1v1667h-1zM204 0h1v1667h-1zM210 0h1v1667h-1zM217 0h1v1667h-1zM223 0h1v1667h-1zM230 0h1v1667h-1zM236 0h1v1667h-1zM243 0h1v1667h-1zM249 0h1v1667h-1zM256 0h1v1667h-1zM262 0h1v1667h-1zM269 0h1v1667h-1zM275 0h1v1667h-1zM282 0h1v1667h-1zM288 0h1v1667h-1zM295 0h1v1667h-1zM301 0h1v1667h-1zM308 0h1v1667h-1zM314 0h1v1667h-1zM321 0h1v1667h-1zM327 0h1v1667h-1zM334 0h1v1667h-1zM340 0h1v1667h-1zM347 0h1v1667h-1zM353 0h1v1667h-1zM360 0h1v1667h-1zM366 0h1v1667h-1zM373 0h1v1667h-1zM379 0h1v1667h-1zM386 0h1v1667h-1zM392 0h1v1667h-1zM399 0h1v1667h-1zM405 0h1v1667h-1zM412 0h1v1667h-1zM418 0h1v1667h-1zM425 0h1v1667h-1zM431 0h1v1667h-1zM437 0h1v1667h-1zM444 0h1v1667h-1zM450 0h1v1667h-1zM457 0h1v1667h-1zM463 0h1v1667h-1zM470 0h1v1667h-1zM476 0h1v1667h-1zM483 0h1v1667h-1zM489 0h1v1667h-1zM496 0h1v1667h-1zM502 0h1v1667h-1zM509 0h1v1667h-1zM515 0h1v1667h-1zM522 0h1v1667h-1zM528 0h1v1667h-1zM535 0h1v1667h-1zM541 0h1v1667h-1zM548 0h1v1667h-1zM554 0h1v1667h-1zM561 0h1v1667h-1zM567 0h1v1667h-1zM574 0h1v1667h-1zM580 0h1v1667h-1zM587 0h1v1667h-1zM593 0h1v1667h-1zM600 0h1v1667h-1zM606 0h1v1667h-1zM613 0h1v1667h-1zM619 0h1v1667h-1zM626 0h1v1667h-1zM632 0h1v1667h-1zM639 0h1v1667h-1zM645 0h1v1667h-1zM652 0h1v1667h-1zM658 0h1v1667h-1zM665 0h1v1667h-1zM671 0h1v1667h-1zM678 0h1v1667h-1zM684 0h1v1667h-1zM691 0h1v1667h-1zM697 0h1v1667h-1zM704 0h1v1667h-1zM710 0h1v1667h-1zM717 0h1v1667h-1zM723 0h1v1667h-1zM729 0h1v1667h-1zM736 0h1v1667h-1zM742 0h1v1667h-1zM749 0h1v1667h-1zM755 0h1v1667h-1zM762 0h1v1667h-1zM768 0h1v1667h-1zM775 0h1v1667h-1zM781 0h1v1667h-1zM788 0h1v1667h-1zM794 0h1v1667h-1zM801 0h1v1667h-1zM807 0h1v1667h-1zM814 0h1v1667h-1zM820 0h1v1667h-1zM827 0h1v1667h-1zM833 0h1v1667h-1zM840 0h1v1667h-1zM846 0h1v1667h-1zM853 0h1v1667h-1zM859 0h1v1667h-1zM866 0h1v1667h-1zM872 0h1v1667h-1zM879 0h1v1667h-1zM885 0h1v1667h-1zM892 0h1v1667h-1zM898 0h1v1667h-1zM905 0h1v1667h-1zM911 0h1v1667h-1zM918 0h1v1667h-1zM924 0h1v1667h-1zM931 0h1v1667h-1zM937 0h1v1667h-1zM944 0h1v1667h-1zM950 0h1v1667h-1zM957 0h1v1667h-1zM963 0h1v1667h-1zM970 0h1v1667h-1zM976 0h1v1667h-1zM983 0h1v1667h-1zM989 0h1v1667h-1zM996 0h1v1667h-1zM1002 0h1v1667h-1zM1008 0h1v1667h-1zM1015 0h1v1667h-1zM1021 0h1v1667h-1zM1028 0h1v1667h-1zM1034 0h1v1667h-1zM1041 0h1v1667h-1zM1047 0h1v1667h-1zM1054 0h1v1667h-1zM1060 0h1v1667h-1zM1067 0h1v1667h-1zM1073 0h1v1667h-1zM1080 0h1v1667h-1zM1086 0h1v1667h-1zM1093 0h1v1667h-1zM1099 0h1v1667h-1zM1106 0h1v1667h-1zM1112 0h1v1667h-1zM1119 0h1v1667h-1zM1125 0h1v1667h-1zM1132 0h1v1667h-1zM1138 0h1v1667h-1zM1145 0h1v1667h-1zM1151 0h1v1667h-1zM1158 0h1v1667h-1zM1164 0h1v1667h-1zM1171 0h1v1667h-1zM1177 0h1v1667h-1zM1184 0h1v1667h-1zM1190 0h1v1667h-1zM1197 0h1v1667h-1zM1203 0h1v1667h-1zM1210 0h1v1667h-1zM1216 0h1v1667h-1zM1223 0h1v1667h-1zM1229 0h1v1667h-1zM1236 0h1v1667h-1zM1242 0h1v1667h-1zM1249 0h1v1667h-1zM1255 0h1v1667h-1zM1262 0h1v1667h-1zM1268 0h1v1667h-1zM1275 0h1v1667h-1zM1281 0h1v1667h-1zM1287 0h1v1667h-1zM1294 0h1v1667h-1zM1300 0h1v1667h-1zM1307 0h1v1667h-1zM1313 0h1v1667h-1zM1320 0h1v1667h-1zM1326 0h1v1667h-1zM1333 0h1v1667h-1zM1339 0h1v1667h-1zM1346 0h1v1667h-1zM1352 0h1v1667h-1zM1359 0h1v1667h-1zM1365 0h1v1667h-1zM1372 0h1v1667h-1zM1378 0h1v1667h-1zM1385 0h1v1667h-1zM1391 0h1v1667h-1zM1398 0h1v1667h-1zM1404 0h1v1667h-1zM1411 0h1v1667h-1zM1417 0h1v1667h-1zM1424 0h1v1667h-1zM1430 0h1v1667h-1zM1437 0h1v1667h-1zM1443 0h1v1667h-1zM1450 0h1v1667h-1zM1456 0h1v1667h-1zM1463 0h1v1667h-1zM1469 0h1v1667h-1zM1476 0h1v1667h-1zM1482 0h1v1667h-1zM1489 0h1v1667h-1zM1495 0h1v1667h-1zM1502 0h1v1667h-1zM1508 0h1v1667h-1zM1515 0h1v1667h-1zM1521 0h1v1667h-1zM1528 0h1v1667h-1zM1534 0h1v1667h-1zM1541 0h1v1667h-1zM1547 0h1v1667h-1zM1554 0h1v1667h-1zM1560 0h1v1667h-1zM1566 0h1v1667h-1zM1573 0h1v1667h-1zM1579 0h1v1667h-1zM1586 0h1v1667h-1zM1592 0h1v1667h-1zM1599 0h1v1667h-1zM1605 0h1v1667h-1zM1612 0h1v1667h-1zM1618 0h1v1667h-1zM1625 0h1v1667h-1zM1631 0h1v1667h-1zM1638 0h1v1667h-1zM1644 0h1v1667h-1zM1651 0h1v1667h-1zM1657 0h1v1667h-1zM1664 0h1v1667h-1zM1670 0h1v1667h-1zM1677 0h1v1667h-1zM1683 0h1v1667h-1zM1690 0h1v1667h-1zM1696 0h1v1667h-1zM1703 0h1v1667h-1zM1709 0h1v1667h-1zM1716 0h1v1667h-1zM1722 0h1v1667h-1zM1729 0h1v1667h-1zM1735 0h1v1667h-1zM1742 0h1v1667h-1zM1748 0h1v1667h-1zM1755 0h1v1667h-1zM1761 0h1v1667h-1zM1768 0h1v1667h-1zM1774 0h1v1667h-1zM1781 0h1v1667h-1zM1787 0h1v1667h-1zM1794 0h1v1667h-1zM1800 0h1v1667h-1zM1807 0h1v1667h-1zM1813 0h1v1667h-1zM1820 0h1v1667h-1zM1826 0h1v1667h-1zM1833 0h1v1667h-1zM1839 0h1v1667h-1zM1846 0h1v1667h-1zM1852 0h1v1667h-1zM1858 0h1v1667h-1zM1865 0h1v1667h-1zM1871 0h1v1667h-1zM1878 0h1v1667h-1zM1884 0h1v1667h-1zM1891 0h1v1667h-1zM1897 0h1v1667h-1zM1904 0h1v1667h-1zM1910 0h1v1667h-1zM1917 0h1v1667h-1zM1923 0h1v1667h-1zM1930 0h1v1667h-1zM1936 0h1v1667h-1zM1943 0h1v1667h-1zM1949 0h1v1667h-1zM1956 0h1v1667h-1zM1962 0h1v1667h-1zM1969 0h1v1667h-1zM1975 0h1v1667h-1zM1982 0h1v1667h-1zM1988 0h1v1667h-1zM1995 0h1v1667h-1zM2001 0h1v1667h-1zM2008 0h1v1667h-1zM2014 0h1v1667h-1zM2021 0h1v1667h-1zM2027 0h1v1667h-1zM2034 0h1v1667h-1zM2040 0h1v1667h-1zM2047 0h1v1667h-1zM2053 0h1v1667h-1zM2060 0h1v1667h-1zM2066 0h1v1667h-1zM2073 0h1v1667h-1zM2079 0h1v1667h-1zM2086 0h1v1667h-1zM2092 0h1v1667h-1zM2099 0h1v1667h-1zM2105 0h1v1667h-1zM2112 0h1v1667h-1zM2118 0h1v1667h-1zM2125 0h1v1667h-1zM2131 0h1v1667h-1zM2137 0h1v1667h-1zM2144 0h1v1667h-1zM2150 0h1v1667h-1zM2157 0h1v1667h-1zM2163 0h1v1667h-1zM2170 0h1v1667h-1zM2176 0h1v1667h-1zM2183 0h1v1667h-1zM2189 0h1v1667h-1zM2196 0h1v1667h-1zM2202 0h1v1667h-1zM2209 0h1v1667h-1zM2215 0h1v1667h-1zM2222 0h1v1667h-1zM2228 0h1v1667h-1zM2235 0h1v1667h-1zM2241 0h1v1667h-1zM2248 0h1v1667h-1zM2254 0h1v1667h-1zM2261 0h1v1667h-1zM2267 0h1v1667h-1zM2274 0h1v1667h-1zM2280 0h1v1667h-1zM2287 0h1v1667h-1zM2293 0h1v1667h-1zM2300 0h1v1667h-1zM2306 0h1v1667h-1zM2313 0h1v1667h-1zM2319 0h1v1667h-1zM2326 0h1v1667h-1zM2332 0h1v1667h-1zM2339 0h1v1667h-1zM2345 0h1v1667h-1zM2352 0h1v1667h-1zM2358 0h1v1667h-1zM2365 0h1v1667h-1zM2371 0h1v1667h-1zM2378 0h1v1667h-1zM2384 0h1v1667h-1zM2391 0h1v1667h-1zM2397 0h1v1667h-1zM2404 0h1v1667h-1zM2410 0h1v1667h-1zM2416 0h1v1667h-1zM2423 0h1v1667h-1zM2429 0h1v1667h-1zM2436 0h1v1667h-1zM2442 0h1v1667h-1zM2449 0h1v1667h-1zM2455 0h1v1667h-1zM2462 0h1v1667h-1zM2468 0h1v1667h-1zM2475 0h1v1667h-1zM2481 0h1v1667h-1z"/>
<path fill="rgb(128,0,0)" d="M2 0h1v1667h-1zM8 0h1v1667h-1zM15 0h1v1667h-1zM21 0h1v1667h-1zM28 0h1v1667h-1zM34 0h1v1667h-1zM41 0h1v1667h-1zM47 0h1v1667h-1zM54 0h1v1667h-1zM60 0h1v1667h-1zM67 0h1v1667h-1zM73 0h1v1667h-1zM80 0h1v1667h-1zM86 0h1v1667h-1zM93 0h1v1667h-1zM99 0h1v1667h-1zM106 0h1v1667h-1zM112 0h1v1667h-1zM119 0h1v1667h-1zM125 0h1v1667h-1zM132 0h1v1667h-1zM138 0h1v1667h-1zM145 0h1v1667h-1zM151 0h1v1667h-1zM157 0h1v1667h-1zM164 0h1v1667h-1zM170 0h1v1667h-1zM177 0h1v1667h-1zM183 0h1v1667h-1zM190 0h1v1667h-1zM196 0h1v1667h-1zM203 0h1v1667h-1zM209 0h1v1667h-1zM216 0h1v1667h-1zM222 0h1v1667h-1zM229 0h1v1667h-1zM235 0h1v1667h-1zM242 0h1v1667h-1zM248 0h1v1667h-1zM255 0h1v1667h-1zM261 0h1v1667h-1zM268 0h1v1667h-1zM274 0h1v1667h-1zM281 0h1v1667h-1zM287 0h1v1667h-1zM294 0h1v1667h-1zM300 0h1v1667h-1zM307 0h1v1667h-1zM313 0h1v1667h-1zM320 0h1v1667h-1zM326 0h1v1667h-1zM333 0h1v1667h-1zM339 0h1v1667h-1zM346 0h1v1667h-1zM352 0h1v1667h-1zM359 0h1v1667h-1zM365 0h1v1667h-1zM372 0h1v1667h-1zM378 0h1v1667h-1zM385 0h1v1667h-1zM391 0h1v1667h-1zM398 0h1v1667h-1zM404 0h1v1667h-1zM411 0h1v1667h-1zM417 0h1v1667h-1zM424 0h1v1667h-1zM430 0h1v1667h-1zM436 0h1v1667h-1zM443 0h1v1667h-1zM449 0h1v1667h-1zM456 0h1v1667h-1zM462 0h1v1667h-1zM469 0h1v1667h-1zM475 0h1v1667h-1zM482 0h1v1667h-1zM488 0h1v1667h-1zM495 0h1v1667h-1zM501 0h1v1667h-1zM508 0h1v1667h-1zM514 0h1v1667h-1zM521 0h1v1667h-1zM527 0h1v1667h-1zM534 0h1v1667h-1zM540 0h1v1667h-1zM547 0h1v1667h-1zM553 0h1v1667h-1zM560 0h1v1667h-1zM566 0h1v1667h-1zM573 0h1v1667h-1zM579 0h1v1667h-1zM586 0h1v1667h-1zM592 0h1v1667h-1zM599 0h1v1667h-1zM605 0h1v1667h-1zM612 0h1v1667h-1zM618 0h1v1667h-1zM625 0h1v1667h-1zM631 0h1v1667h-1zM638 0h1v1667h-1zM644 0h1v1667h-1zM651 0h1v1667h-1zM657 0h1v1667h-1zM664 0h1v1667h-1zM670 0h1v1667h-1zM677 0h1v1667h-1zM683 0h1v1667h-1zM690 0h1v1667h-1zM696 0h1v1667h-1zM703 0h1v1667h-1zM709 0h1v1667h-1zM716 0h1v1667h-1zM722 0h1v1667h-1zM728 0h1v1667h-1zM735 0h1v1667h-1zM741 0h1v1667h-1zM748 0h1v1667h-1zM754 0h1v1667h-1zM761 0h1v1667h-1zM767 0h1v1667h-1zM774 0h1v1667h-1zM780 0h1v1667h-1zM787 0h1v1667h-1zM793 0h1v1667h-1zM800 0h1v1667h-1zM806 0h1v1667h-1zM813 0h1v1667h-1zM819 0h1v1667h-1zM826 0h1v1667h-1zM832 0h1v1667h-1zM839 0h1v1667h-1zM845 0h1v1667h-1zM852 0h1v1667h-1zM858 0h1v1667h-1zM865 0h1v1667h-1zM871 0h1v1667h-1zM878 0h1v1667h-1zM884 0h1v1667h-1zM891 0h1v1667h-1zM897 0h1v1667h-1zM904 0h1v1667h-1zM910 0h1v1667h-1zM917 0h1v1667h-1zM923 0h1v1667h-1zM930 0h1v1667h-1zM936 0h1v1667h-1zM943 0h1v1667h-1zM949 0h1v1667h-1zM956 0h1v1667h-1zM962 0h1v1667h-1zM969 0h1v1667h-1zM975 0h1v1667h-1zM982 0h1v1667h-1zM988 0h1v1667h-1zM995 0h1v1667h-1zM1001 0h1v1667h-1zM1007 0h1v1667h-1zM1014 0h1v1667h-1zM1020 0h1v1667h-1zM1027 0h1v1667h-1zM1033 0h1v1667h-1zM1040 0h1v1667h-1zM1046 0h1v1667h-1zM1053 0h1v1667h-1zM1059 0h1v1667h-1zM1066 0h1v1667h-1zM1072 0h1v1667h-1zM1079 0h1v1667h-1zM1085 0h1v1667h-1zM1092 0h1v1667h-1zM1098 0h1v1667h-1zM1105 0h1v1667h-1zM1111 0h1v1667h-1zM1118 0h1v1667h-1zM1124 0h1v1667h-1zM1131 0h1v1667h-1zM1137 0h1v1667h-1zM1144 0h1v1667h-1zM1150 0h1v1667h-1zM1157 0h1v1667h-1zM1163 0h1v1667h-1zM1170 0h1v1667h-1zM1176 0h1v1667h-1zM1183 0h1v1667h-1zM1189 0h1v1667h-1zM1196 0h1v1667h-1zM1202 0h1v1667h-1zM1209 0h1v1667h-1zM1215 0h1v1667h-1zM1222 0h1v1667h-1zM1228 0h1v1667h-1zM1235 0h1v1667h-1zM1241 0h1v1667h-1zM1248 0h1v1667h-1zM1254 0h1v1667h-1zM1261 0h1v1667h-1zM1267 0h1v1667h-1zM1274 0h1v1667h-1zM1280 0h1v1667h-1zM1286 0h1v1667h-1zM1293 0h1v1667h-1zM1299 0h1v1667h-1zM1306 0h1v1667h-1zM1312 0h1v1667h-1zM1319 0h1v1667h-1zM1325 0h1v1667h-1zM1332 0h1v1667h-1zM1338 0h1v1667h-1zM1345 0h1v1667h-1zM1351 0h1v1667h-1zM1358 0h1v1667h-1zM1364 0h1v1667h-1zM1371 0h1v1667h-1zM1377 0h1v1667h-1zM1384 0h1v1667h-1zM1390 0h1v1667h-1zM1397 0h1v1667h-1zM1403 0h1v1667h-1zM1410 0h1v1667h-1zM1416 0h1v1667h-1zM1423 0h1v1667h-1zM1429 0h1v1667h-1zM1436 0h1v1667h-1zM1442 0h1v1667h-1zM1449 0h1v1667h-1zM1455 0h1v1667h-1zM1462 0h1v1667h-1zM1468 0h1v1667h-1zM1475 0h1v1667h-1zM1481 0h1v1667h-1zM1488 0h1v1667h-1zM1494 0h1v1667h-1zM1501 0h1v1667h-1zM1507 0h1v1667h-1zM1514 0h1v1667h-1zM1520 0h1v1667h-1zM1527 0h1v1667h-1zM1533 0h1v1667h-1zM1540 0h1v1667h-1zM1546 0h1v1667h-1zM1553 0h1v1667h-1zM1559 0h1v1667h-1zM1565 0h1v1667h-1zM1572 0h1v1667h-1zM1578 0h1v1667h-1zM1585 0h1v1667h-1zM1591 0h1v1667h-1zM1598 0h1v1667h-1zM1604 0h1v1667h-1zM1611 0h1v1667h-1zM1617 0h1v1667h-1zM1624 0h1v1667h-1zM1630 0h1v1667h-1zM1637 0h1v1667h-1zM1643 0h1v1667h-1zM1650 0h1v1667h-1zM1656 0h1v1667h-1zM1663 0h1v1667h-1zM1669 0h1v1667h-1zM1676 0h1v1667h-1zM1682 0h1v1667h-1zM1689 0h1v1667h-1zM1695 0h1v1667h-1zM1702 0h1v1667h-1zM1708 0h1v1667h-1zM1715 0h1v1667h-1zM1721 0h1v1667h-1zM1728 0h1v1667h-1zM1734 0h1v1667h-1zM1741 0h1v1667h-1zM1747 0h1v1667h-1zM1754 0h1v1667h-1zM1760 0h1v1667h-1zM1767 0h1v1667h-1zM1773 0h1v1667h-1zM1780 0h1v1667h-1zM1786 0h1v1667h-1zM1793 0h1v1667h-1zM1799 0h1v1667h-1zM1806 0h1v1667h-1zM1812 0h1v1667h-1zM1819 0h1v1667h-1zM1825 0h1v1667h-1zM1832 0h1v1667h-1zM1838 0h1v1667h-1zM1845 0h1v1667h-1zM1851 0h1v1667h-1zM1857 0h1v1667h-1zM1864 0h1v1667h-1zM1870 0h1v1667h-1zM1877 0h1v1667h-1zM1883 0h1v1667h-1zM1890 0h1v1667h-1zM1896 0h1v1667h-1zM1903 0h1v1667h-1zM1909 0h1v1667h-1zM1916 0h1v1667h-1zM1922 0h1v1667h-1zM1929 0h1v1667h-1zM1935 0h1v1667h-1zM1942 0h1v1667h-1zM1948 0h1v1667h-1zM1955 0h1v1667h-1zM1961 0h1v1667h-1zM1968 0h1v1667h-1zM1974 0h1v1667h-1zM1981 0h1v1667h-1zM1987 0h1v1667h-1zM1994 0h1v1667h-1zM2000 0h1v1667h-1zM2007 0h1v1667h-1zM2013 0h1v1667h-1zM2020 0h1v1667h-1zM2026 0h1v1667h-1zM2033 0h1v1667h-1zM2039 0h1v1667h-1zM2046 0h1v1667h-1zM2052 0h1v1667h-1zM2059 0h1v1667h-1zM2065 0h1v1667h-1zM2072 0h1v1667h-1zM2078 0h1v1667h-1zM2085 0h1v1667h-1zM2091 0h1v1667h-1zM2098 0h1v1667h-1zM2104 0h1v1667h-1zM2111 0h1v1667h-1zM2117 0h1v1667h-1zM2124 0h1v1667h-1zM2130 0h1v1667h-1zM2136 0h1v1667h-1zM2143 0h1v1667h-1zM2149 0h1v1667h-1zM2156 0h1v1667h-1zM2162 0h1v1667h-1zM2169 0h1v1667h-1zM2175 0h1v1667h-1zM2182 0h1v1667h-1zM2188 0h1v1667h-1zM2195 0h1v1667h-1zM2201 0h1v1667h-1zM2208 0h1v1667h-1zM2214 0h1v1667h-1zM2221 0h1v1667h-1zM2227 0h1v1667h-1zM2234 0h1v1667h-1zM2240 0h1v1667h-1zM2247 0h1v1667h-1zM2253 0h1v1667h-1zM2260 0h1v1667h-1zM2266 0h1v1667h-1zM2273 0h1v1667h-1zM2279 0h1v1667h-1zM2286 0h1v1667h-1zM2292 0h1v1667h-1zM2299 0h1v1667h-1zM2305 0h1v1667h-1zM2312 0h1v1667h-1zM2318 0h1v1667h-1zM2325 0h1v1667h-1zM2331 0h1v1667h-1zM2338 0h1v1667h-1zM2344 0h1v1667h-1zM2351 0h1v1667h-1zM2357 0h1v1667h-1zM2364 0h1v1667h-1zM2370 0h1v1667h-1zM2377 0h1v1667h-1zM2383 0h1v1667h-1zM2390 0h1v1667h-1zM2396 0h1v1667h-1zM2403 0h1v1667h-1zM2409 0h1v1667h-1zM2415 0h1v1667h-1zM2422 0h1v1667h-1zM2428 0h1v1667h-1zM2435 0h1v1667h-1zM2441 0h1v1667h-1zM2448 0h1v1667h-1zM2454 0h1v1667h-1zM2461 0h1v1667h-1zM2467 0h1v1667h-1zM2474 0h1v1667h-1zM2480 0h1v1667h-1z"/>
<path fill="rgb(143,0,0)" d="M1 0h1v1667h-1zM7 0h1v1667h-1zM14 0h1v1667h-1zM20 0h1v1667h-1zM27 0h1v1667h-1zM33 0h1v1667h-1zM40 0h1v1667h-1zM46 0h1v1667h-1zM53 0h1v1667h-1zM59 0h1v1667h-1zM66 0h1v1667h-1zM72 0h1v1667h-1zM79 0h1v1667h-1zM85 0h1v1667h-1zM92 0h1v1667h-1zM98 0h1v1667h-1zM105 0h1v1667h-1zM111 0h1v1667h-1zM118 0h1v1667h-1zM124 0h1v1667h-1zM131 0h1v1667h-1zM137 0h1v1667h-1zM144 0h1v1667h-1zM150 0h1v1667h-1zM156 0h1v1667h-1zM163 0h1v1667h-1zM169 0h1v1667h-1zM176 0h1v1667h-1zM182 0h1v1667h-1zM189 0h1v1667h-1zM195 0h1v1667h-1zM202 0h1v1667h-1zM208 0h1v1667h-1zM215 0h1v1667h-1zM221 0h1v1667h-1zM228 0h1v1667h-1zM234 0h1v1667h-1zM241 0h1v1667h-1zM247 0h1v1667h-1zM254 0h1v1667h-1zM260 0h1v1667h-1zM267 0h1v1667h-1zM273 0h1v1667h-1zM280 0h1v1667h-1zM286 0h1v1667h-1zM293 0h1v1667h-1zM299 0h1v1667h-1zM306 0h1v1667h-1zM312 0h1v1667h-1zM319 0h1v1667h-1zM325 0h1v1667h-1zM332 0h1v1667h-1zM338 0h1v1667h-1zM345 0h1v1667h-1zM351 0h1v1667h-1zM358 0h1v1667h-1zM364 0h1v1667h-1zM371 0h1v1667h-1zM377 0h1v1667h-1zM384 0h1v1667h-1zM390 0h1v1667h-1zM397 0h1v1667h-1zM403 0h1v1667h-1zM410 0h1v1667h-1zM416 0h1v1667h-1zM423 0h1v1667h-1zM429 0h1v1667h-1zM435 0h1v1667h-1zM442 0h1v1667h-1zM448 0h1v1667h-1zM455 0h1v1667h-1zM461 0h1v1667h-1zM468 0h1v1667h-1zM474 0h1v1667h-1zM481 0h1v1667h-1zM487 0h1v1667h-1zM494 0h1v1667h-1zM500 0h1v1667h-1zM507 0h1v1667h-1zM513 0h1v1667h-1zM520 0h1v1667h-1zM526 0h1v1667h-1zM533 0h1v1667h-1zM539 0h1v1667h-1zM546 0h1v1667h-1zM552 0h1v1667h-1zM559 0h1v1667h-1zM565 0h1v1667h-1zM572 0h1v1667h-1zM578 0h1v1667h-1zM585 0h1v1667h-1zM591 0h1v1667h-1zM598 0h1v1667h-1zM604 0h1v1667h-1zM611 0h1v1667h-1zM617 0h1v1667h-1zM624 0h1v1667h-1zM630 0h1v1667h-1zM637 0h1v1667h-1zM643 0h1v1667h-1zM650 0h1v1667h-1zM656 0h1v1667h-1zM663 0h1v1667h-1zM669 0h1v1667h-1zM676 0h1v1667h-1zM682 0h1v1667h-1zM689 0h1v1667h-1zM695 0h1v1667h-1zM702 0h1v1667h-1zM708 0h1v1667h-1zM715 0h1v1667h-1zM721 0h1v1667h-1zM727 0h1v1667h-1zM734 0h1v1667h-1zM740 0h1v1667h-1zM747 0h1v1667h-1zM753 0h1v1667h-1zM760 0h1v1667h-1zM766 0h1v1667h-1zM773 0h1v1667h-1zM779 0h1v1667h-1zM786 0h1v1667h-1zM792 0h1v1667h-1zM799 0h1v1667h-1zM805 0h1v1667h-1zM812 0h1v1667h-1zM818 0h1v1667h-1zM825 0h1v1667h-1zM831 0h1v1667h-1zM838 0h1v1667h-1zM844 0h1v1667h-1zM851 0h1v1667h-1zM857 0h1v1667h-1zM864 0h1v1667h-1zM870 0h1v1667h-1zM877 0h1v1667h-1zM883 0h1v1667h-1zM890 0h1v1667h-1zM896 0h1v1667h-1zM903 0h1v1667h-1zM909 0h1v1667h-1zM916 0h1v1667h-1zM922 0h1v1667h-1zM929 0h1v1667h-1zM935 0h1v1667h-1zM942 0h1v1667h-1zM948 0h1v1667h-1zM955 0h1v1667h-1zM961 0h1v1667h-1zM968 0h1v1667h-1zM974 0h1v1667h-1zM981 0h1v1667h-1zM987 0h1v1667h-1zM994 0h1v1667h-1zM1000 0h1v1667h-1zM1006 0h1v1667h-1zM1013 0h1v1667h-1zM1019 0h1v1667h-1zM1026 0h1v1667h-1zM1032 0h1v1667h-1zM1039 0h1v1667h-1zM1045 0h1v1667h-1zM1052 0h1v1667h-1zM1058 0h1v1667h-1zM1065 0h1v1667h-1zM1071 0h1v1667h-1zM1078 0h1v1667h-1zM1084 0h1v1667h-1zM1091 0h1v1667h-1zM1097 0h1v1667h-1zM1104 0h1v1667h-1zM1110 0h1v1667h-1zM1117 0h1v1667h-1zM1123 0h1v1667h-1zM1130 0h1v1667h-1zM1136 0h1v1667h-1zM1143 0h1v1667h-1zM1149 0h1v1667h-1zM1156 0h1v1667h-1zM1162 0h1v1667h-1zM1169 0h1v1667h-1zM1175 0h1v1667h-1zM1182 0h1v1667h-1zM1188 0h1v1667h-1zM1195 0h1v1667h-1zM1201 0h1v1667h-1zM1208 0h1v1667h-1zM1214 0h1v1667h-1zM1221 0h1v1667h-1zM1227 0h1v1667h-1zM1234 0h1v1667h-1zM1240 0h1v1667h-1zM1247 0h1v1667h-1zM1253 0h1v1667h-1zM1260 0h1v1667h-1zM1266 0h1v1667h-1zM1273 0h1v1667h-1zM1279 0h1v1667h-1zM1285 0h1v1667h-1zM1292 0h1v1667h-1zM1298 0h1v1667h-1zM1305 0h1v1667h-1zM1311 0h1v1667h-1zM1318 0h1v1667h-1zM1324 0h1v1667h-1zM1331 0h1v1667h-1zM1337 0h1v1667h-1zM1344 0h1v1667h-1zM1350 0h1v1667h-1zM1357 0h1v1667h-1zM1363 0h1v1667h-1zM1370 0h1v1667h-1zM1376 0h1v1667h-1zM1383 0h1v1667h-1zM1389 0h1v1667h-1zM1396 0h1v1667h-1zM1402 0h1v1667h-1zM1409 0h1v1667h-1zM1415 0h1v1667h-1zM1422 0h1v1667h-1zM1428 0h1v1667h-1zM1435 0h1v1667h-1zM1441 0h1v1667h-1zM1448 0h1v1667h-1zM1454 0h1v1667h-1zM1461 0h1v1667h-1zM1467 0h1v1667h-1zM1474 0h1v1667h-1zM1480 0h1v1667h-1zM1487 0h1v1667h-1zM1493 0h1v1667h-1zM1500 0h1v1667h-1zM1506 0h1v1667h-1zM1513 0h1v1667h-1zM1519 0h1v1667h-1zM1526 0h1v1667h-1zM1532 0h1v1667h-1zM1539 0h1v1667h-1zM1545 0h1v1667h-1zM1552 0h1v1667h-1zM1558 0h1v1667h-1zM1564 0h1v1667h-1zM1571 0h1v1667h-1zM1577 0h1v1667h-1zM1584 0h1v1667h-1zM1590 0h1v1667h-1zM1597 0h1v1667h-1zM1603 0h1v1667h-1zM1610 0h1v1667h-1zM1616 0h1v1667h-1zM1623 0h1v1667h-1zM1629 0h1v1667h-1zM1636 0h1v1667h-1zM1642 0h1v1667h-1zM1649 0h1v1667h-1zM1655 0h1v1667h-1zM1662 0h1v1667h-1zM1668 0h1v1667h-1zM1675 0h1v1667h-1zM1681 0h1v1667h-1zM1688 0h1v1667h-1zM1694 0h1v1667h-1zM1701 0h1v1667h-1zM1707 0h1v1667h-1zM1714 0h1v1667h-1zM1720 0h1v1667h-1zM1727 0h1v1667h-1zM1733 0h1v1667h-1zM1740 0h1v1667h-1zM1746 0h1v1667h-1zM1753 0h1v1667h-1zM1759 0h1v1667h-1zM1766 0h1v1667h-1zM1772 0h1v1667h-1zM1779 0h1v1667h-1zM1785 0h1v1667h-1zM1792 0h1v1667h-1zM1798 0h1v1667h-1zM1805 0h1v1667h-1zM1811 0h1v1667h-1zM1818 0h1v1667h-1zM1824 0h1v1667h-1zM1831 0h1v1667h-1zM1837 0h1v1667h-1zM1844 0h1v1667h-1zM1850 0h1v1667h-1zM1856 0h1v1667h-1zM1863 0h1v1667h-1zM1869 0h1v1667h-1zM1876 0h1v1667h-1zM1882 0h1v1667h-1zM1889 0h1v1667h-1zM1895 0h1v1667h-1zM1902 0h1v1667h-1zM1908 0h1v1667h-1zM1915 0h1v1667h-1zM1921 0h1v1667h-1zM1928 0h1v1667h-1zM1934 0h1v1667h-1zM1941 0h1v1667h-1zM1947 0h1v1667h-1zM1954 0h1v1667h-1zM1960 0h1v1667h-1zM1967 0h1v1667h-1zM1973 0h1v1667h-1zM1980 0h1v1667h-1zM1986 0h1v1667h-1zM1993 0h1v1667h-1zM1999 0h1v1667h-1zM2006 0h1v1667h-1zM2012 0h1v1667h-1zM2019 0h1v1667h-1zM2025 0h1v1667h-1zM2032 0h1v1667h-1zM2038 0h1v1667h-1zM2045 0h1v1667h-1zM2051 0h1v1667h-1zM2058 0h1v1667h-1zM2064 0h1v1667h-1zM2071 0h1v1667h-1zM2077 0h1v1667h-1zM2084 0h1v1667h-1zM2090 0h1v1667h-1zM2097 0h1v1667h-1zM2103 0h1v1667h-1zM2110 0h1v1667h-1zM2116 0h1v1667h-1zM2123 0h1v1667h-1zM2129 0h1v1667h-1zM2135 0h1v1667h-1zM2142 0h1v1667h-1zM2148 0h1v1667h-1zM2155 0h1v1667h-1zM2161 0h1v1667h-1zM2168 0h1v1667h-1zM2174 0h1v1667h-1zM2181 0h1v1667h-1zM2187 0h1v1667h-1zM2194 0h1v1667h-1zM2200 0h1v1667h-1zM2207 0h1v1667h-1zM2213 0h1v1667h-1zM2220 0h1v1667h-1zM2226 0h1v1667h-1zM2233 0h1v1667h-1zM2239 0h1v1667h-1zM2246 0h1v1667h-1zM2252 0h1v1667h-1zM2259 0h1v1667h-1zM2265 0h1v1667h-1zM2272 0h1v1667h-1zM2278 0h1v1667h-1zM2285 0h1v1667h-1zM2291 0h1v1667h-1zM2298 0h1v1667h-1zM2304 0h1v1667h-1zM2311 0h1v1667h-1zM2317 0h1v1667h-1zM2324 0h1v1667h-1zM2330 0h1v1667h-1zM2337 0h1v1667h-1zM2343 0h1v1667h-1zM2350 0h1v1667h-1zM2356 0h1v1667h-1zM2363 0h1v1667h-1zM2369 0h1v1667h-1zM2376 0h1v1667h-1zM2382 0h1v1667h-1zM2389 0h1v1667h-1zM2395 0h1v1667h-1zM2402 0h1v1667h-1zM2408 0h1v1667h-1zM2414 0h1v1667h-1zM2421 0h1v1667h-1zM2427 0h1v1667h-1zM2434 0h1v1667h-1zM2440 0h1v1667h-1zM2447 0h1v1667h-1zM2453 0h1v1667h-1zM2460 0h1v1667h-1zM2466 0h1v1667h-1zM2473 0h1v1667h-1zM2479 0h1v1667h-1z"/>
<path fill="rgb(159,0,0)" d="M0 0h1v1667h-1zM6 0h1v1667h-1zM13 0h1v1667h-1zM19 0h1v1667h-1zM26 0h1v1667h-1zM32 0h1v1667h-1zM39 0h1v1667h-1zM45 0h1v1667h-1zM52 0h1v1667h-1zM58 0h1v1667h-1zM65 0h1v1667h-1zM71 0h1v1667h-1zM78 0h1v1667h-1zM84 0h1v1667h-1zM91 0h1v1667h-1zM97 0h1v1667h-1zM104 0h1v1667h-1zM110 0h1v1667h-1zM117 0h1v1667h-1zM123 0h1v1667h-1zM130 0h1v1667h-1zM136 0h1v1667h-1zM143 0h1v1667h-1zM149 0h1v1667h-1zM155 0h1v1667h-1zM162 0h1v1667h-1zM168 0h1v1667h-1zM175 0h1v1667h-1zM181 0h1v1667h-1zM188 0h1v1667h-1zM194 0h1v1667h-1zM201 0h1v1667h-1zM207 0h1v1667h-1zM214 0h1v1667h-1zM220 0h1v1667h-1zM227 0h1v1667h-1zM233 0h1v1667h-1zM240 0h1v1667h-1zM246 0h1v1667h-1zM253 0h1v1667h-1zM259 0h1v1667h-1zM266 0h1v1667h-1zM272 0h1v1667h-1zM279 0h1v1667h-1zM285 0h1v1667h-1zM292 0h1v1667h-1zM298 0h1v1667h-1zM305 0h1v1667h-1zM311 0h1v1667h-1zM318 0h1v1667h-1zM324 0h1v1667h-1zM331 0h1v1667h-1zM337 0h1v1667h-1zM344 0h1v1667h-1zM350 0h1v1667h-1zM357 0h1v1667h-1zM363 0h1v1667h-1zM370 0h1v1667h-1zM376 0h1v1667h-1zM383 0h1v1667h-1zM389 0h1v1667h-1zM396 0h1v1667h-1zM402 0h1v1667h-1zM409 0h1v1667h-1zM415 0h1v1667h-1zM422 0h1v1667h-1zM428 0h1v1667h-1zM434 0h1v1667h-1zM441 0h1v1667h-1zM447 0h1v1667h-1zM454 0h1v1667h-1zM460 0h1v1667h-1zM467 0h1v1667h-1zM473 0h1v1667h-1zM480 0h1v1667h-1zM486 0h1v1667h-1zM493 0h1v1667h-1zM499 0h1v1667h-1zM506 0h1v1667h-1zM512 0h1v1667h-1zM519 0h1v1667h-1zM525 0h1v1667h-1zM532 0h1v1667h-1zM538 0h1v1667h-1zM545 0h1v1667h-1zM551 0h1v1667h-1zM558 0h1v1667h-1zM564 0h1v1667h-1zM571 0h1v1667h-1zM577 0h1v1667h-1zM584 0h1v1667h-1zM590 0h1v1667h-1zM597 0h1v1667h-1zM603 0h1v1667h-1zM610 0h1v1667h-1zM616 0h1v1667h-1zM623 0h1v1667h-1zM629 0h1v1667h-1zM636 0h1v1667h-1zM642 0h1v1667h-1zM649 0h1v1667h-1zM655 0h1v1667h-1zM662 0h1v1667h-1zM668 0h1v1667h-1zM675 0h1v1667h-1zM681 0h1v1667h-1zM688 0h1v1667h-1zM694 0h1v1667h-1zM701 0h1v1667h-1zM707 0h1v1667h-1zM714 0h1v1667h-1zM720 0h1v1667h-1zM726 0h1v1667h-1zM733 0h1v1667h-1zM739 0h1v1667h-1zM746 0h1v1667h-1zM752 0h1v1667h-1zM759 0h1v1667h-1zM765 0h1v1667h-1zM772 0h1v1667h-1zM778 0h1v1667h-1zM785 0h1v1667h-1zM791 0h1v1667h-1zM798 0h1v1667h-1zM804 0h1v1667h-1zM811 0h1v1667h-1zM817 0h1v1667h-1zM824 0h1v1667h-1zM830 0h1v1667h-1zM837 0h1v1667h-1zM843 0h1v1667h-1zM850 0h1v1667h-1zM856 0h1v1667h-1zM863 0h1v1667h-1zM869 0h1v1667h-1zM876 0h1v1667h-1zM882 0h1v1667h-1zM889 0h1v1667h-1zM895 0h1v1667h-1zM902 0h1v1667h-1zM908 0h1v1667h-1zM915 0h1v1667h-1zM921 0h1v1667h-1zM928 0h1v1667h-1zM934 0h1v1667h-1zM941 0h1v1667h-1zM947 0h1v1667h-1zM954 0h1v1667h-1zM960 0h1v1667h-1zM967 0h1v1667h-1zM973 0h1v1667h-1zM980 0h1v1667h-1zM986 0h1v1667h-1zM993 0h1v1667h-1zM999 0h1v1667h-1zM1005 0h1v1667h-1zM1012 0h1v1667h-1zM1018 0h1v1667h-1zM1025 0h1v1667h-1zM1031 0h1v1667h-1zM1038 0h1v1667h-1zM1044 0h1v1667h-1zM1051 0h1v1667h-1zM1057 0h1v1667h-1zM1064 0h1v1667h-1zM1070 0h1v1667h-1zM1077 0h1v1667h-1zM1083 0h1v1667h-1zM1090 0h1v1667h-1zM1096 0h1v1667h-1zM1103 0h1v1667h-1zM1109 0h1v1667h-1zM1116 0h1v1667h-1zM1122 0h1v1667h-1zM1129 0h1v1667h-1zM1135 0h1v1667h-1zM1142 0h1v1667h-1zM1148 0h1v1667h-1zM1155 0h1v1667h-1zM1161 0h1v1667h-1zM1168 0h1v1667h-1zM1174 0h1v1667h-1zM1181 0h1v1667h-1zM1187 0h1v1667h-1zM1194 0h1v1667h-1zM1200 0h1v1667h-1zM1207 0h1v1667h-1zM1213 0h1v1667h-1zM1220 0h1v1667h-1zM1226 0h1v1667h-1zM1233 0h1v1667h-1zM1239 0h1v1667h-1zM1246 0h1v1667h-1zM1252 0h1v1667h-1zM1259 0h1v1667h-1zM1265 0h1v1667h-1zM1272 0h1v1667h-1zM1278 0h1v1667h-1zM1284 0h1v1667h-1zM1291 0h1v1667h-1zM1297 0h1v1667h-1zM1304 0h1v1667h-1zM1310 0h1v1667h-1zM1317 0h1v1667h-1zM1323 0h1v1667h-1zM1330 0h1v1667h-1zM1336 0h1v1667h-1zM1343 0h1v1667h-1zM1349 0h1v1667h-1zM1356 0h1v1667h-1zM1362 0h1v1667h-1zM1369 0h1v1667h-1zM1375 0h1v1667h-1zM1382 0h1v1667h-1zM1388 0h1v1667h-1zM1395 0h1v1667h-1zM1401 0h1v1667h-1zM1408 0h1v1667h-1zM1414 0h1v1667h-1zM1421 0h1v1667h-1zM1427 0h1v1667h-1zM1434 0h1v1667h-1zM1440 0h1v1667h-1zM1447 0h1v1667h-1zM1453 0h1v1667h-1zM1460 0h1v1667h-1zM1466 0h1v1667h-1zM1473 0h1v1667h-1zM1479 0h1v1667h-1zM1486 0h1v1667h-1zM1492 0h1v1667h-1zM1499 0h1v1667h-1zM1505 0h1v1667h-1zM1512 0h1v1667h-1zM1518 0h1v1667h-1zM1525 0h1v1667h-1zM1531 0h1v1667h-1zM1538 0h1v1667h-1zM1544 0h1v1667h-1zM1551 0h1v1667h-1zM1557 0h1v1667h-1zM1563 0h1v1667h-1zM1570 0h1v1667h-1zM1576 0h1v1667h-1zM1583 0h1v1667h-1zM1589 0h1v1667h-1zM1596 0h1v1667h-1zM1602 0h1v1667h-1zM1609 0h1v1667h-1zM1615 0h1v1667h-1zM1622 0h1v1667h-1zM1628 0h1v1667h-1zM1635 0h1v1667h-1zM1641 0h1v1667h-1zM1648 0h1v1667h-1zM1654 0h1v1667h-1zM1661 0h1v1667h-1zM1667 0h1v1667h-1zM1674 0h1v1667h-1zM1680 0h1v1667h-1zM1687 0h1v1667h-1zM1693 0h1v1667h-1zM1700 0h1v1667h-1zM1706 0h1v1667h-1zM1713 0h1v1667h-1zM1719 0h1v1667h-1zM1726 0h1v1667h-1zM1732 0h1v1667h-1zM1739 0h1v1667h-1zM1745 0h1v1667h-1zM1752 0h1v1667h-1zM1758 0h1v1667h-1zM1765 0h1v1667h-1zM1771 0h1v1667h-1zM1778 0h1v1667h-1zM1784 0h1v1667h-1zM1791 0h1v1667h-1zM1797 0h1v1667h-1zM1804 0h1v1667h-1zM1810 0h1v1667h-1zM1817 0h1v1667h-1zM1823 0h1v1667h-1zM1830 0h1v1667h-1zM1836 0h1v1667h-1zM1843 0h1v1667h-1zM1849 0h1v1667h-1zM1855 0h1v1667h-1zM1862 0h1v1667h-1zM1868 0h1v1667h-1zM1875 0h1v1667h-1zM1881 0h1v1667h-1zM1888 0h1v1667h-1zM1894 0h1v1667h-1zM1901 0h1v1667h-1zM1907 0h1v1667h-1zM1914 0h1v1667h-1zM1920 0h1v1667h-1zM1927 0h1v1667h-1zM1933 0h1v1667h-1zM1940 0h1v1667h-1zM1946 0h1v1667h-1zM1953 0h1v1667h-1zM1959 0h1v1667h-1zM1966 0h1v1667h-1zM1972 0h1v1667h-1zM1979 0h1v1667h-1zM1985 0h1v1667h-1zM1992 0h1v1667h-1zM1998 0h1v1667h-1zM2005 0h1v1667h-1zM2011 0h1v1667h-1zM2018 0h1v1667h-1zM2024 0h1v1667h-1zM2031 0h1v1667h-1zM2037 0h1v1667h-1zM2044 0h1v1667h-1zM2050 0h1v1667h-1zM2057 0h1v1667h-1zM2063 0h1v1667h-1zM2070 0h1v1667h-1zM2076 0h1v1667h-1zM2083 0h1v1667h-1zM2089 0h1v1667h-1zM2096 0h1v1667h-1zM2102 0h1v1667h-1zM2109 0h1v1667h-1zM2115 0h1v1667h-1zM2122 0h1v1667h-1zM2128 0h1v1667h-1zM2134 0h1v1667h-1zM2141 0h1v1667h-1zM2147 0h1v1667h-1zM2154 0h1v1667h-1zM2160 0h1v1667h-1zM2167 0h1v1667h-1zM2173 0h1v1667h-1zM2180 0h1v1667h-1zM2186 0h1v1667h-1zM2193 0h1v1667h-1zM2199 0h1v1667h-1zM2206 0h1v1667h-1zM2212 0h1v1667h-1zM2219 0h1v1667h-1zM2225 0h1v1667h-1zM2232 0h1v1667h-1zM2238 0h1v1667h-1zM2245 0h1v1667h-1zM2251 0h1v1667h-1zM2258 0h1v1667h-1zM2264 0h1v1667h-1zM2271 0h1v1667h-1zM2277 0h1v1667h-1zM2284 0h1v1667h-1zM2290 0h1v1667h-1zM2297 0h1v1667h-1zM2303 0h1v1667h-1zM2310 0h1v1667h-1zM2316 0h1v1667h-1zM2323 0h1v1667h-1zM2329 0h1v1667h-1zM2336 0h1v1667h-1zM2342 0h1v1667h-1zM2349 0h1v1667h-1zM2355 0h1v1667h-1zM2362 0h1v1667h-1zM2368 0h1v1667h-1zM2375 0h1v1667h-1zM2381 0h1v1667h-1zM2388 0h1v1667h-1zM2394 0h1v1667h-1zM2401 0h1v1667h-1zM2407 0h1v1667h-1zM2413 0h1v1667h-1zM2420 0h1v1667h-1zM2426 0h1v1667h-1zM2433 0h1v1667h-1zM2439 0h1v1667h-1zM2446 0h1v1667h-1zM2452 0h1v1667h-1zM2459 0h1v1667h-1zM2465 0h1v1667h-1zM2472 0h1v1667h-1zM2478 0h1v1667h-1zM2485 0h1v1667h-1z"/>
<path fill="rgb(175,0,0)" d="M5 0h1v1667h-1zM12 0h1v1667h-1zM18 0h1v1667h-1zM25 0h1v1667h-1zM31 0h1v1667h-1zM38 0h1v1667h-1zM44 0h1v1667h-1zM51 0h1v1667h-1zM57 0h1v1667h-1zM64 0h1v1667h-1zM70 0h1v1667h-1zM77 0h1v1667h-1zM83 0h1v1667h-1zM90 0h1v1667h-1zM96 0h1v1667h-1zM103 0h1v1667h-1zM109 0h1v1667h-1zM116 0h1v1667h-1zM122 0h1v1667h-1zM129 0h1v1667h-1zM135 0h1v1667h-1zM142 0h1v1667h-1zM148 0h1v1667h-1zM154 0h1v1667h-1zM161 0h1v1667h-1zM167 0h1v1667h-1zM174 0h1v1667h-1zM180 0h1v1667h-1zM187 0h1v1667h-1zM193 0h1v1667h-1zM200 0h1v1667h-1zM206 0h1v1667h-1zM213 0h1v1667h-1zM219 0h1v1667h-1zM226 0h1v1667h-1zM232 0h1v1667h-1zM239 0h1v1667h-1zM245 0h1v1667h-1zM252 0h1v1667h-1zM258 0h1v1667h-1zM265 0h1v1667h-1zM271 0h1v1667h-1zM278 0h1v1667h-1zM284 0h1v1667h-1zM291 0h1v1667h-1zM297 0h1v1667h-1zM304 0h1v1667h-1zM310 0h1v1667h-1zM317 0h1v1667h-1zM323 0h1v1667h-1zM330 0h1v1667h-1zM336 0h1v1667h-1zM343 0h1v1667h-1zM349 0h1v1667h-1zM356 0h1v1667h-1zM362 0h1v1667h-1zM369 0h1v1667h-1zM375 0h1v1667h-1zM382 0h1v1667h-1zM388 0h1v1667h-1zM395 0h1v1667h-1zM401 0h1v1667h-1zM408 0h1v1667h-1zM414 0h1v1667h-1zM421 0h1v1667h-1zM427 0h1v1667h-1zM433 0h1v1667h-1zM440 0h1v1667h-1zM446 0h1v1667h-1zM453 0h1v1667h-1zM459 0h1v1667h-1zM466 0h1v1667h-1zM472 0h1v1667h-1zM479 0h1v1667h-1zM485 0h1v1667h-1zM492 0h1v1667h-1zM498 0h1v1667h-1zM505 0h1v1667h-1zM511 0h1v1667h-1zM518 0h1v1667h-1zM524 0h1v1667h-1zM531 0h1v1667h-1zM537 0h1v1667h-1zM544 0h1v1667h-1zM550 0h1v1667h-1zM557 0h1v1667h-1zM563 0h1v1667h-1zM570 0h1v1667h-1zM576 0h1v1667h-1zM583 0h1v1667h-1zM589 0h1v1667h-1zM596 0h1v1667h-1zM602 0h1v1667h-1zM609 0h1v1667h-1zM615 0h1v1667h-1zM622 0h1v1667h-1zM628 0h1v1667h-1zM635 0h1v1667h-1zM641 0h1v1667h-1zM648 0h1v1667h-1zM654 0h1v1667h-1zM661 0h1v1667h-1zM667 0h1v1667h-1zM674 0h1v1667h-1zM680 0h1v1667h-1zM687 0h1v1667h-1zM693 0h1v1667h-1zM700 0h1v1667h-1zM706 0h1v1667h-1zM713 0h1v1667h-1zM719 0h1v1667h-1zM725 0h1v1667h-1zM732 0h1v1667h-1zM738 0h1v1667h-1zM745 0h1v1667h-1zM751 0h1v1667h-1zM758 0h1v1667h-1zM764 0h1v1667h-1zM771 0h1v1667h-1zM777 0h1v1667h-1zM784 0h1v1667h-1zM790 0h1v1667h-1zM797 0h1v1667h-1zM803 0h1v1667h-1zM810 0h1v1667h-1zM816 0h1v1667h-1zM823 0h1v1667h-1zM829 0h1v1667h-1zM836 0h1v1667h-1zM842 0h1v1667h-1zM849 0h1v1667h-1zM855 0h1v1667h-1zM862 0h1v1667h-1zM868 0h1v1667h-1zM875 0h1v1667h-1zM881 0h1v1667h-1zM888 0h1v1667h-1zM894 0h1v1667h-1zM901 0h1v1667h-1zM907 0h1v1667h-1zM914 0h1v1667h-1zM920 0h1v1667h-1zM927 0h1v1667h-1zM933 0h1v1667h-1zM940 0h1v1667h-1zM946 0h1v1667h-1zM953 0h1v1667h-1zM959 0h1v1667h-1zM966 0h1v1667h-1zM972 0h1v1667h-1zM979 0h1v1667h-1zM985 0h1v1667h-1zM992 0h1v1667h-1zM998 0h1v1667h-1zM1004 0h1v1667h-1zM1011 0h1v1667h-1zM1017 0h1v1667h-1zM1024 0h1v1667h-1zM1030 0h1v1667h-1zM1037 0h1v1667h-1zM1043 0h1v1667h-1zM1050 0h1v1667h-1zM1056 0h1v1667h-1zM1063 0h1v1667h-1zM1069 0h1v1667h-1zM1076 0h1v1667h-1zM1082 0h1v1667h-1zM1089 0h1v1667h-1zM1095 0h1v1667h-1zM1102 0h1v1667h-1zM1108 0h1v1667h-1zM1115 0h1v1667h-1zM1121 0h1v1667h-1zM1128 0h1v1667h-1zM1134 0h1v1667h-1zM1141 0h1v1667h-1zM1147 0h1v1667h-1zM1154 0h1v1667h-1zM1160 0h1v1667h-1zM1167 0h1v1667h-1zM1173 0h1v1667h-1zM1180 0h1v1667h-1zM1186 0h1v1667h-1zM1193 0h1v1667h-1zM1199 0h1v1667h-1zM1206 0h1v1667h-1zM1212 0h1v1667h-1zM1219 0h1v1667h-1zM1225 0h1v1667h-1zM1232 0h1v1667h-1zM1238 0h1v1667h-1zM1245 0h1v1667h-1zM1251 0h1v1667h-1zM1258 0h1v1667h-1zM1264 0h1v1667h-1zM1271 0h1v1667h-1zM1277 0h1v1667h-1zM1283 0h1v1667h-1zM1290 0h1v1667h-1zM1296 0h1v1667h-1zM1303 0h1v1667h-1zM1309 0h1v1667h-1zM1316 0h1v1667h-1zM1322 0h1v1667h-1zM1329 0h1v1667h-1zM1335 0h1v1667h-1zM1342 0h1v1667h-1zM1348 0h1v1667h-1zM1355 0h1v1667h-1zM1361 0h1v1667h-1zM1368 0h1v1667h-1zM1374 0h1v1667h-1zM1381 0h1v1667h-1zM1387 0h1v1667h-1zM1394 0h1v1667h-1zM1400 0h1v1667h-1zM1407 0h1v1667h-1zM1413 0h1v1667h-1zM1420 0h1v1667h-1zM1426 0h1v1667h-1zM1433 0h1v1667h-1zM1439 0h1v1667h-1zM1446 0h1v1667h-1zM1452 0h1v1667h-1zM1459 0h1v1667h-1zM1465 0h1v1667h-1zM1472 0h1v1667h-1zM1478 0h1v1667h-1zM1485 0h1v1667h-1zM1491 0h1v1667h-1zM1498 0h1v1667h-1zM1504 0h1v1667h-1zM1511 0h1v1667h-1zM1517 0h1v1667h-1zM1524 0h1v1667h-1zM1530 0h1v1667h-1zM1537 0h1v1667h-1zM1543 0h1v1667h-1zM1550 0h1v1667h-1zM1556 0h1v1667h-1zM1562 0h1v1667h-1zM1569 0h1v1667h-1zM1575 0h1v1667h-1zM1582 0h1v1667h-1zM1588 0h1v1667h-1zM1595 0h1v1667h-1zM1601 0h1v1667h-1zM1608 0h1v1667h-1zM1614 0h1v1667h-1zM1621 0h1v1667h-1zM1627 0h1v1667h-1zM1634 0h1v1667h-1zM1640 0h1v1667h-1zM1647 0h1v1667h-1zM1653 0h1v1667h-1zM1660 0h1v1667h-1zM1666 0h1v1667h-1zM1673 0h1v1667h-1zM1679 0h1v1667h-1zM1686 0h1v1667h-1zM1692 0h1v1667h-1zM1699 0h1v1667h-1zM1705 0h1v1667h-1zM1712 0h1v1667h-1zM1718 0h1v1667h-1zM1725 0h1v1667h-1zM1731 0h1v1667h-1zM1738 0h1v1667h-1zM1744 0h1v1667h-1zM1751 0h1v1667h-1zM1757 0h1v1667h-1zM1764 0h1v1667h-1zM1770 0h1v1667h-1zM1777 0h1v1667h-1zM1783 0h1v1667h-1zM1790 0h1v1667h-1zM1796 0h1v1667h-1zM1803 0h1v1667h-1zM1809 0h1v1667h-1zM1816 0h1v1667h-1zM1822 0h1v1667h-1zM1829 0h1v1667h-1zM1835 0h1v1667h-1zM1842 0h1v1667h-1zM1848 0h1v1667h-1zM1854 0h1v1667h-1zM1861 0h1v1667h-1zM1867 0h1v1667h-1zM1874 0h1v1667h-1zM1880 0h1v1667h-1zM1887 0h1v1667h-1zM1893 0h1v1667h-1zM1900 0h1v1667h-1zM1906 0h1v1667h-1zM1913 0h1v1667h-1zM1919 0h1v1667h-1zM1926 0h1v1667h-1zM1932 0h1v1667h-1zM1939 0h1v1667h-1zM1945 0h1v1667h-1zM1952 0h1v1667h-1zM1958 0h1v1667h-1zM1965 0h1v1667h-1zM1971 0h1v1667h-1zM1978 0h1v1667h-1zM1984 0h1v1667h-1zM1991 0h1v1667h-1zM1997 0h1v1667h-1zM2004 0h1v1667h-1zM2010 0h1v1667h-1zM2017 0h1v1667h-1zM2023 0h1v1667h-1zM2030 0h1v1667h-1zM2036 0h1v1667h-1zM2043 0h1v1667h-1zM2049 0h1v1667h-1zM2056 0h1v1667h-1zM2062 0h1v1667h-1zM2069 0h1v1667h-1zM2075 0h1v1667h-1zM2082 0h1v1667h-1zM2088 0h1v1667h-1zM2095 0h1v1667h-1zM2101 0h1v1667h-1zM2108 0h1v1667h-1zM2114 0h1v1667h-1zM2121 0h1v1667h-1zM2127 0h1v1667h-1zM2133 0h1v1667h-1zM2140 0h1v1667h-1zM2146 0h1v1667h-1zM2153 0h1v1667h-1zM2159 0h1v1667h-1zM2166 0h1v1667h-1zM2172 0h1v1667h-1zM2179 0h1v1667h-1zM2185 0h1v1667h-1zM2192 0h1v1667h-1zM2198 0h1v1667h-1zM2205 0h1v1667h-1zM2211 0h1v1667h-1zM2218 0h1v1667h-1zM2224 0h1v1667h-1zM2231 0h1v1667h-1zM2237 0h1v1667h-1zM2244 0h1v1667h-1zM2250 0h1v1667h-1zM2257 0h1v1667h-1zM2263 0h1v1667h-1zM2270 0h1v1667h-1zM2276 0h1v1667h-1zM2283 0h1v1667h-1zM2289 0h1v1667h-1zM2296 0h1v1667h-1zM2302 0h1v1667h-1zM2309 0h1v1667h-1zM2315 0h1v1667h-1zM2322 0h1v1667h-1zM2328 0h1v1667h-1zM2335 0h1v1667h-1zM2341 0h1v1667h-1zM2348 0h1v1667h-1zM2354 0h1v1667h-1zM2361 0h1v1667h-1zM2367 0h1v1667h-1zM2374 0h1v1667h-1zM2380 0h1v1667h-1zM2387 0h1v1667h-1zM2393 0h1v1667h-1zM2400 0h1v1667h-1zM2406 0h1v1667h-1zM2412 0h1v1667h-1zM2419 0h1v1667h-1zM2425 0h1v1667h-1zM2432 0h1v1667h-1zM2438 0h1v1667h-1zM2445 0h1v1667h-1zM2451 0h1v1667h-1zM2458 0h1v1667h-1zM2464 0h1v1667h-1zM2471 0h1v1667h-1zM2477 0h1v1667h-1zM2484 0h1v1667h-1z"/>
</g>
<g class="px scr">
<path fill="rgb(0,80,0)" d="M0 4h2486v1h-2486zM0 17h2486v1h-2486zM0 30h2486v1h-2486zM0 43h2486v1h-2486zM0 56h2486v1h-2486zM0 69h2486v1h-2486zM0 82h2486v1h-2486zM0 95h2486v1h-2486zM0 108h2486v1h-2486zM0 121h2486v1h-2486zM0 134h2486v1h-2486zM0 147h2486v1h-2486zM0 160h2486v1h-2486zM0 173h2486v1h-2486zM0 186h2486v1h-2486zM0 199h2486v1h-2486zM0 212h2486v1h-2486zM0 225h2486v1h-2486zM0 238h2486v1h-2486zM0 251h2486v1h-2486zM0 264h2486v1h-2486zM0 277h2486v1h-2486zM0 290h2486v1h-2486zM0 303h2486v1h-2486zM0 316h2486v1h-2486zM0 329h2486v1h-2486zM0 342h2486v1h-2486zM0 355h2486v1h-2486zM0 368h2486v1h-2486zM0 381h2486v1h-2486zM0 394h2486v1h-2486zM0 407h2486v1h-2486zM0 420h2486v1h-2486zM0 433h2486v1h-2486zM0 446h2486v1h-2486zM0 459h2486v1h-2486zM0 472h2486v1h-2486zM0 485h2486v1h-2486zM0 498h2486v1h-2486zM0 511h2486v1h-2486zM0 524h2486v1h-2486zM0 537h2486v1h-2486zM0 550h2486v1h-2486zM0 563h2486v1h-2486zM0 576h2486v1h-2486zM0 589h2486v1h-2486zM0 602h2486v1h-2486zM0 615h2486v1h-2486zM0 628h2486v1h-2486zM0 641h2486v1h-2486zM0 654h2486v1h-2486zM0 667h2486v1h-2486zM0 680h2486v1h-2486zM0 693h2486v1h-2486zM0 706h2486v1h-2486zM0 719h2486v1h-2486zM0 726h2486v1h-2486zM0 739h2486v1h-2486zM0 752h2486v1h-2486zM0 765h2486v1h-2486zM0 778h2486v1h-2486zM0 791h2486v1h-2486zM0 804h2486v1h-2486zM0 817h2486v1h-2486zM0 830h2486v1h-2486zM0 843h2486v1h-2486zM0 856h2486v1h-2486zM0 869h2486v1h-2486zM0 882h2486v1h-2486zM0 895h2486v1h-2486zM0 908h2486v1h-2486zM0 921h2486v1h-2486zM0 934h2486v1h-2486zM0 947h2486v1h-2486zM0 960h2486v1h-2486zM0 973h2486v1h-2486zM0 986h2486v1h-2486zM0 999h2486v1h-2486zM0 1012h2486v1h-2486zM0 1025h2486v1h-2486zM0 1038h2486v1h-2486zM0 1051h2486v1h-2486zM0 1064h2486v1h-2486zM0 1077h2486v1h-2486zM0 1090h2486v1h-2486zM0 1103h2486v1h-2486zM0 1116h2486v1h-2486zM0 1129h2486v1h-2486zM0 1142h2486v1h-2486zM0 1155h2486v1h-2486zM0 1168h2486v1h-2486zM0 1181h2486v1h-2486zM0 1194h2486v1h-2486zM0 1207h2486v1h-2486zM0 1220h2486v1h-2486zM0 1233h2486v1h-2486zM0 1246h2486v1h-2486zM0 1259h2486v1h-2486zM0 1272h2486v1h-2486zM0 1285h2486v1h-2486zM0 1298h2486v1h-2486zM0 1311h2486v1h-2486zM0 1324h2486v1h-2486zM0 1337h2486v1h-2486zM0 1350h2486v1h-2486zM0 1363h2486v1h-2486zM0 1376h2486v1h-2486zM0 1389h2486v1h-2486zM0 1402h2486v1h-2486zM0 1415h2486v1h-2486zM0 1428h2486v1h-2486zM0 1441h2486v1h-2486zM0 1454h2486v1h-2486zM0 1467h2486v1h-2486zM0 1480h2486v1h-2486zM0 1493h2486v1h-2486zM0 1506h2486v1h-2486zM0 1519h2486v1h-2486zM0 1532h2486v1h-2486zM0 1545h2486v1h-2486zM0 1558h2486v1h-2486zM0 1571h2486v1h-2486zM0 1584h2486v1h-2486zM0 1597h2486v1h-2486zM0 1610h2486v1h-2486zM0 1623h2486v1h-2486zM0 1636h2486v1h-2486zM0 1649h2486v1h-2486zM0 1662h2486v1h-2486z"/>
<path fill="rgb(0,96,0)" d="M0 3h2486v1h-2486zM0 10h2486v1h-2486zM0 16h2486v1h-2486zM0 23h2486v1h-2486zM0 29h2486v1h-2486zM0 36h2486v1h-2486zM0 42h2486v1h-2486zM0 49h2486v1h-2486zM0 55h2486v1h-2486zM0 62h2486v1h-2486zM0 68h2486v1h-2486zM0 75h2486v1h-2486zM0 81h2486v1h-2486zM0 88h2486v1h-2486zM0 94h2486v1h-2486zM0 101h2486v1h-2486zM0 107h2486v1h-2486zM0 114h2486v1h-2486zM0 120h2486v1h-2486zM0 127h2486v1h-2486zM0 133h2486v1h-2486zM0 140h2486v1h-2486zM0 146h2486v1h-2486zM0 153h2486v1h-2486zM0 159h2486v1h-2486zM0 166h2486v1h-2486zM0 172h2486v1h-2486zM0 179h2486v1h-2486zM0 185h2486v1h-2486zM0 192h2486v1h-2486zM0 198h2486v1h-2486zM0 205h2486v1h-2486zM0 211h2486v1h-2486zM0 218h2486v1h-2486zM0 224h2486v1h-2486zM0 231h2486v1h-2486zM0 237h2486v1h-2486zM0 244h2486v1h-2486zM0 250h2486v1h-2486zM0 257h2486v1h-2486zM0 263h2486v1h-2486zM0 270h2486v1h-2486zM0 276h2486v1h-2486zM0 283h2486v1h-2486zM0 289h2486v1h-2486zM0 296h2486v1h-2486zM0 302h2486v1h-2486zM0 309h2486v1h-2486zM0 315h2486v1h-2486zM0 322h2486v1h-2486zM0 328h2486v1h-2486zM0 335h2486v1h-2486zM0 341h2486v1h-2486zM0 348h2486v1h-2486zM0 354h2486v1h-2486zM0 361h2486v1h-2486zM0 367h2486v1h-2486zM0 374h2486v1h-2486zM0 380h2486v1h-2486zM0 387h2486v1h-2486zM0 393h2486v1h-2486zM0 400h2486v1h-2486zM0 406h2486v1h-2486zM0 413h2486v1h-2486zM0 419h2486v1h-2486zM0 426h2486v1h-2486zM0 432h2486v1h-2486zM0 439h2486v1h-2486zM0 445h2486v1h-2486zM0 452h2486v1h-2486zM0 458h2486v1h-2486zM0 465h2486v1h-2486zM0 471h2486v1h-2486zM0 478h2486v1h-2486zM0 484h2486v1h-2486zM0 491h2486v1h-2486zM0 497h2486v1h-2486zM0 504h2486v1h-2486zM0 510h2486v1h-2486zM0 517h2486v1h-2486zM0 523h2486v1h-2486zM0 530h2486v1h-2486zM0 536h2486v1h-2486zM0 543h2486v1h-2486zM0 549h2486v1h-2486zM0 556h2486v1h-2486zM0 562h2486v1h-2486zM0 569h2486v1h-2486zM0 575h2486v1h-2486zM0 582h2486v1h-2486zM0 588h2486v1h-2486zM0 595h2486v1h-2486zM0 601h2486v1h-2486zM0 608h2486v1h-2486zM0 614h2486v1h-2486zM0 621h2486v1h-2486zM0 627h2486v1h-2486zM0 634h2486v1h-2486zM0 640h2486v1h-2486zM0 647h2486v1h-2486zM0 653h2486v1h-2486zM0 660h2486v1h-2486zM0 666h2486v1h-2486zM0 673h2486v1h-2486zM0 679h2486v1h-2486zM0 686h2486v1h-2486zM0 692h2486v1h-2486zM0 699h2486v1h-2486zM0 705h2486v1h-2486zM0 712h2486v1h-2486zM0 718h2486v1h-2486zM0 725h2486v1h-2486zM0 732h2486v1h-2486zM0 738h2486v1h-2486zM0 745h2486v1h-2486zM0 751h2486v1h-2486zM0 758h2486v1h-2486zM0 764h2486v1h-2486zM0 771h2486v1h-2486zM0 777h2486v1h-2486zM0 784h2486v1h-2486zM0 790h2486v1h-2486zM0 797h2486v1h-2486zM0 803h2486v1h-2486zM0 810h2486v1h-2486zM0 816h2486v1h-2486zM0 823h2486v1h-2486zM0 829h2486v1h-2486zM0 836h2486v1h-2486zM0 842h2486v1h-2486zM0 849h2486v1h-2486zM0 855h2486v1h-2486zM0 862h2486v1h-2486zM0 868h2486v1h-2486zM0 875h2486v1h-2486zM0 881h2486v1h-2486zM0 888h2486v1h-2486zM0 894h2486v1h-2486zM0 901h2486v1h-2486zM0 907h2486v1h-2486zM0 914h2486v1h-2486zM0 920h2486v1h-2486zM0 927h2486v1h-2486zM0 933h2486v1h-2486zM0 940h2486v1h-2486zM0 946h2486v1h-2486zM0 953h2486v1h-2486zM0 959h2486v1h-2486zM0 966h2486v1h-2486zM0 972h2486v1h-2486zM0 979h2486v1h-2486zM0 985h2486v1h-2486zM0 992h2486v1h-2486zM0 998h2486v1h-2486zM0 1005h2486v1h-2486zM0 1011h2486v1h-2486zM0 1018h2486v1h-2486zM0 1024h2486v1h-2486zM0 1031h2486v1h-2486zM0 1037h2486v1h-2486zM0 1044h2486v1h-2486zM0 1050h2486v1h-2486zM0 1057h2486v1h-2486zM0 1063h2486v1h-2486zM0 1070h2486v1h-2486zM0 1076h2486v1h-2486zM0 1083h2486v1h-2486zM0 1089h2486v1h-2486zM0 1096h2486v1h-2486zM0 1102h2486v1h-2486zM0 1109h2486v1h-2486zM0 1115h2486v1h-2486zM0 1122h2486v1h-2486zM0 1128h2486v1h-2486zM0 1135h2486v1h-2486zM0 1141h2486v1h-2486zM0 1148h2486v1h-2486zM0 1154h2486v1h-2486zM0 1161h2486v1h-2486zM0 1167h2486v1h-2486zM0 1174h2486v1h-2486zM0 1180h2486v1h-2486zM0 1187h2486v1h-2486zM0 1193h2486v1h-2486zM0 1200h2486v1h-2486zM0 1206h2486v1h-2486zM0 1213h2486v1h-2486zM0 1219h2486v1h-2486zM0 1226h2486v1h-2486zM0 1232h2486v1h-2486zM0 1239h2486v1h-2486zM0 1245h2486v1h-2486zM0 1252h2486v1h-2486zM0 1258h2486v1h-2486zM0 1265h2486v1h-2486zM0 1271h2486v1h-2486zM0 1278h2486v1h-2486zM0 1284h2486v1h-2486zM0 1291h2486v1h-2486zM0 1297h2486v1h-2486zM0 1304h2486v1h-2486zM0 1310h2486v1h-2486zM0 1317h2486v1h-2486zM0 1323h2486v1h-2486zM0 1330h2486v1h-2486zM0 1336h2486v1h-2486zM0 1343h2486v1h-2486zM0 1349h2486v1h-2486zM0 1356h2486v1h-2486zM0 1362h2486v1h-2486zM0 1369h2486v1h-2486zM0 1375h2486v1h-2486zM0 1382h2486v1h-2486zM0 1388h2486v1h-2486zM0 1395h2486v1h-2486zM0 1401h2486v1h-2486zM0 1408h2486v1h-2486zM0 1414h2486v1h-2486zM0 1421h2486v1h-2486zM0 1427h2486v1h-2486zM0 1434h2486v1h-2486zM0 1440h2486v1h-2486zM0 1447h2486v1h-2486zM0 1453h2486v1h-2486zM0 1460h2486v1h-2486zM0 1466h2486v1h-2486zM0 1473h2486v1h-2486zM0 1479h2486v1h-2486zM0 1486h2486v1h-2486zM0 1492h2486v1h-2486zM0 1499h2486v1h-2486zM0 1505h2486v1h-2486zM0 1512h2486v1h-2486zM0 1518h2486v1h-2486zM0 1525h2486v1h-2486zM0 1531h2486v1h-2486zM0 1538h2486v1h-2486zM0 1544h2486v1h-2486zM0 1551h2486v1h-2486zM0 1557h2486v1h-2486zM0 1564h2486v1h-2486zM0 1570h2486v1h-2486zM0 1577h2486v1h-2486zM0 1583h2486v1h-2486zM0 1590h2486v1h-2486zM0 1596h2486v1h-2486zM0 1603h2486v1h-2486zM0 1609h2486v1h-2486zM0 1616h2486v1h-2486zM0 1622h2486v1h-2486zM0 1629h2486v1h-2486zM0 1635h2486v1h-2486zM0 1642h2486v1h-2486zM0 1648h2486v1h-2486zM0 1655h2486v1h-2486zM0 1661h2486v1h-2486z"/>
<path fill="rgb(0,112,0)" d="M0 2h2486v1h-2486zM0 9h2486v1h-2486zM0 15h2486v1h-2486zM0 22h2486v1h-2486zM0 28h2486v1h-2486zM0 35h2486v1h-2486zM0 41h2486v1h-2486zM0 48h2486v1h-2486zM0 54h2486v1h-2486zM0 61h2486v1h-2486zM0 67h2486v1h-2486zM0 74h2486v1h-2486zM0 80h2486v1h-2486zM0 87h2486v1h-2486zM0 93h2486v1h-2486zM0 100h2486v1h-2486zM0 106h2486v1h-2486zM0 113h2486v1h-2486zM0 119h2486v1h-2486zM0 126h2486v1h-2486zM0 132h2486v1h-2486zM0 139h2486v1h-2486zM0 145h2486v1h-2486zM0 152h2486v1h-2486zM0 158h2486v1h-2486zM0 165h2486v1h-2486zM0 171h2486v1h-2486zM0 178h2486v1h-2486zM0 184h2486v1h-2486zM0 191h2486v1h-2486zM0 197h2486v1h-2486zM0 204h2486v1h-2486zM0 210h2486v1h-2486zM0 217h2486v1h-2486zM0 223h2486v1h-2486zM0 230h2486v1h-2486zM0 236h2486v1h-2486zM0 243h2486v1h-2486zM0 249h2486v1h-2486zM0 256h2486v1h-2486zM0 262h2486v1h-2486zM0 269h2486v1h-2486zM0 275h2486v1h-2486zM0 282h2486v1h-2486zM0 288h2486v1h-2486zM0 295h2486v1h-2486zM0 301h2486v1h-2486zM0 308h2486v1h-2486zM0 314h2486v1h-2486zM0 321h2486v1h-2486zM0 327h2486v1h-2486zM0 334h2486v1h-2486zM0 340h2486v1h-2486zM0 347h2486v1h-2486zM0 353h2486v1h-2486zM0 360h2486v1h-2486zM0 366h2486v1h-2486zM0 373h2486v1h-2486zM0 379h2486v1h-2486zM0 386h2486v1h-2486zM0 392h2486v1h-2486zM0 399h2486v1h-2486zM0 405h2486v1h-2486zM0 412h2486v1h-2486zM0 418h2486v1h-2486zM0 425h2486v1h-2486zM0 431h2486v1h-2486zM0 438h2486v1h-2486zM0 444h2486v1h-2486zM0 451h2486v1h-2486zM0 457h2486v1h-2486zM0 464h2486v1h-2486zM0 470h2486v1h-2486zM0 477h2486v1h-2486zM0 483h2486v1h-2486zM0 490h2486v1h-2486zM0 496h2486v1h-2486zM0 503h2486v1h-2486zM0 509h2486v1h-2486zM0 516h2486v1h-2486zM0 522h2486v1h-2486zM0 529h2486v1h-2486zM0 535h2486v1h-2486zM0 542h2486v1h-2486zM0 548h2486v1h-2486zM0 555h2486v1h-2486zM0 561h2486v1h-2486zM0 568h2486v1h-2486zM0 574h2486v1h-2486zM0 581h2486v1h-2486zM0 587h2486v1h-2486zM0 594h2486v1h-2486zM0 600h2486v1h-2486zM0 607h2486v1h-2486zM0 613h2486v1h-2486zM0 620h2486v1h-2486zM0 626h2486v1h-2486zM0 633h2486v1h-2486zM0 639h2486v1h-2486zM0 646h2486v1h-2486zM0 652h2486v1h-2486zM0 659h2486v1h-2486zM0 665h2486v1h-2486zM0 672h2486v1h-2486zM0 678h2486v1h-2486zM0 685h2486v1h-2486zM0 691h2486v1h-2486zM0 698h2486v1h-2486zM0 704h2486v1h-2486zM0 711h2486v1h-2486zM0 717h2486v1h-2486zM0 724h2486v1h-2486zM0 731h2486v1h-2486zM0 737h2486v1h-2486zM0 744h2486v1h-2486zM0 750h2486v1h-2486zM0 757h2486v1h-2486zM0 763h2486v1h-2486zM0 770h2486v1h-2486zM0 776h2486v1h-2486zM0 783h2486v1h-2486zM0 789h2486v1h-2486zM0 796h2486v1h-2486zM0 802h2486v1h-2486zM0 809h2486v1h-2486zM0 815h2486v1h-2486zM0 822h2486v1h-2486zM0 828h2486v1h-2486zM0 835h2486v1h-2486zM0 841h2486v1h-2486zM0 848h2486v1h-2486zM0 854h2486v1h-2486zM0 861h2486v1h-2486zM0 867h2486v1h-2486zM0 874h2486v1h-2486zM0 880h2486v1h-2486zM0 887h2486v1h-2486zM0 893h2486v1h-2486zM0 900h2486v1h-2486zM0 906h2486v1h-2486zM0 913h2486v1h-2486zM0 919h2486v1h-2486zM0 926h2486v1h-2486zM0 932h2486v1h-2486zM0 939h2486v1h-2486zM0 945h2486v1h-2486zM0 952h2486v1h-2486zM0 958h2486v1h-2486zM0 965h2486v1h-2486zM0 971h2486v1h-2486zM0 978h2486v1h-2486zM0 984h2486v1h-2486zM0 991h2486v1h-2486zM0 997h2486v1h-2486zM0 1004h2486v1h-2486zM0 1010h2486v1h-2486zM0 1017h2486v1h-2486zM0 1023h2486v1h-2486zM0 1030h2486v1h-2486zM0 1036h2486v1h-2486zM0 1043h2486v1h-2486zM0 1049h2486v1h-2486zM0 1056h2486v1h-2486zM0 1062h2486v1h-2486zM0 1069h2486v1h-2486zM0 1075h2486v1h-2486zM0 1082h2486v1h-2486zM0 1088h2486v1h-2486zM0 1095h2486v1h-2486zM0 1101h2486v1h-2486zM0 1108h2486v1h-2486zM0 1114h2486v1h-2486zM0 1121h2486v1h-2486zM0 1127h2486v1h-2486zM0 1134h2486v1h-2486zM0 1140h2486v1h-2486zM0 1147h2486v1h-2486zM0 1153h2486v1h-2486zM0 1160h2486v1h-2486zM0 1166h2486v1h-2486zM0 1173h2486v1h-2486zM0 1179h2486v1h-2486zM0 1186h2486v1h-2486zM0 1192h2486v1h-2486zM0 1199h2486v1h-2486zM0 1205h2486v1h-2486zM0 1212h2486v1h-2486zM0 1218h2486v1h-2486zM0 1225h2486v1h-2486zM0 1231h2486v1h-2486zM0 1238h2486v1h-2486zM0 1244h2486v1h-2486zM0 1251h2486v1h-2486zM0 1257h2486v1h-2486zM0 1264h2486v1h-2486zM0 1270h2486v1h-2486zM0 1277h2486v1h-2486zM0 1283h2486v1h-2486zM0 1290h2486v1h-2486zM0 1296h2486v1h-2486zM0 1303h2486v1h-2486zM0 1309h2486v1h-2486zM0 1316h2486v1h-2486zM0 1322h2486v1h-2486zM0 1329h2486v1h-2486zM0 1335h2486v1h-2486zM0 1342h2486v1h-2486zM0 1348h2486v1h-2486zM0 1355h2486v1h-2486zM0 1361h2486v1h-2486zM0 1368h2486v1h-2486zM0 1374h2486v1h-2486zM0 1381h2486v1h-2486zM0 1387h2486v1h-2486zM0 1394h2486v1h-2486zM0 1400h2486v1h-2486zM0 1407h2486v1h-2486zM0 1413h2486v1h-2486zM0 1420h2486v1h-2486zM0 1426h2486v1h-2486zM0 1433h2486v1h-2486zM0 1439h2486v1h-2486zM0 1446h2486v1h-2486zM0 1452h2486v1h-2486zM0 1459h2486v1h-2486zM0 1465h2486v1h-2486zM0 1472h2486v1h-2486zM0 1478h2486v1h-2486zM0 1485h2486v1h-2486zM0 1491h2486v1h-2486zM0 1498h2486v1h-2486zM0 1504h2486v1h-2486zM0 1511h2486v1h-2486zM0 1517h2486v1h-2486zM0 1524h2486v1h-2486zM0 1530h2486v1h-2486zM0 1537h2486v1h-2486zM0 1543h2486v1h-2486zM0 1550h2486v1h-2486zM0 1556h2486v1h-2486zM0 1563h2486v1h-2486zM0 1569h2486v1h-2486zM0 1576h2486v1h-2486zM0 1582h2486v1h-2486zM0 1589h2486v1h-2486zM0 1595h2486v1h-2486zM0 1602h2486v1h-2486zM0 1608h2486v1h-2486zM0 1615h2486v1h-2486zM0 1621h2486v1h-2486zM0 1628h2486v1h-2486zM0 1634h2486v1h-2486zM0 1641h2486v1h-2486zM0 1647h2486v1h-2486zM0 1654h2486v1h-2486zM0 1660h2486v1h-2486z"/>
<path fill="rgb(0,128,0)" d="M0 1h2486v1h-2486zM0 8h2486v1h-2486zM0 14h2486v1h-2486zM0 21h2486v1h-2486zM0 27h2486v1h-2486zM0 34h2486v1h-2486zM0 40h2486v1h-2486zM0 47h2486v1h-2486zM0 53h2486v1h-2486zM0 60h2486v1h-2486zM0 66h2486v1h-2486zM0 73h2486v1h-2486zM0 79h2486v1h-2486zM0 86h2486v1h-2486zM0 92h2486v1h-2486zM0 99h2486v1h-2486zM0 105h2486v1h-2486zM0 112h2486v1h-2486zM0 118h2486v1h-2486zM0 125h2486v1h-2486zM0 131h2486v1h-2486zM0 138h2486v1h-2486zM0 144h2486v1h-2486zM0 151h2486v1h-2486zM0 157h2486v1h-2486zM0 164h2486v1h-2486zM0 170h2486v1h-2486zM0 177h2486v1h-2486zM0 183h2486v1h-2486zM0 190h2486v1h-2486zM0 196h2486v1h-2486zM0 203h2486v1h-2486zM0 209h2486v1h-2486zM0 216h2486v1h-2486zM0 222h2486v1h-2486zM0 229h2486v1h-2486zM0 235h2486v1h-2486zM0 242h2486v1h-2486zM0 248h2486v1h-2486zM0 255h2486v1h-2486zM0 261h2486v1h-2486zM0 268h2486v1h-2486zM0 274h2486v1h-2486zM0 281h2486v1h-2486zM0 287h2486v1h-2486zM0 294h2486v1h-2486zM0 300h2486v1h-2486zM0 307h2486v1h-2486zM0 313h2486v1h-2486zM0 320h2486v1h-2486zM0 326h2486v1h-2486zM0 333h2486v1h-2486zM0 339h2486v1h-2486zM0 346h2486v1h-2486zM0 352h2486v1h-2486zM0 359h2486v1h-2486zM0 365h2486v1h-2486zM0 372h2486v1h-2486zM0 378h2486v1h-2486zM0 385h2486v1h-2486zM0 391h2486v1h-2486zM0 398h2486v1h-2486zM0 404h2486v1h-2486zM0 411h2486v1h-2486zM0 417h2486v1h-2486zM0 424h2486v1h-2486zM0 430h2486v1h-2486zM0 437h2486v1h-2486zM0 443h2486v1h-2486zM0 450h2486v1h-2486zM0 456h2486v1h-2486zM0 463h2486v1h-2486zM0 469h2486v1h-2486zM0 476h2486v1h-2486zM0 482h2486v1h-2486zM0 489h2486v1h-2486zM0 495h2486v1h-2486zM0 502h2486v1h-2486zM0 508h2486v1h-2486zM0 515h2486v1h-2486zM0 521h2486v1h-2486zM0 528h2486v1h-2486zM0 534h2486v1h-2486zM0 541h2486v1h-2486zM0 547h2486v1h-2486zM0 554h2486v1h-2486zM0 560h2486v1h-2486zM0 567h2486v1h-2486zM0 573h2486v1h-2486zM0 580h2486v1h-2486zM0 586h2486v1h-2486zM0 593h2486v1h-2486zM0 599h2486v1h-2486zM0 606h2486v1h-2486zM0 612h2486v1h-2486zM0 619h2486v1h-2486zM0 625h2486v1h-2486zM0 632h2486v1h-2486zM0 638h2486v1h-2486zM0 645h2486v1h-2486zM0 651h2486v1h-2486zM0 658h2486v1h-2486zM0 664h2486v1h-2486zM0 671h2486v1h-2486zM0 677h2486v1h-2486zM0 684h2486v1h-2486zM0 690h2486v1h-2486zM0 697h2486v1h-2486zM0 703h2486v1h-2486zM0 710h2486v1h-2486zM0 716h2486v1h-2486zM0 723h2486v1h-2486zM0 730h2486v1h-2486zM0 736h2486v1h-2486zM0 743h2486v1h-2486zM0 749h2486v1h-2486zM0 756h2486v1h-2486zM0 762h2486v1h-2486zM0 769h2486v1h-2486zM0 775h2486v1h-2486zM0 782h2486v1h-2486zM0 788h2486v1h-2486zM0 795h2486v1h-2486zM0 801h2486v1h-2486zM0 808h2486v1h-2486zM0 814h2486v1h-2486zM0 821h2486v1h-2486zM0 827h2486v1h-2486zM0 834h2486v1h-2486zM0 840h2486v1h-2486zM0 847h2486v1h-2486zM0 853h2486v1h-2486zM0 860h2486v1h-2486zM0 866h2486v1h-2486zM0 873h2486v1h-2486zM0 879h2486v1h-2486zM0 886h2486v1h-2486zM0 892h2486v1h-2486zM0 899h2486v1h-2486zM0 905h2486v1h-2486zM0 912h2486v1h-2486zM0 918h2486v1h-2486zM0 925h2486v1h-2486zM0 931h2486v1h-2486zM0 938h2486v1h-2486zM0 944h2486v1h-2486zM0 951h2486v1h-2486zM0 957h2486v1h-2486zM0 964h2486v1h-2486zM0 970h2486v1h-2486zM0 977h2486v1h-2486zM0 983h2486v1h-2486zM0 990h2486v1h-2486zM0 996h2486v1h-2486zM0 1003h2486v1h-2486zM0 1009h2486v1h-2486zM0 1016h2486v1h-2486zM0 1022h2486v1h-2486zM0 1029h2486v1h-2486zM0 1035h2486v1h-2486zM0 1042h2486v1h-2486zM0 1048h2486v1h-2486zM0 1055h2486v1h-2486zM0 1061h2486v1h-2486zM0 1068h2486v1h-2486zM0 1074h2486v1h-2486zM0 1081h2486v1h-2486zM0 1087h2486v1h-2486zM0 1094h2486v1h-2486zM0 1100h2486v1h-2486zM0 1107h2486v1h-2486zM0 1113h2486v1h-2486zM0 1120h2486v1h-2486zM0 1126h2486v1h-2486zM0 1133h2486v1h-2486zM0 1139h2486v1h-2486zM0 1146h2486v1h-2486zM0 1152h2486v1h-2486zM0 1159h2486v1h-2486zM0 1165h2486v1h-2486zM0 1172h2486v1h-2486zM0 1178h2486v1h-2486zM0 1185h2486v1h-2486zM0 1191h2486v1h-2486zM0 1198h2486v1h-2486zM0 1204h2486v1h-2486zM0 1211h2486v1h-2486zM0 1217h2486v1h-2486zM0 1224h2486v1h-2486zM0 1230h2486v1h-2486zM0 1237h2486v1h-2486zM0 1243h2486v1h-2486zM0 1250h2486v1h-2486zM0 1256h2486v1h-2486zM0 1263h2486v1h-2486zM0 1269h2486v1h-2486zM0 1276h2486v1h-2486zM0 1282h2486v1h-2486zM0 1289h2486v1h-2486zM0 1295h2486v1h-2486zM0 1302h2486v1h-2486zM0 1308h2486v1h-2486zM0 1315h2486v1h-2486zM0 1321h2486v1h-2486zM0 1328h2486v1h-2486zM0 1334h2486v1h-2486zM0 1341h2486v1h-2486zM0 1347h2486v1h-2486zM0 1354h2486v1h-2486zM0 1360h2486v1h-2486zM0 1367h2486v1h-2486zM0 1373h2486v1h-2486zM0 1380h2486v1h-2486zM0 1386h2486v1h-2486zM0 1393h2486v1h-2486zM0 1399h2486v1h-2486zM0 1406h2486v1h-2486zM0 1412h2486v1h-2486zM0 1419h2486v1h-2486zM0 1425h2486v1h-2486zM0 1432h2486v1h-2486zM0 1438h2486v1h-2486zM0 1445h2486v1h-2486zM0 1451h2486v1h-2486zM0 1458h2486v1h-2486zM0 1464h2486v1h-2486zM0 1471h2486v1h-2486zM0 1477h2486v1h-2486zM0 1484h2486v1h-2486zM0 1490h2486v1h-2486zM0 1497h2486v1h-2486zM0 1503h2486v1h-2486zM0 1510h2486v1h-2486zM0 1516h2486v1h-2486zM0 1523h2486v1h-2486zM0 1529h2486v1h-2486zM0 1536h2486v1h-2486zM0 1542h2486v1h-2486zM0 1549h2486v1h-2486zM0 1555h2486v1h-2486zM0 1562h2486v1h-2486zM0 1568h2486v1h-2486zM0 1575h2486v1h-2486zM0 1581h2486v1h-2486zM0 1588h2486v1h-2486zM0 1594h2486v1h-2486zM0 1601h2486v1h-2486zM0 1607h2486v1h-2486zM0 1614h2486v1h-2486zM0 1620h2486v1h-2486zM0 1627h2486v1h-2486zM0 1633h2486v1h-2486zM0 1640h2486v1h-2486zM0 1646h2486v1h-2486zM0 1653h2486v1h-2486zM0 1659h2486v1h-2486zM0 1666h2486v1h-2486z"/>
<path fill="rgb(0,143,0)" d="M0 0h2486v1h-2486zM0 7h2486v1h-2486zM0 13h2486v1h-2486zM0 20h2486v1h-2486zM0 26h2486v1h-2486zM0 33h2486v1h-2486zM0 39h2486v1h-2486zM0 46h2486v1h-2486zM0 52h2486v1h-2486zM0 59h2486v1h-2486zM0 65h2486v1h-2486zM0 72h2486v1h-2486zM0 78h2486v1h-2486zM0 85h2486v1h-2486zM0 91h2486v1h-2486zM0 98h2486v1h-2486zM0 104h2486v1h-2486zM0 111h2486v1h-2486zM0 117h2486v1h-2486zM0 124h2486v1h-2486zM0 130h2486v1h-2486zM0 137h2486v1h-2486zM0 143h2486v1h-2486zM0 150h2486v1h-2486zM0 156h2486v1h-2486zM0 163h2486v1h-2486zM0 169h2486v1h-2486zM0 176h2486v1h-2486zM0 182h2486v1h-2486zM0 189h2486v1h-2486zM0 195h2486v1h-2486zM0 202h2486v1h-2486zM0 208h2486v1h-2486zM0 215h2486v1h-2486zM0 221h2486v1h-2486zM0 228h2486v1h-2486zM0 234h2486v1h-2486zM0 241h2486v1h-2486zM0 247h2486v1h-2486zM0 254h2486v1h-2486zM0 260h2486v1h-2486zM0 267h2486v1h-2486zM0 273h2486v1h-2486zM0 280h2486v1h-2486zM0 286h2486v1h-2486zM0 293h2486v1h-2486zM0 299h2486v1h-2486zM0 306h2486v1h-2486zM0 312h2486v1h-2486zM0 319h2486v1h-2486zM0 325h2486v1h-2486zM0 332h2486v1h-2486zM0 338h2486v1h-2486zM0 345h2486v1h-2486zM0 351h2486v1h-2486zM0 358h2486v1h-2486zM0 364h2486v1h-2486zM0 371h2486v1h-2486zM0 377h2486v1h-2486zM0 384h2486v1h-2486zM0 390h2486v1h-2486zM0 397h2486v1h-2486zM0 403h2486v1h-2486zM0 410h2486v1h-2486zM0 416h2486v1h-2486zM0 423h2486v1h-2486zM0 429h2486v1h-2486zM0 436h2486v1h-2486zM0 442h2486v1h-2486zM0 449h2486v1h-2486zM0 455h2486v1h-2486zM0 462h2486v1h-2486zM0 468h2486v1h-2486zM0 475h2486v1h-2486zM0 481h2486v1h-2486zM0 488h2486v1h-2486zM0 494h2486v1h-2486zM0 501h2486v1h-2486zM0 507h2486v1h-2486zM0 514h2486v1h-2486zM0 520h2486v1h-2486zM0 527h2486v1h-2486zM0 533h2486v1h-2486zM0 540h2486v1h-2486zM0 546h2486v1h-2486zM0 553h2486v1h-2486zM0 559h2486v1h-2486zM0 566h2486v1h-2486zM0 572h2486v1h-2486zM0 579h2486v1h-2486zM0 585h2486v1h-2486zM0 592h2486v1h-2486zM0 598h2486v1h-2486zM0 605h2486v1h-2486zM0 611h2486v1h-2486zM0 618h2486v1h-2486zM0 624h2486v1h-2486zM0 631h2486v1h-2486zM0 637h2486v1h-2486zM0 644h2486v1h-2486zM0 650h2486v1h-2486zM0 657h2486v1h-2486zM0 663h2486v1h-2486zM0 670h2486v1h-2486zM0 676h2486v1h-2486zM0 683h2486v1h-2486zM0 689h2486v1h-2486zM0 696h2486v1h-2486zM0 702h2486v1h-2486zM0 709h2486v1h-2486zM0 715h2486v1h-2486zM0 722h2486v1h-2486zM0 729h2486v1h-2486zM0 735h2486v1h-2486zM0 742h2486v1h-2486zM0 748h2486v1h-2486zM0 755h2486v1h-2486zM0 761h2486v1h-2486zM0 768h2486v1h-2486zM0 774h2486v1h-2486zM0 781h2486v1h-2486zM0 787h2486v1h-2486zM0 794h2486v1h-2486zM0 800h2486v1h-2486zM0 807h2486v1h-2486zM0 813h2486v1h-2486zM0 820h2486v1h-2486zM0 826h2486v1h-2486zM0 833h2486v1h-2486zM0 839h2486v1h-2486zM0 846h2486v1h-2486zM0 852h2486v1h-2486zM0 859h2486v1h-2486zM0 865h2486v1h-2486zM0 872h2486v1h-2486zM0 878h2486v1h-2486zM0 885h2486v1h-2486zM0 891h2486v1h-2486zM0 898h2486v1h-2486zM0 904h2486v1h-2486zM0 911h2486v1h-2486zM0 917h2486v1h-2486zM0 924h2486v1h-2486zM0 930h2486v1h-2486zM0 937h2486v1h-2486zM0 943h2486v1h-2486zM0 950h2486v1h-2486zM0 956h2486v1h-2486zM0 963h2486v1h-2486zM0 969h2486v1h-2486zM0 976h2486v1h-2486zM0 982h2486v1h-2486zM0 989h2486v1h-2486zM0 995h2486v1h-2486zM0 1002h2486v1h-2486zM0 1008h2486v1h-2486zM0 1015h2486v1h-2486zM0 1021h2486v1h-2486zM0 1028h2486v1h-2486zM0 1034h2486v1h-2486zM0 1041h2486v1h-2486zM0 1047h2486v1h-2486zM0 1054h2486v1h-2486zM0 1060h2486v1h-2486zM0 1067h2486v1h-2486zM0 1073h2486v1h-2486zM0 1080h2486v1h-2486zM0 1086h2486v1h-2486zM0 1093h2486v1h-2486zM0 1099h2486v1h-2486zM0 1106h2486v1h-2486zM0 1112h2486v1h-2486zM0 1119h2486v1h-2486zM0 1125h2486v1h-2486zM0 1132h2486v1h-2486zM0 1138h2486v1h-2486zM0 1145h2486v1h-2486zM0 1151h2486v1h-2486zM0 1158h2486v1h-2486zM0 1164h2486v1h-2486zM0 1171h2486v1h-2486zM0 1177h2486v1h-2486zM0 1184h2486v1h-2486zM0 1190h2486v1h-2486zM0 1197h2486v1h-2486zM0 1203h2486v1h-2486zM0 1210h2486v1h-2486zM0 1216h2486v1h-2486zM0 1223h2486v1h-2486zM0 1229h2486v1h-2486zM0 1236h2486v1h-2486zM0 1242h2486v1h-2486zM0 1249h2486v1h-2486zM0 1255h2486v1h-2486zM0 1262h2486v1h-2486zM0 1268h2486v1h-2486zM0 1275h2486v1h-2486zM0 1281h2486v1h-2486zM0 1288h2486v1h-2486zM0 1294h2486v1h-2486zM0 1301h2486v1h-2486zM0 1307h2486v1h-2486zM0 1314h2486v1h-2486zM0 1320h2486v1h-2486zM0 1327h2486v1h-2486zM0 1333h2486v1h-2486zM0 1340h2486v1h-2486zM0 1346h2486v1h-2486zM0 1353h2486v1h-2486zM0 1359h2486v1h-2486zM0 1366h2486v1h-2486zM0 1372h2486v1h-2486zM0 1379h2486v1h-2486zM0 1385h2486v1h-2486zM0 1392h2486v1h-2486zM0 1398h2486v1h-2486zM0 1405h2486v1h-2486zM0 1411h2486v1h-2486zM0 1418h2486v1h-2486zM0 1424h2486v1h-2486zM0 1431h2486v1h-2486zM0 1437h2486v1h-2486zM0 1444h2486v1h-2486zM0 1450h2486v1h-2486zM0 1457h2486v1h-2486zM0 1463h2486v1h-2486zM0 1470h2486v1h-2486zM0 1476h2486v1h-2486zM0 1483h2486v1h-2486zM0 1489h2486v1h-2486zM0 1496h2486v1h-2486zM0 1502h2486v1h-2486zM0 1509h2486v1h-2486zM0 1515h2486v1h-2486zM0 1522h2486v1h-2486zM0 1528h2486v1h-2486zM0 1535h2486v1h-2486zM0 1541h2486v1h-2486zM0 1548h2486v1h-2486zM0 1554h2486v1h-2486zM0 1561h2486v1h-2486zM0 1567h2486v1h-2486zM0 1574h2486v1h-2486zM0 1580h2486v1h-2486zM0 1587h2486v1h-2486zM0 1593h2486v1h-2486zM0 1600h2486v1h-2486zM0 1606h2486v1h-2486zM0 1613h2486v1h-2486zM0 1619h2486v1h-2486zM0 1626h2486v1h-2486zM0 1632h2486v1h-2486zM0 1639h2486v1h-2486zM0 1645h2486v1h-2486zM0 1652h2486v1h-2486zM0 1658h2486v1h-2486zM0 1665h2486v1h-2486z"/>
<path fill="rgb(0,159,0)" d="M0 6h2486v1h-2486zM0 12h2486v1h-2486zM0 19h2486v1h-2486zM0 25h2486v1h-2486zM0 32h2486v1h-2486zM0 38h2486v1h-2486zM0 45h2486v1h-2486zM0 51h2486v1h-2486zM0 58h2486v1h-2486zM0 64h2486v1h-2486zM0 71h2486v1h-2486zM0 77h2486v1h-2486zM0 84h2486v1h-2486zM0 90h2486v1h-2486zM0 97h2486v1h-2486zM0 103h2486v1h-2486zM0 110h2486v1h-2486zM0 116h2486v1h-2486zM0 123h2486v1h-2486zM0 129h2486v1h-2486zM0 136h2486v1h-2486zM0 142h2486v1h-2486zM0 149h2486v1h-2486zM0 155h2486v1h-2486zM0 162h2486v1h-2486zM0 168h2486v1h-2486zM0 175h2486v1h-2486zM0 181h2486v1h-2486zM0 188h2486v1h-2486zM0 194h2486v1h-2486zM0 201h2486v1h-2486zM0 207h2486v1h-2486zM0 214h2486v1h-2486zM0 220h2486v1h-2486zM0 227h2486v1h-2486zM0 233h2486v1h-2486zM0 240h2486v1h-2486zM0 246h2486v1h-2486zM0 253h2486v1h-2486zM0 259h2486v1h-2486zM0 266h2486v1h-2486zM0 272h2486v1h-2486zM0 279h2486v1h-2486zM0 285h2486v1h-2486zM0 292h2486v1h-2486zM0 298h2486v1h-2486zM0 305h2486v1h-2486zM0 311h2486v1h-2486zM0 318h2486v1h-2486zM0 324h2486v1h-2486zM0 331h2486v1h-2486zM0 337h2486v1h-2486zM0 344h2486v1h-2486zM0 350h2486v1h-2486zM0 357h2486v1h-2486zM0 363h2486v1h-2486zM0 370h2486v1h-2486zM0 376h2486v1h-2486zM0 383h2486v1h-2486zM0 389h2486v1h-2486zM0 396h2486v1h-2486zM0 402h2486v1h-2486zM0 409h2486v1h-2486zM0 415h2486v1h-2486zM0 422h2486v1h-2486zM0 428h2486v1h-2486zM0 435h2486v1h-2486zM0 441h2486v1h-2486zM0 448h2486v1h-2486zM0 454h2486v1h-2486zM0 461h2486v1h-2486zM0 467h2486v1h-2486zM0 474h2486v1h-2486zM0 480h2486v1h-2486zM0 487h2486v1h-2486zM0 493h2486v1h-2486zM0 500h2486v1h-2486zM0 506h2486v1h-2486zM0 513h2486v1h-2486zM0 519h2486v1h-2486zM0 526h2486v1h-2486zM0 532h2486v1h-2486zM0 539h2486v1h-2486zM0 545h2486v1h-2486zM0 552h2486v1h-2486zM0 558h2486v1h-2486zM0 565h2486v1h-2486zM0 571h2486v1h-2486zM0 578h2486v1h-2486zM0 584h2486v1h-2486zM0 591h2486v1h-2486zM0 597h2486v1h-2486zM0 604h2486v1h-2486zM0 610h2486v1h-2486zM0 617h2486v1h-2486zM0 623h2486v1h-2486zM0 630h2486v1h-2486zM0 636h2486v1h-2486zM0 643h2486v1h-2486zM0 649h2486v1h-2486zM0 656h2486v1h-2486zM0 662h2486v1h-2486zM0 669h2486v1h-2486zM0 675h2486v1h-2486zM0 682h2486v1h-2486zM0 688h2486v1h-2486zM0 695h2486v1h-2486zM0 701h2486v1h-2486zM0 708h2486v1h-2486zM0 714h2486v1h-2486zM0 721h2486v1h-2486zM0 728h2486v1h-2486zM0 734h2486v1h-2486zM0 741h2486v1h-2486zM0 747h2486v1h-2486zM0 754h2486v1h-2486zM0 760h2486v1h-2486zM0 767h2486v1h-2486zM0 773h2486v1h-2486zM0 780h2486v1h-2486zM0 786h2486v1h-2486zM0 793h2486v1h-2486zM0 799h2486v1h-2486zM0 806h2486v1h-2486zM0 812h2486v1h-2486zM0 819h2486v1h-2486zM0 825h2486v1h-2486zM0 832h2486v1h-2486zM0 838h2486v1h-2486zM0 845h2486v1h-2486zM0 851h2486v1h-2486zM0 858h2486v1h-2486zM0 864h2486v1h-2486zM0 871h2486v1h-2486zM0 877h2486v1h-2486zM0 884h2486v1h-2486zM0 890h2486v1h-2486zM0 897h2486v1h-2486zM0 903h2486v1h-2486zM0 910h2486v1h-2486zM0 916h2486v1h-2486zM0 923h2486v1h-2486zM0 929h2486v1h-2486zM0 936h2486v1h-2486zM0 942h2486v1h-2486zM0 949h2486v1h-2486zM0 955h2486v1h-2486zM0 962h2486v1h-2486zM0 968h2486v1h-2486zM0 975h2486v1h-2486zM0 981h2486v1h-2486zM0 988h2486v1h-2486zM0 994h2486v1h-2486zM0 1001h2486v1h-2486zM0 1007h2486v1h-2486zM0 1014h2486v1h-2486zM0 1020h2486v1h-2486zM0 1027h2486v1h-2486zM0 1033h2486v1h-2486zM0 1040h2486v1h-2486zM0 1046h2486v1h-2486zM0 1053h2486v1h-2486zM0 1059h2486v1h-2486zM0 1066h2486v1h-2486zM0 1072h2486v1h-2486zM0 1079h2486v1h-2486zM0 1085h2486v1h-2486zM0 1092h2486v1h-2486zM0 1098h2486v1h-2486zM0 1105h2486v1h-2486zM0 1111h2486v1h-2486zM0 1118h2486v1h-2486zM0 1124h2486v1h-2486zM0 1131h2486v1h-2486zM0 1137h2486v1h-2486zM0 1144h2486v1h-2486zM0 1150h2486v1h-2486zM0 1157h2486v1h-2486zM0 1163h2486v1h-2486zM0 1170h2486v1h-2486zM0 1176h2486v1h-2486zM0 1183h2486v1h-2486zM0 1189h2486v1h-2486zM0 1196h2486v1h-2486zM0 1202h2486v1h-2486zM0 1209h2486v1h-2486zM0 1215h2486v1h-2486zM0 1222h2486v1h-2486zM0 1228h2486v1h-2486zM0 1235h2486v1h-2486zM0 1241h2486v1h-2486zM0 1248h2486v1h-2486zM0 1254h2486v1h-2486zM0 1261h2486v1h-2486zM0 1267h2486v1h-2486zM0 1274h2486v1h-2486zM0 1280h2486v1h-2486zM0 1287h2486v1h-2486zM0 1293h2486v1h-2486zM0 1300h2486v1h-2486zM0 1306h2486v1h-2486zM0 1313h2486v1h-2486zM0 1319h2486v1h-2486zM0 1326h2486v1h-2486zM0 1332h2486v1h-2486zM0 1339h2486v1h-2486zM0 1345h2486v1h-2486zM0 1352h2486v1h-2486zM0 1358h2486v1h-2486zM0 1365h2486v1h-2486zM0 1371h2486v1h-2486zM0 1378h2486v1h-2486zM0 1384h2486v1h-2486zM0 1391h2486v1h-2486zM0 1397h2486v1h-2486zM0 1404h2486v1h-2486zM0 1410h2486v1h-2486zM0 1417h2486v1h-2486zM0 1423h2486v1h-2486zM0 1430h2486v1h-2486zM0 1436h2486v1h-2486zM0 1443h2486v1h-2486zM0 1449h2486v1h-2486zM0 1456h2486v1h-2486zM0 1462h2486v1h-2486zM0 1469h2486v1h-2486zM0 1475h2486v1h-2486zM0 1482h2486v1h-2486zM0 1488h2486v1h-2486zM0 1495h2486v1h-2486zM0 1501h2486v1h-2486zM0 1508h2486v1h-2486zM0 1514h2486v1h-2486zM0 1521h2486v1h-2486zM0 1527h2486v1h-2486zM0 1534h2486v1h-2486zM0 1540h2486v1h-2486zM0 1547h2486v1h-2486zM0 1553h2486v1h-2486zM0 1560h2486v1h-2486zM0 1566h2486v1h-2486zM0 1573h2486v1h-2486zM0 1579h2486v1h-2486zM0 1586h2486v1h-2486zM0 1592h2486v1h-2486zM0 1599h2486v1h-2486zM0 1605h2486v1h-2486zM0 1612h2486v1h-2486zM0 1618h2486v1h-2486zM0 1625h2486v1h-2486zM0 1631h2486v1h-2486zM0 1638h2486v1h-2486zM0 1644h2486v1h-2486zM0 1651h2486v1h-2486zM0 1657h2486v1h-2486zM0 1664h2486v1h-2486z"/>
<path fill="rgb(0,175,0)" d="M0 5h2486v1h-2486zM0 11h2486v1h-2486zM0 18h2486v1h-2486zM0 24h2486v1h-2486zM0 31h2486v1h-2486zM0 37h2486v1h-2486zM0 44h2486v1h-2486zM0 50h2486v1h-2486zM0 57h2486v1h-2486zM0 63h2486v1h-2486zM0 70h2486v1h-2486zM0 76h2486v1h-2486zM0 83h2486v1h-2486zM0 89h2486v1h-2486zM0 96h2486v1h-2486zM0 102h2486v1h-2486zM0 109h2486v1h-2486zM0 115h2486v1h-2486zM0 122h2486v1h-2486zM0 128h2486v1h-2486zM0 135h2486v1h-2486zM0 141h2486v1h-2486zM0 148h2486v1h-2486zM0 154h2486v1h-2486zM0 161h2486v1h-2486zM0 167h2486v1h-2486zM0 174h2486v1h-2486zM0 180h2486v1h-2486zM0 187h2486v1h-2486zM0 193h2486v1h-2486zM0 200h2486v1h-2486zM0 206h2486v1h-2486zM0 213h2486v1h-2486zM0 219h2486v1h-2486zM0 226h2486v1h-2486zM0 232h2486v1h-2486zM0 239h2486v1h-2486zM0 245h2486v1h-2486zM0 252h2486v1h-2486zM0 258h2486v1h-2486zM0 265h2486v1h-2486zM0 271h2486v1h-2486zM0 278h2486v1h-2486zM0 284h2486v1h-2486zM0 291h2486v1h-2486zM0 297h2486v1h-2486zM0 304h2486v1h-2486zM0 310h2486v1h-2486zM0 317h2486v1h-2486zM0 323h2486v1h-2486zM0 330h2486v1h-2486zM0 336h2486v1h-2486zM0 343h2486v1h-2486zM0 349h2486v1h-2486zM0 356h2486v1h-2486zM0 362h2486v1h-2486zM0 369h2486v1h-2486zM0 375h2486v1h-2486zM0 382h2486v1h-2486zM0 388h2486v1h-2486zM0 395h2486v1h-2486zM0 401h2486v1h-2486zM0 408h2486v1h-2486zM0 414h2486v1h-2486zM0 421h2486v1h-2486zM0 427h2486v1h-2486zM0 434h2486v1h-2486zM0 440h2486v1h-2486zM0 447h2486v1h-2486zM0 453h2486v1h-2486zM0 460h2486v1h-2486zM0 466h2486v1h-2486zM0 473h2486v1h-2486zM0 479h2486v1h-2486zM0 486h2486v1h-2486zM0 492h2486v1h-2486zM0 499h2486v1h-2486zM0 505h2486v1h-2486zM0 512h2486v1h-2486zM0 518h2486v1h-2486zM0 525h2486v1h-2486zM0 531h2486v1h-2486zM0 538h2486v1h-2486zM0 544h2486v1h-2486zM0 551h2486v1h-2486zM0 557h2486v1h-2486zM0 564h2486v1h-2486zM0 570h2486v1h-2486zM0 577h2486v1h-2486zM0 583h2486v1h-2486zM0 590h2486v1h-2486zM0 596h2486v1h-2486zM0 603h2486v1h-2486zM0 609h2486v1h-2486zM0 616h2486v1h-2486zM0 622h2486v1h-2486zM0 629h2486v1h-2486zM0 635h2486v1h-2486zM0 642h2486v1h-2486zM0 648h2486v1h-2486zM0 655h2486v1h-2486zM0 661h2486v1h-2486zM0 668h2486v1h-2486zM0 674h2486v1h-2486zM0 681h2486v1h-2486zM0 687h2486v1h-2486zM0 694h2486v1h-2486zM0 700h2486v1h-2486zM0 707h2486v1h-2486zM0 713h2486v1h-2486zM0 720h2486v1h-2486zM0 727h2486v1h-2486zM0 733h2486v1h-2486zM0 740h2486v1h-2486zM0 746h2486v1h-2486zM0 753h2486v1h-2486zM0 759h2486v1h-2486zM0 766h2486v1h-2486zM0 772h2486v1h-2486zM0 779h2486v1h-2486zM0 785h2486v1h-2486zM0 792h2486v1h-2486zM0 798h2486v1h-2486zM0 805h2486v1h-2486zM0 811h2486v1h-2486zM0 818h2486v1h-2486zM0 824h2486v1h-2486zM0 831h2486v1h-2486zM0 837h2486v1h-2486zM0 844h2486v1h-2486zM0 850h2486v1h-2486zM0 857h2486v1h-2486zM0 863h2486v1h-2486zM0 870h2486v1h-2486zM0 876h2486v1h-2486zM0 883h2486v1h-2486zM0 889h2486v1h-2486zM0 896h2486v1h-2486zM0 902h2486v1h-2486zM0 909h2486v1h-2486zM0 915h2486v1h-2486zM0 922h2486v1h-2486zM0 928h2486v1h-2486zM0 935h2486v1h-2486zM0 941h2486v1h-2486zM0 948h2486v1h-2486zM0 954h2486v1h-2486zM0 961h2486v1h-2486zM0 967h2486v1h-2486zM0 974h2486v1h-2486zM0 980h2486v1h-2486zM0 987h2486v1h-2486zM0 993h2486v1h-2486zM0 1000h2486v1h-2486zM0 1006h2486v1h-2486zM0 1013h2486v1h-2486zM0 1019h2486v1h-2486zM0 1026h2486v1h-2486zM0 1032h2486v1h-2486zM0 1039h2486v1h-2486zM0 1045h2486v1h-2486zM0 1052h2486v1h-2486zM0 1058h2486v1h-2486zM0 1065h2486v1h-2486zM0 1071h2486v1h-2486zM0 1078h2486v1h-2486zM0 1084h2486v1h-2486zM0 1091h2486v1h-2486zM0 1097h2486v1h-2486zM0 1104h2486v1h-2486zM0 1110h2486v1h-2486zM0 1117h2486v1h-2486zM0 1123h2486v1h-2486zM0 1130h2486v1h-2486zM0 1136h2486v1h-2486zM0 1143h2486v1h-2486zM0 1149h2486v1h-2486zM0 1156h2486v1h-2486zM0 1162h2486v1h-2486zM0 1169h2486v1h-2486zM0 1175h2486v1h-2486zM0 1182h2486v1h-2486zM0 1188h2486v1h-2486zM0 1195h2486v1h-2486zM0 1201h2486v1h-2486zM0 1208h2486v1h-2486zM0 1214h2486v1h-2486zM0 1221h2486v1h-2486zM0 1227h2486v1h-2486zM0 1234h2486v1h-2486zM0 1240h2486v1h-2486zM0 1247h2486v1h-2486zM0 1253h2486v1h-2486zM0 1260h2486v1h-2486zM0 1266h2486v1h-2486zM0 1273h2486v1h-2486zM0 1279h2486v1h-2486zM0 1286h2486v1h-2486zM0 1292h2486v1h-2486zM0 1299h2486v1h-2486zM0 1305h2486v1h-2486zM0 1312h2486v1h-2486zM0 1318h2486v1h-2486zM0 1325h2486v1h-2486zM0 1331h2486v1h-2486zM0 1338h2486v1h-2486zM0 1344h2486v1h-2486zM0 1351h2486v1h-2486zM0 1357h2486v1h-2486zM0 1364h2486v1h-2486zM0 1370h2486v1h-2486zM0 1377h2486v1h-2486zM0 1383h2486v1h-2486zM0 1390h2486v1h-2486zM0 1396h2486v1h-2486zM0 1403h2486v1h-2486zM0 1409h2486v1h-2486zM0 1416h2486v1h-2486zM0 1422h2486v1h-2486zM0 1429h2486v1h-2486zM0 1435h2486v1h-2486zM0 1442h2486v1h-2486zM0 1448h2486v1h-2486zM0 1455h2486v1h-2486zM0 1461h2486v1h-2486zM0 1468h2486v1h-2486zM0 1474h2486v1h-2486zM0 1481h2486v1h-2486zM0 1487h2486v1h-2486zM0 1494h2486v1h-2486zM0 1500h2486v1h-2486zM0 1507h2486v1h-2486zM0 1513h2486v1h-2486zM0 1520h2486v1h-2486zM0 1526h2486v1h-2486zM0 1533h2486v1h-2486zM0 1539h2486v1h-2486zM0 1546h2486v1h-2486zM0 1552h2486v1h-2486zM0 1559h2486v1h-2486zM0 1565h2486v1h-2486zM0 1572h2486v1h-2486zM0 1578h2486v1h-2486zM0 1585h2486v1h-2486zM0 1591h2486v1h-2486zM0 1598h2486v1h-2486zM0 1604h2486v1h-2486zM0 1611h2486v1h-2486zM0 1617h2486v1h-2486zM0 1624h2486v1h-2486zM0 1630h2486v1h-2486zM0 1637h2486v1h-2486zM0 1643h2486v1h-2486zM0 1650h2486v1h-2486zM0 1656h2486v1h-2486zM0 1663h2486v1h-2486z"/>
</g>
<g id="labels" class="scr">
<text transform="translate(135.81 145.7) scale(0.911 1.042)" x="1.1 38.1 62">0.9</text>
<text transform="translate(135.88 347.84) scale(0.906 1.075)" x="0.6 38.6 61.5">0.8</text>
<text transform="translate(135.9 543.68) scale(0.912 1.099)" x="0.6 38 61.5">0.7</text>
<text transform="translate(136.01 745.82) scale(0.913 1.055)" x="0.6 38 60.9">0.6</text>
<text transform="translate(136.31 947.71) scale(0.906 1.1)" x="0.6 38 61.4">0.5</text>
<text transform="translate(135.67 1147.77) scale(0.91 1.067)" x="1.1 38.6 62">0.4</text>
<text transform="translate(135.92 1349.91) scale(0.909 1.076)" x="0.6 38 62">0.3</text>
<text transform="translate(273.59 1545.9) scale(0.91 1.104)" x="0 36.9 60.9">2.5</text>
<text transform="translate(563.6 1545.67) scale(0.92 1.097)" x="1.1 38.6 62">5.0</text>
<text transform="translate(856.64 1545.9) scale(0.911 1.1)" x="0.6 38.1 61.5">7.5</text>
<text transform="translate(1119.56 1544.68) scale(0.949 1.073)" x="3.2 39.2 81.6 103.9">10.0</text>
<text transform="translate(1406.53 1544.51) scale(0.954 1.073)" x="1.6 38.2 80.1 102.8">12.5</text>
<text transform="translate(1697.48 1544.94) scale(0.962 1.041)" x="2.1 38.2 80.6 102.8">15.0</text>
<text transform="translate(1990.81 1544.91) scale(0.945 1.059)" x="1.1 38.2 80.6 103.9">17.5</text>
<text transform="translate(2281.53 1545.76) scale(0.945 1.106)" x="2.6 39.2 81.6 103.9">20.0</text>
<text transform="translate(997.33 1635.57) scale(0.996 1.047)" x="1 49.6 90.8 153.6 194.3 234.3 261.1 281.2 321 344.4 364.5 400.2 439.5 481.2 506.2 531 571.2 589.8 607.8 647.8 675">Number of controllers</text>
<text transform="translate(82.6 791.1) rotate(-90) scale(1 1.09)" x="0 51.1">OF</text>
<text transform="translate(2097.41 147.13) scale(0.971 1.058)" x="-2.6 40.9 65.4 129.3 170.8 211.7 253.9" dy="0 4 -4 0 0 0 0">K-means</text>
<text transform="translate(2096.64 242.53) scale(0.976 1.022)" x="4.6 39.2 81 121.5 158.2 184.2 211.9 252.8">Spectral</text>
<text transform="translate(2095.21 342.36) scale(0.985 1.07)" x="-0.5 37.7 81.5">LAC</text>
<text transform="translate(2093.53 439.76) scale(1.002 1.074)" x="1 38.2 81.5 126.4 149.8 192 240.8" dy="0 0 0 3.5 -3.5 0 0">LAC-KHM</text>
</g>
</g>
</svg>
</figure>
</main>
</body>
</html>
